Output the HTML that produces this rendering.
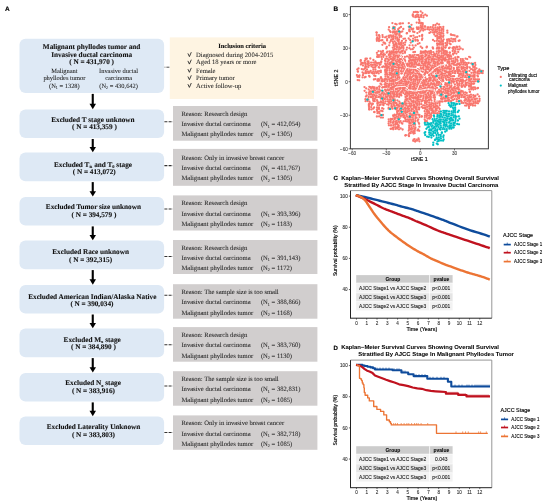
<!DOCTYPE html>
<html><head><meta charset="utf-8"><style>*{margin:0;padding:0}
html,body{width:550px;height:504px;background:#fff;overflow:hidden}
body{position:relative}
svg{position:absolute;left:0;top:0;text-rendering:geometricPrecision;will-change:transform}</style></head>
<body>
<svg style="font-family:&quot;Liberation Sans&quot;,sans-serif" width="550" height="504" viewBox="0 0 550 504">
<rect x="19.5" y="38.7" width="144.6" height="54.3" rx="6" fill="#dee9f5"/>
<text x="91.60" y="49.00" font-size="7.22" text-anchor="middle" font-weight="bold" fill="#111" stroke="#111" stroke-width="0.1" font-family="Liberation Serif">Malignant phyllodes tumor and</text>
<text x="91.60" y="56.90" font-size="7.22" text-anchor="middle" font-weight="bold" fill="#111" stroke="#111" stroke-width="0.1" font-family="Liberation Serif">Invasive ductal carcinoma</text>
<text x="91.60" y="64.30" font-size="7.22" text-anchor="middle" font-weight="bold" fill="#111" stroke="#111" stroke-width="0.1" font-family="Liberation Serif">( N = 431,970 )</text>
<text x="64.40" y="72.60" font-size="6.45" text-anchor="middle" font-weight="normal" fill="#1e1e1e" stroke="#1e1e1e" stroke-width="0.06" font-family="Liberation Serif">Malignant</text>
<text x="64.40" y="80.30" font-size="6.45" text-anchor="middle" font-weight="normal" fill="#1e1e1e" stroke="#1e1e1e" stroke-width="0.06" font-family="Liberation Serif">phyllodes tumor</text>
<text x="64.40" y="88.10" font-size="6.45" text-anchor="middle" font-weight="normal" fill="#1e1e1e" stroke="#1e1e1e" stroke-width="0.06" font-family="Liberation Serif">(N<tspan font-size="4.00" dy="1.29">1</tspan><tspan dy="-1.29"> = 1328)</tspan></text>
<text x="118.60" y="72.60" font-size="6.45" text-anchor="middle" font-weight="normal" fill="#1e1e1e" stroke="#1e1e1e" stroke-width="0.06" font-family="Liberation Serif">Invasive ductal</text>
<text x="118.60" y="80.30" font-size="6.45" text-anchor="middle" font-weight="normal" fill="#1e1e1e" stroke="#1e1e1e" stroke-width="0.06" font-family="Liberation Serif">carcinoma</text>
<text x="118.60" y="88.10" font-size="6.45" text-anchor="middle" font-weight="normal" fill="#1e1e1e" stroke="#1e1e1e" stroke-width="0.06" font-family="Liberation Serif">(N<tspan font-size="4.00" dy="1.29">2</tspan><tspan dy="-1.29"> = 430,642)</tspan></text>
<rect x="19.5" y="109.5" width="144.6" height="28.6" rx="6" fill="#dee9f5"/>
<text x="92.90" y="121.90" font-size="7.22" text-anchor="middle" font-weight="bold" fill="#111" stroke="#111" stroke-width="0.1" font-family="Liberation Serif">Excluded T stage unknown</text>
<text x="94.40" y="129.40" font-size="7.22" text-anchor="middle" font-weight="bold" fill="#111" stroke="#111" stroke-width="0.1" font-family="Liberation Serif">( N = 413,359 )</text>
<rect x="19.5" y="152.6" width="144.6" height="28.6" rx="6" fill="#dee9f5"/>
<text x="93.00" y="166.60" font-size="7.22" text-anchor="middle" font-weight="bold" fill="#111" stroke="#111" stroke-width="0.1" font-family="Liberation Serif">Excluded T<tspan font-size="4.48" dy="1.44">is</tspan><tspan dy="-1.44"> and T</tspan><tspan font-size="4.48" dy="1.44">0</tspan><tspan dy="-1.44"> stage</tspan></text>
<text x="94.20" y="174.30" font-size="7.22" text-anchor="middle" font-weight="bold" fill="#111" stroke="#111" stroke-width="0.1" font-family="Liberation Serif">( N = 413,072)</text>
<rect x="19.5" y="196.9" width="144.6" height="28.6" rx="6" fill="#dee9f5"/>
<text x="93.40" y="209.20" font-size="7.22" text-anchor="middle" font-weight="bold" fill="#111" stroke="#111" stroke-width="0.1" font-family="Liberation Serif">Excluded Tumor size unknown</text>
<text x="93.90" y="217.10" font-size="7.22" text-anchor="middle" font-weight="bold" fill="#111" stroke="#111" stroke-width="0.1" font-family="Liberation Serif">( N = 394,579 )</text>
<rect x="19.5" y="240.6" width="144.6" height="28.6" rx="6" fill="#dee9f5"/>
<text x="90.60" y="253.70" font-size="7.22" text-anchor="middle" font-weight="bold" fill="#111" stroke="#111" stroke-width="0.1" font-family="Liberation Serif">Excluded Race unknown</text>
<text x="90.60" y="261.60" font-size="7.22" text-anchor="middle" font-weight="bold" fill="#111" stroke="#111" stroke-width="0.1" font-family="Liberation Serif">( N = 392,315)</text>
<rect x="19.5" y="285.0" width="144.6" height="28.6" rx="6" fill="#dee9f5"/>
<text x="92.30" y="298.50" font-size="7.22" text-anchor="middle" font-weight="bold" fill="#111" stroke="#111" stroke-width="0.1" font-family="Liberation Serif">Excluded American Indian/Alaska Native</text>
<text x="91.90" y="305.90" font-size="7.22" text-anchor="middle" font-weight="bold" fill="#111" stroke="#111" stroke-width="0.1" font-family="Liberation Serif">( N = 390,034)</text>
<rect x="19.5" y="328.6" width="144.6" height="28.6" rx="6" fill="#dee9f5"/>
<text x="92.20" y="341.70" font-size="7.22" text-anchor="middle" font-weight="bold" fill="#111" stroke="#111" stroke-width="0.1" font-family="Liberation Serif">Excluded M<tspan font-size="4.48" dy="1.44">x</tspan><tspan dy="-1.44"> stage</tspan></text>
<text x="93.50" y="349.10" font-size="7.22" text-anchor="middle" font-weight="bold" fill="#111" stroke="#111" stroke-width="0.1" font-family="Liberation Serif">( N = 384,890 )</text>
<rect x="19.5" y="372.9" width="144.6" height="28.6" rx="6" fill="#dee9f5"/>
<text x="93.10" y="385.20" font-size="7.22" text-anchor="middle" font-weight="bold" fill="#111" stroke="#111" stroke-width="0.1" font-family="Liberation Serif">Excluded N<tspan font-size="4.48" dy="1.44">x</tspan><tspan dy="-1.44"> stage</tspan></text>
<text x="93.40" y="393.10" font-size="7.22" text-anchor="middle" font-weight="bold" fill="#111" stroke="#111" stroke-width="0.1" font-family="Liberation Serif">( N = 383,916)</text>
<rect x="19.5" y="416.5" width="144.6" height="28.6" rx="6" fill="#dee9f5"/>
<text x="93.50" y="429.20" font-size="7.22" text-anchor="middle" font-weight="bold" fill="#111" stroke="#111" stroke-width="0.1" font-family="Liberation Serif">Excluded Laterality Unknown</text>
<text x="93.40" y="437.10" font-size="7.22" text-anchor="middle" font-weight="bold" fill="#111" stroke="#111" stroke-width="0.1" font-family="Liberation Serif">( N = 383,803)</text>
<line x1="92.75" y1="93.9" x2="92.75" y2="105.5" stroke="#000" stroke-width="2.1"/>
<polygon points="89.5,103.8 96.0,103.8 92.8,109.2" fill="#000"/>
<line x1="92.75" y1="139.0" x2="92.75" y2="148.6" stroke="#000" stroke-width="2.1"/>
<polygon points="89.5,146.9 96.0,146.9 92.8,152.3" fill="#000"/>
<line x1="92.75" y1="182.1" x2="92.75" y2="192.9" stroke="#000" stroke-width="2.1"/>
<polygon points="89.5,191.2 96.0,191.2 92.8,196.6" fill="#000"/>
<line x1="92.75" y1="226.4" x2="92.75" y2="236.6" stroke="#000" stroke-width="2.1"/>
<polygon points="89.5,234.9 96.0,234.9 92.8,240.3" fill="#000"/>
<line x1="92.75" y1="270.1" x2="92.75" y2="281.0" stroke="#000" stroke-width="2.1"/>
<polygon points="89.5,279.3 96.0,279.3 92.8,284.7" fill="#000"/>
<line x1="92.75" y1="314.5" x2="92.75" y2="324.6" stroke="#000" stroke-width="2.1"/>
<polygon points="89.5,322.9 96.0,322.9 92.8,328.3" fill="#000"/>
<line x1="92.75" y1="358.1" x2="92.75" y2="368.9" stroke="#000" stroke-width="2.1"/>
<polygon points="89.5,367.2 96.0,367.2 92.8,372.6" fill="#000"/>
<line x1="92.75" y1="402.4" x2="92.75" y2="412.5" stroke="#000" stroke-width="2.1"/>
<polygon points="89.5,410.8 96.0,410.8 92.8,416.2" fill="#000"/>
<rect x="169.8" y="37.4" width="144.2" height="61.6" fill="#fef4e2"/>
<text x="242.10" y="47.60" font-size="6.5" text-anchor="middle" font-weight="bold" fill="#111" stroke="#111" stroke-width="0.1" font-family="Liberation Serif">Inclusion criteria</text>
<path d="M187.9,53.40 L189.4,56.60 L191.3,52.20" fill="none" stroke="#222" stroke-width="0.85" stroke-linejoin="miter"/>
<text x="196.10" y="56.80" font-size="6.6" text-anchor="start" font-weight="normal" fill="#262626" stroke="#262626" stroke-width="0.06" font-family="Liberation Serif">Diagnosed during 2004-2015</text>
<path d="M187.9,60.90 L189.4,64.10 L191.3,59.70" fill="none" stroke="#222" stroke-width="0.85" stroke-linejoin="miter"/>
<text x="196.10" y="64.30" font-size="6.6" text-anchor="start" font-weight="normal" fill="#262626" stroke="#262626" stroke-width="0.06" font-family="Liberation Serif">Aged 18 years or more</text>
<path d="M187.9,69.10 L189.4,72.30 L191.3,67.90" fill="none" stroke="#222" stroke-width="0.85" stroke-linejoin="miter"/>
<text x="196.10" y="72.50" font-size="6.6" text-anchor="start" font-weight="normal" fill="#262626" stroke="#262626" stroke-width="0.06" font-family="Liberation Serif">Female</text>
<path d="M187.9,76.50 L189.4,79.70 L191.3,75.30" fill="none" stroke="#222" stroke-width="0.85" stroke-linejoin="miter"/>
<text x="196.10" y="79.90" font-size="6.6" text-anchor="start" font-weight="normal" fill="#262626" stroke="#262626" stroke-width="0.06" font-family="Liberation Serif">Primary tumor</text>
<path d="M187.9,84.20 L189.4,87.40 L191.3,83.00" fill="none" stroke="#222" stroke-width="0.85" stroke-linejoin="miter"/>
<text x="196.10" y="87.60" font-size="6.6" text-anchor="start" font-weight="normal" fill="#262626" stroke="#262626" stroke-width="0.06" font-family="Liberation Serif">Active follow-up</text>
<rect x="173.0" y="106.0" width="144.4" height="34.7" fill="#d1cece"/>
<text x="181.40" y="115.85" font-size="6.6" text-anchor="start" font-weight="normal" fill="#262626" stroke="#262626" stroke-width="0.06" font-family="Liberation Serif">Reason: Research design</text>
<text x="181.40" y="126.25" font-size="6.6" text-anchor="start" font-weight="normal" fill="#262626" stroke="#262626" stroke-width="0.06" font-family="Liberation Serif">Invasive ductal carcinoma</text>
<text x="181.40" y="136.45" font-size="6.6" text-anchor="start" font-weight="normal" fill="#262626" stroke="#262626" stroke-width="0.06" font-family="Liberation Serif">Malignant phyllodes tumor</text>
<text x="260.90" y="126.25" font-size="6.6" text-anchor="start" font-weight="normal" fill="#262626" stroke="#262626" stroke-width="0.06" font-family="Liberation Serif">(N<tspan font-size="4.09" dy="1.32">1</tspan><tspan dy="-1.32"> = 412,054)</tspan></text>
<text x="260.90" y="136.45" font-size="6.6" text-anchor="start" font-weight="normal" fill="#262626" stroke="#262626" stroke-width="0.06" font-family="Liberation Serif">(N<tspan font-size="4.09" dy="1.32">2</tspan><tspan dy="-1.32"> = 1305)</tspan></text>
<rect x="173.0" y="148.9" width="144.4" height="36.9" fill="#d1cece"/>
<text x="181.40" y="159.85" font-size="6.6" text-anchor="start" font-weight="normal" fill="#262626" stroke="#262626" stroke-width="0.06" font-family="Liberation Serif">Reason: Only in invasive breast cancer</text>
<text x="181.40" y="170.25" font-size="6.6" text-anchor="start" font-weight="normal" fill="#262626" stroke="#262626" stroke-width="0.06" font-family="Liberation Serif">Invasive ductal carcinoma</text>
<text x="181.40" y="180.45" font-size="6.6" text-anchor="start" font-weight="normal" fill="#262626" stroke="#262626" stroke-width="0.06" font-family="Liberation Serif">Malignant phyllodes tumor</text>
<text x="260.90" y="170.25" font-size="6.6" text-anchor="start" font-weight="normal" fill="#262626" stroke="#262626" stroke-width="0.06" font-family="Liberation Serif">(N<tspan font-size="4.09" dy="1.32">1</tspan><tspan dy="-1.32"> = 411,767)</tspan></text>
<text x="260.90" y="180.45" font-size="6.6" text-anchor="start" font-weight="normal" fill="#262626" stroke="#262626" stroke-width="0.06" font-family="Liberation Serif">(N<tspan font-size="4.09" dy="1.32">2</tspan><tspan dy="-1.32"> = 1305)</tspan></text>
<rect x="173.0" y="195.4" width="144.4" height="35.1" fill="#d1cece"/>
<text x="181.40" y="205.45" font-size="6.6" text-anchor="start" font-weight="normal" fill="#262626" stroke="#262626" stroke-width="0.06" font-family="Liberation Serif">Reason: Research design</text>
<text x="181.40" y="215.85" font-size="6.6" text-anchor="start" font-weight="normal" fill="#262626" stroke="#262626" stroke-width="0.06" font-family="Liberation Serif">Invasive ductal carcinoma</text>
<text x="181.40" y="226.05" font-size="6.6" text-anchor="start" font-weight="normal" fill="#262626" stroke="#262626" stroke-width="0.06" font-family="Liberation Serif">Malignant phyllodes tumor</text>
<text x="260.90" y="215.85" font-size="6.6" text-anchor="start" font-weight="normal" fill="#262626" stroke="#262626" stroke-width="0.06" font-family="Liberation Serif">(N<tspan font-size="4.09" dy="1.32">1</tspan><tspan dy="-1.32"> = 393,396)</tspan></text>
<text x="260.90" y="226.05" font-size="6.6" text-anchor="start" font-weight="normal" fill="#262626" stroke="#262626" stroke-width="0.06" font-family="Liberation Serif">(N<tspan font-size="4.09" dy="1.32">2</tspan><tspan dy="-1.32"> = 1183)</tspan></text>
<rect x="173.0" y="240.0" width="144.4" height="34.0" fill="#d1cece"/>
<text x="181.40" y="249.50" font-size="6.6" text-anchor="start" font-weight="normal" fill="#262626" stroke="#262626" stroke-width="0.06" font-family="Liberation Serif">Reason: Research design</text>
<text x="181.40" y="259.90" font-size="6.6" text-anchor="start" font-weight="normal" fill="#262626" stroke="#262626" stroke-width="0.06" font-family="Liberation Serif">Invasive ductal carcinoma</text>
<text x="181.40" y="270.10" font-size="6.6" text-anchor="start" font-weight="normal" fill="#262626" stroke="#262626" stroke-width="0.06" font-family="Liberation Serif">Malignant phyllodes tumor</text>
<text x="260.90" y="259.90" font-size="6.6" text-anchor="start" font-weight="normal" fill="#262626" stroke="#262626" stroke-width="0.06" font-family="Liberation Serif">(N<tspan font-size="4.09" dy="1.32">1</tspan><tspan dy="-1.32"> = 391,143)</tspan></text>
<text x="260.90" y="270.10" font-size="6.6" text-anchor="start" font-weight="normal" fill="#262626" stroke="#262626" stroke-width="0.06" font-family="Liberation Serif">(N<tspan font-size="4.09" dy="1.32">2</tspan><tspan dy="-1.32"> = 1172)</tspan></text>
<rect x="173.0" y="284.2" width="144.4" height="34.5" fill="#d1cece"/>
<text x="181.40" y="293.95" font-size="6.6" text-anchor="start" font-weight="normal" fill="#262626" stroke="#262626" stroke-width="0.06" font-family="Liberation Serif">Reason: The sample size is too small</text>
<text x="181.40" y="304.35" font-size="6.6" text-anchor="start" font-weight="normal" fill="#262626" stroke="#262626" stroke-width="0.06" font-family="Liberation Serif">Invasive ductal carcinoma</text>
<text x="181.40" y="314.55" font-size="6.6" text-anchor="start" font-weight="normal" fill="#262626" stroke="#262626" stroke-width="0.06" font-family="Liberation Serif">Malignant phyllodes tumor</text>
<text x="260.90" y="304.35" font-size="6.6" text-anchor="start" font-weight="normal" fill="#262626" stroke="#262626" stroke-width="0.06" font-family="Liberation Serif">(N<tspan font-size="4.09" dy="1.32">1</tspan><tspan dy="-1.32"> = 388,866)</tspan></text>
<text x="260.90" y="314.55" font-size="6.6" text-anchor="start" font-weight="normal" fill="#262626" stroke="#262626" stroke-width="0.06" font-family="Liberation Serif">(N<tspan font-size="4.09" dy="1.32">2</tspan><tspan dy="-1.32"> = 1168)</tspan></text>
<rect x="173.0" y="327.1" width="144.4" height="34.6" fill="#d1cece"/>
<text x="181.40" y="336.90" font-size="6.6" text-anchor="start" font-weight="normal" fill="#262626" stroke="#262626" stroke-width="0.06" font-family="Liberation Serif">Reason: Research design</text>
<text x="181.40" y="347.30" font-size="6.6" text-anchor="start" font-weight="normal" fill="#262626" stroke="#262626" stroke-width="0.06" font-family="Liberation Serif">Invasive ductal carcinoma</text>
<text x="181.40" y="357.50" font-size="6.6" text-anchor="start" font-weight="normal" fill="#262626" stroke="#262626" stroke-width="0.06" font-family="Liberation Serif">Malignant phyllodes tumor</text>
<text x="260.90" y="347.30" font-size="6.6" text-anchor="start" font-weight="normal" fill="#262626" stroke="#262626" stroke-width="0.06" font-family="Liberation Serif">(N<tspan font-size="4.09" dy="1.32">1</tspan><tspan dy="-1.32"> = 383,760)</tspan></text>
<text x="260.90" y="357.50" font-size="6.6" text-anchor="start" font-weight="normal" fill="#262626" stroke="#262626" stroke-width="0.06" font-family="Liberation Serif">(N<tspan font-size="4.09" dy="1.32">2</tspan><tspan dy="-1.32"> = 1130)</tspan></text>
<rect x="173.0" y="371.2" width="144.4" height="34.5" fill="#d1cece"/>
<text x="181.40" y="380.95" font-size="6.6" text-anchor="start" font-weight="normal" fill="#262626" stroke="#262626" stroke-width="0.06" font-family="Liberation Serif">Reason: The sample size is too small</text>
<text x="181.40" y="391.35" font-size="6.6" text-anchor="start" font-weight="normal" fill="#262626" stroke="#262626" stroke-width="0.06" font-family="Liberation Serif">Invasive ductal carcinoma</text>
<text x="181.40" y="401.55" font-size="6.6" text-anchor="start" font-weight="normal" fill="#262626" stroke="#262626" stroke-width="0.06" font-family="Liberation Serif">Malignant phyllodes tumor</text>
<text x="260.90" y="391.35" font-size="6.6" text-anchor="start" font-weight="normal" fill="#262626" stroke="#262626" stroke-width="0.06" font-family="Liberation Serif">(N<tspan font-size="4.09" dy="1.32">1</tspan><tspan dy="-1.32"> = 382,831)</tspan></text>
<text x="260.90" y="401.55" font-size="6.6" text-anchor="start" font-weight="normal" fill="#262626" stroke="#262626" stroke-width="0.06" font-family="Liberation Serif">(N<tspan font-size="4.09" dy="1.32">2</tspan><tspan dy="-1.32"> = 1085)</tspan></text>
<rect x="173.0" y="415.4" width="144.4" height="34.4" fill="#d1cece"/>
<text x="181.40" y="425.10" font-size="6.6" text-anchor="start" font-weight="normal" fill="#262626" stroke="#262626" stroke-width="0.06" font-family="Liberation Serif">Reason: Only in invasive breast cancer</text>
<text x="181.40" y="435.50" font-size="6.6" text-anchor="start" font-weight="normal" fill="#262626" stroke="#262626" stroke-width="0.06" font-family="Liberation Serif">Invasive ductal carcinoma</text>
<text x="181.40" y="445.70" font-size="6.6" text-anchor="start" font-weight="normal" fill="#262626" stroke="#262626" stroke-width="0.06" font-family="Liberation Serif">Malignant phyllodes tumor</text>
<text x="260.90" y="435.50" font-size="6.6" text-anchor="start" font-weight="normal" fill="#262626" stroke="#262626" stroke-width="0.06" font-family="Liberation Serif">(N<tspan font-size="4.09" dy="1.32">1</tspan><tspan dy="-1.32"> = 382,718)</tspan></text>
<text x="260.90" y="445.70" font-size="6.6" text-anchor="start" font-weight="normal" fill="#262626" stroke="#262626" stroke-width="0.06" font-family="Liberation Serif">(N<tspan font-size="4.09" dy="1.32">2</tspan><tspan dy="-1.32"> = 1085)</tspan></text>
<line x1="164.4" y1="121.8" x2="173" y2="121.8" stroke="#333" stroke-width="1.05" stroke-dasharray="3 1.2"/>
<line x1="164.4" y1="165.6" x2="173" y2="165.6" stroke="#333" stroke-width="1.05" stroke-dasharray="3 1.2"/>
<line x1="164.4" y1="209.0" x2="173" y2="209.0" stroke="#333" stroke-width="1.05" stroke-dasharray="3 1.2"/>
<line x1="164.4" y1="256.4" x2="173" y2="256.4" stroke="#333" stroke-width="1.05" stroke-dasharray="3 1.2"/>
<line x1="164.4" y1="295.2" x2="173" y2="295.2" stroke="#333" stroke-width="1.05" stroke-dasharray="3 1.2"/>
<line x1="164.4" y1="344.8" x2="173" y2="344.8" stroke="#333" stroke-width="1.05" stroke-dasharray="3 1.2"/>
<line x1="164.4" y1="386.0" x2="173" y2="386.0" stroke="#333" stroke-width="1.05" stroke-dasharray="3 1.2"/>
<line x1="164.4" y1="432.5" x2="173" y2="432.5" stroke="#333" stroke-width="1.05" stroke-dasharray="3 1.2"/>
<line x1="164.6" y1="67.2" x2="169.8" y2="67.2" stroke="#3a3a3a" stroke-width="0.9" stroke-dasharray="0.8 1 3 1"/>
<text x="5.00" y="11.00" font-size="6.5" text-anchor="start" font-weight="bold" fill="#000" stroke="#000" stroke-width="0.15" text-rendering="geometricPrecision" >A</text>
<text x="333.40" y="11.10" font-size="6.4" text-anchor="start" font-weight="bold" fill="#000" stroke="#000" stroke-width="0.15" text-rendering="geometricPrecision" >B</text>
<g fill="#F8766D"><circle cx="413.8" cy="12.2" r="1.15"/><circle cx="415.4" cy="11.9" r="1.15"/><circle cx="418.0" cy="12.3" r="1.15"/><circle cx="417.0" cy="12.0" r="1.15"/><circle cx="422.4" cy="12.9" r="1.15"/><circle cx="420.7" cy="11.4" r="1.15"/><circle cx="412.7" cy="15.4" r="1.15"/><circle cx="413.3" cy="16.6" r="1.15"/><circle cx="415.6" cy="15.6" r="1.15"/><circle cx="415.3" cy="17.2" r="1.15"/><circle cx="412.9" cy="14.4" r="1.15"/><circle cx="417.1" cy="14.7" r="1.15"/><circle cx="416.8" cy="16.8" r="1.15"/><circle cx="418.6" cy="15.1" r="1.15"/><circle cx="419.0" cy="17.4" r="1.15"/><circle cx="418.1" cy="16.4" r="1.15"/><circle cx="421.1" cy="15.3" r="1.15"/><circle cx="421.1" cy="16.9" r="1.15"/><circle cx="423.6" cy="15.6" r="1.15"/><circle cx="423.4" cy="17.3" r="1.15"/><circle cx="421.4" cy="15.1" r="1.15"/><circle cx="425.3" cy="14.6" r="1.15"/><circle cx="426.9" cy="15.7" r="1.15"/><circle cx="419.1" cy="19.6" r="1.15"/><circle cx="419.5" cy="21.1" r="1.15"/><circle cx="392.4" cy="23.1" r="1.15"/><circle cx="395.3" cy="23.9" r="1.15"/><circle cx="399.5" cy="23.7" r="1.15"/><circle cx="396.6" cy="24.4" r="1.15"/><circle cx="402.9" cy="23.3" r="1.15"/><circle cx="400.7" cy="23.5" r="1.15"/><circle cx="411.5" cy="24.8" r="1.15"/><circle cx="408.8" cy="23.2" r="1.15"/><circle cx="416.7" cy="22.6" r="1.15"/><circle cx="419.0" cy="23.0" r="1.15"/><circle cx="421.2" cy="23.0" r="1.15"/><circle cx="420.8" cy="25.3" r="1.15"/><circle cx="422.7" cy="23.2" r="1.15"/><circle cx="422.7" cy="25.0" r="1.15"/><circle cx="421.1" cy="23.3" r="1.15"/><circle cx="435.5" cy="25.0" r="1.15"/><circle cx="433.4" cy="25.2" r="1.15"/><circle cx="437.1" cy="23.7" r="1.15"/><circle cx="439.1" cy="24.5" r="1.15"/><circle cx="388.7" cy="29.6" r="1.15"/><circle cx="389.1" cy="27.2" r="1.15"/><circle cx="393.4" cy="26.9" r="1.15"/><circle cx="392.9" cy="28.7" r="1.15"/><circle cx="394.7" cy="27.2" r="1.15"/><circle cx="394.8" cy="29.2" r="1.15"/><circle cx="399.5" cy="27.9" r="1.15"/><circle cx="398.2" cy="29.2" r="1.15"/><circle cx="401.0" cy="26.9" r="1.15"/><circle cx="403.3" cy="29.0" r="1.15"/><circle cx="408.8" cy="26.8" r="1.15"/><circle cx="409.3" cy="29.5" r="1.15"/><circle cx="410.8" cy="27.6" r="1.15"/><circle cx="411.5" cy="29.2" r="1.15"/><circle cx="412.5" cy="29.5" r="1.15"/><circle cx="413.2" cy="28.7" r="1.15"/><circle cx="416.9" cy="27.4" r="1.15"/><circle cx="417.2" cy="28.9" r="1.15"/><circle cx="418.8" cy="27.3" r="1.15"/><circle cx="418.7" cy="28.8" r="1.15"/><circle cx="418.2" cy="29.1" r="1.15"/><circle cx="421.2" cy="26.9" r="1.15"/><circle cx="421.5" cy="28.8" r="1.15"/><circle cx="422.6" cy="26.9" r="1.15"/><circle cx="423.0" cy="28.7" r="1.15"/><circle cx="421.0" cy="27.6" r="1.15"/><circle cx="425.2" cy="26.7" r="1.15"/><circle cx="425.0" cy="29.5" r="1.15"/><circle cx="427.6" cy="27.3" r="1.15"/><circle cx="427.3" cy="29.2" r="1.15"/><circle cx="424.8" cy="26.5" r="1.15"/><circle cx="428.6" cy="27.5" r="1.15"/><circle cx="429.3" cy="29.6" r="1.15"/><circle cx="430.6" cy="27.2" r="1.15"/><circle cx="431.1" cy="29.3" r="1.15"/><circle cx="429.4" cy="29.6" r="1.15"/><circle cx="432.7" cy="27.1" r="1.15"/><circle cx="433.3" cy="29.5" r="1.15"/><circle cx="435.3" cy="27.3" r="1.15"/><circle cx="435.4" cy="29.5" r="1.15"/><circle cx="433.5" cy="28.6" r="1.15"/><circle cx="437.5" cy="27.5" r="1.15"/><circle cx="437.0" cy="29.4" r="1.15"/><circle cx="439.5" cy="27.2" r="1.15"/><circle cx="439.2" cy="29.0" r="1.15"/><circle cx="438.3" cy="28.3" r="1.15"/><circle cx="440.7" cy="27.2" r="1.15"/><circle cx="441.6" cy="29.5" r="1.15"/><circle cx="443.3" cy="27.0" r="1.15"/><circle cx="443.3" cy="29.2" r="1.15"/><circle cx="441.8" cy="29.1" r="1.15"/><circle cx="376.7" cy="32.8" r="1.15"/><circle cx="376.5" cy="32.3" r="1.15"/><circle cx="389.9" cy="31.1" r="1.15"/><circle cx="390.6" cy="32.0" r="1.15"/><circle cx="393.2" cy="31.5" r="1.15"/><circle cx="392.9" cy="32.6" r="1.15"/><circle cx="394.9" cy="31.3" r="1.15"/><circle cx="394.8" cy="32.8" r="1.15"/><circle cx="395.3" cy="32.5" r="1.15"/><circle cx="397.0" cy="31.5" r="1.15"/><circle cx="396.9" cy="33.3" r="1.15"/><circle cx="398.8" cy="31.0" r="1.15"/><circle cx="399.4" cy="33.5" r="1.15"/><circle cx="402.3" cy="31.4" r="1.15"/><circle cx="400.8" cy="32.0" r="1.15"/><circle cx="407.1" cy="33.1" r="1.15"/><circle cx="406.7" cy="33.4" r="1.15"/><circle cx="409.3" cy="30.9" r="1.15"/><circle cx="409.8" cy="31.3" r="1.15"/><circle cx="413.1" cy="31.7" r="1.15"/><circle cx="414.4" cy="32.0" r="1.15"/><circle cx="417.4" cy="33.1" r="1.15"/><circle cx="419.5" cy="31.8" r="1.15"/><circle cx="420.6" cy="30.5" r="1.15"/><circle cx="423.2" cy="30.5" r="1.15"/><circle cx="430.7" cy="32.2" r="1.15"/><circle cx="429.4" cy="32.9" r="1.15"/><circle cx="432.6" cy="30.7" r="1.15"/><circle cx="433.1" cy="32.6" r="1.15"/><circle cx="435.4" cy="30.8" r="1.15"/><circle cx="434.7" cy="32.6" r="1.15"/><circle cx="434.4" cy="31.8" r="1.15"/><circle cx="437.2" cy="31.3" r="1.15"/><circle cx="437.4" cy="33.6" r="1.15"/><circle cx="439.3" cy="30.8" r="1.15"/><circle cx="439.1" cy="32.8" r="1.15"/><circle cx="436.4" cy="31.9" r="1.15"/><circle cx="441.3" cy="30.8" r="1.15"/><circle cx="440.9" cy="32.9" r="1.15"/><circle cx="443.3" cy="31.1" r="1.15"/><circle cx="443.2" cy="33.4" r="1.15"/><circle cx="441.7" cy="32.9" r="1.15"/><circle cx="447.3" cy="30.7" r="1.15"/><circle cx="447.4" cy="32.7" r="1.15"/><circle cx="376.7" cy="35.1" r="1.15"/><circle cx="377.2" cy="37.5" r="1.15"/><circle cx="379.0" cy="35.2" r="1.15"/><circle cx="379.5" cy="37.4" r="1.15"/><circle cx="379.4" cy="35.9" r="1.15"/><circle cx="382.5" cy="35.1" r="1.15"/><circle cx="382.7" cy="37.0" r="1.15"/><circle cx="386.5" cy="36.7" r="1.15"/><circle cx="385.1" cy="37.3" r="1.15"/><circle cx="389.6" cy="35.6" r="1.15"/><circle cx="389.1" cy="37.4" r="1.15"/><circle cx="390.9" cy="35.5" r="1.15"/><circle cx="391.5" cy="36.9" r="1.15"/><circle cx="388.7" cy="35.8" r="1.15"/><circle cx="393.2" cy="35.4" r="1.15"/><circle cx="393.1" cy="36.6" r="1.15"/><circle cx="395.4" cy="34.7" r="1.15"/><circle cx="395.4" cy="36.8" r="1.15"/><circle cx="393.5" cy="36.9" r="1.15"/><circle cx="396.7" cy="34.7" r="1.15"/><circle cx="397.1" cy="37.3" r="1.15"/><circle cx="399.4" cy="35.3" r="1.15"/><circle cx="399.5" cy="37.1" r="1.15"/><circle cx="399.4" cy="34.7" r="1.15"/><circle cx="401.1" cy="36.1" r="1.15"/><circle cx="401.3" cy="36.7" r="1.15"/><circle cx="410.4" cy="36.1" r="1.15"/><circle cx="411.1" cy="36.2" r="1.15"/><circle cx="413.4" cy="35.6" r="1.15"/><circle cx="415.1" cy="37.3" r="1.15"/><circle cx="417.1" cy="37.1" r="1.15"/><circle cx="419.5" cy="36.1" r="1.15"/><circle cx="422.2" cy="35.0" r="1.15"/><circle cx="422.1" cy="36.0" r="1.15"/><circle cx="434.3" cy="34.5" r="1.15"/><circle cx="435.5" cy="36.1" r="1.15"/><circle cx="437.0" cy="35.4" r="1.15"/><circle cx="437.2" cy="37.1" r="1.15"/><circle cx="439.3" cy="34.7" r="1.15"/><circle cx="439.1" cy="37.0" r="1.15"/><circle cx="439.5" cy="37.4" r="1.15"/><circle cx="440.9" cy="35.1" r="1.15"/><circle cx="440.7" cy="37.0" r="1.15"/><circle cx="443.4" cy="35.5" r="1.15"/><circle cx="443.1" cy="36.9" r="1.15"/><circle cx="441.0" cy="36.4" r="1.15"/><circle cx="451.4" cy="34.8" r="1.15"/><circle cx="450.9" cy="34.5" r="1.15"/><circle cx="453.0" cy="35.1" r="1.15"/><circle cx="454.6" cy="35.4" r="1.15"/><circle cx="457.5" cy="36.4" r="1.15"/><circle cx="456.7" cy="36.7" r="1.15"/><circle cx="376.7" cy="39.1" r="1.15"/><circle cx="376.9" cy="40.8" r="1.15"/><circle cx="379.1" cy="39.0" r="1.15"/><circle cx="379.0" cy="41.0" r="1.15"/><circle cx="378.1" cy="38.9" r="1.15"/><circle cx="381.1" cy="40.4" r="1.15"/><circle cx="382.4" cy="40.1" r="1.15"/><circle cx="387.1" cy="40.4" r="1.15"/><circle cx="387.1" cy="39.1" r="1.15"/><circle cx="390.8" cy="41.0" r="1.15"/><circle cx="391.3" cy="39.4" r="1.15"/><circle cx="392.9" cy="39.5" r="1.15"/><circle cx="392.8" cy="41.6" r="1.15"/><circle cx="395.5" cy="38.7" r="1.15"/><circle cx="394.8" cy="41.3" r="1.15"/><circle cx="393.2" cy="38.7" r="1.15"/><circle cx="397.4" cy="39.0" r="1.15"/><circle cx="397.4" cy="40.7" r="1.15"/><circle cx="399.0" cy="39.3" r="1.15"/><circle cx="398.6" cy="40.8" r="1.15"/><circle cx="398.6" cy="41.3" r="1.15"/><circle cx="403.5" cy="38.8" r="1.15"/><circle cx="402.0" cy="40.8" r="1.15"/><circle cx="406.0" cy="40.6" r="1.15"/><circle cx="405.0" cy="38.6" r="1.15"/><circle cx="408.7" cy="38.5" r="1.15"/><circle cx="410.2" cy="40.0" r="1.15"/><circle cx="413.2" cy="38.7" r="1.15"/><circle cx="412.8" cy="40.8" r="1.15"/><circle cx="415.4" cy="39.6" r="1.15"/><circle cx="415.5" cy="40.7" r="1.15"/><circle cx="417.9" cy="40.8" r="1.15"/><circle cx="417.4" cy="39.9" r="1.15"/><circle cx="422.0" cy="39.8" r="1.15"/><circle cx="422.3" cy="38.4" r="1.15"/><circle cx="434.6" cy="41.1" r="1.15"/><circle cx="433.0" cy="39.9" r="1.15"/><circle cx="437.3" cy="39.0" r="1.15"/><circle cx="436.8" cy="40.8" r="1.15"/><circle cx="439.1" cy="38.6" r="1.15"/><circle cx="439.5" cy="41.4" r="1.15"/><circle cx="438.7" cy="41.2" r="1.15"/><circle cx="441.2" cy="39.0" r="1.15"/><circle cx="441.2" cy="41.1" r="1.15"/><circle cx="443.6" cy="39.4" r="1.15"/><circle cx="442.9" cy="41.5" r="1.15"/><circle cx="442.8" cy="40.9" r="1.15"/><circle cx="447.0" cy="39.7" r="1.15"/><circle cx="447.3" cy="41.2" r="1.15"/><circle cx="449.3" cy="39.4" r="1.15"/><circle cx="449.4" cy="41.0" r="1.15"/><circle cx="451.3" cy="38.7" r="1.15"/><circle cx="450.9" cy="41.1" r="1.15"/><circle cx="448.4" cy="39.5" r="1.15"/><circle cx="453.2" cy="39.2" r="1.15"/><circle cx="452.8" cy="41.5" r="1.15"/><circle cx="455.3" cy="38.9" r="1.15"/><circle cx="455.3" cy="41.2" r="1.15"/><circle cx="454.1" cy="39.6" r="1.15"/><circle cx="459.6" cy="40.5" r="1.15"/><circle cx="458.6" cy="40.8" r="1.15"/><circle cx="383.5" cy="42.5" r="1.15"/><circle cx="382.4" cy="44.8" r="1.15"/><circle cx="385.2" cy="43.7" r="1.15"/><circle cx="384.6" cy="43.0" r="1.15"/><circle cx="389.6" cy="42.7" r="1.15"/><circle cx="389.2" cy="45.3" r="1.15"/><circle cx="393.2" cy="43.1" r="1.15"/><circle cx="393.6" cy="45.2" r="1.15"/><circle cx="395.6" cy="43.2" r="1.15"/><circle cx="395.4" cy="44.7" r="1.15"/><circle cx="394.3" cy="44.8" r="1.15"/><circle cx="396.6" cy="43.5" r="1.15"/><circle cx="396.8" cy="45.1" r="1.15"/><circle cx="398.8" cy="43.1" r="1.15"/><circle cx="399.2" cy="44.7" r="1.15"/><circle cx="399.4" cy="43.7" r="1.15"/><circle cx="401.1" cy="43.2" r="1.15"/><circle cx="401.0" cy="44.9" r="1.15"/><circle cx="403.3" cy="43.2" r="1.15"/><circle cx="402.9" cy="45.3" r="1.15"/><circle cx="401.3" cy="42.4" r="1.15"/><circle cx="405.2" cy="42.5" r="1.15"/><circle cx="404.9" cy="44.8" r="1.15"/><circle cx="409.6" cy="45.3" r="1.15"/><circle cx="410.8" cy="42.6" r="1.15"/><circle cx="415.6" cy="45.4" r="1.15"/><circle cx="412.6" cy="45.3" r="1.15"/><circle cx="417.8" cy="43.9" r="1.15"/><circle cx="419.5" cy="43.2" r="1.15"/><circle cx="437.1" cy="43.5" r="1.15"/><circle cx="437.3" cy="45.1" r="1.15"/><circle cx="439.6" cy="43.4" r="1.15"/><circle cx="439.2" cy="44.7" r="1.15"/><circle cx="438.4" cy="43.9" r="1.15"/><circle cx="440.8" cy="42.7" r="1.15"/><circle cx="441.1" cy="44.7" r="1.15"/><circle cx="443.0" cy="43.3" r="1.15"/><circle cx="443.1" cy="44.9" r="1.15"/><circle cx="442.3" cy="43.7" r="1.15"/><circle cx="445.4" cy="43.1" r="1.15"/><circle cx="445.6" cy="45.6" r="1.15"/><circle cx="447.3" cy="42.8" r="1.15"/><circle cx="446.7" cy="45.5" r="1.15"/><circle cx="446.9" cy="44.4" r="1.15"/><circle cx="449.5" cy="43.3" r="1.15"/><circle cx="450.6" cy="44.2" r="1.15"/><circle cx="386.3" cy="48.4" r="1.15"/><circle cx="386.8" cy="47.0" r="1.15"/><circle cx="392.8" cy="47.6" r="1.15"/><circle cx="393.5" cy="49.5" r="1.15"/><circle cx="394.6" cy="46.7" r="1.15"/><circle cx="394.9" cy="49.0" r="1.15"/><circle cx="394.4" cy="46.7" r="1.15"/><circle cx="397.1" cy="46.7" r="1.15"/><circle cx="396.7" cy="49.3" r="1.15"/><circle cx="399.2" cy="47.2" r="1.15"/><circle cx="399.0" cy="49.1" r="1.15"/><circle cx="397.1" cy="47.5" r="1.15"/><circle cx="401.3" cy="47.4" r="1.15"/><circle cx="400.7" cy="48.7" r="1.15"/><circle cx="403.4" cy="47.2" r="1.15"/><circle cx="403.4" cy="48.8" r="1.15"/><circle cx="401.8" cy="47.2" r="1.15"/><circle cx="407.0" cy="47.6" r="1.15"/><circle cx="406.5" cy="49.6" r="1.15"/><circle cx="409.4" cy="48.2" r="1.15"/><circle cx="410.8" cy="49.3" r="1.15"/><circle cx="413.8" cy="47.6" r="1.15"/><circle cx="412.7" cy="49.2" r="1.15"/><circle cx="420.7" cy="46.7" r="1.15"/><circle cx="422.2" cy="48.0" r="1.15"/><circle cx="426.6" cy="47.4" r="1.15"/><circle cx="426.9" cy="46.6" r="1.15"/><circle cx="433.1" cy="48.5" r="1.15"/><circle cx="432.7" cy="47.4" r="1.15"/><circle cx="437.3" cy="47.3" r="1.15"/><circle cx="436.9" cy="48.7" r="1.15"/><circle cx="439.0" cy="47.3" r="1.15"/><circle cx="439.0" cy="48.7" r="1.15"/><circle cx="438.7" cy="48.2" r="1.15"/><circle cx="441.5" cy="47.5" r="1.15"/><circle cx="441.5" cy="49.0" r="1.15"/><circle cx="443.4" cy="46.9" r="1.15"/><circle cx="442.9" cy="49.0" r="1.15"/><circle cx="443.4" cy="49.3" r="1.15"/><circle cx="445.2" cy="47.6" r="1.15"/><circle cx="445.6" cy="47.6" r="1.15"/><circle cx="449.7" cy="47.6" r="1.15"/><circle cx="449.0" cy="48.2" r="1.15"/><circle cx="453.4" cy="47.1" r="1.15"/><circle cx="453.4" cy="49.2" r="1.15"/><circle cx="454.8" cy="47.4" r="1.15"/><circle cx="455.5" cy="48.9" r="1.15"/><circle cx="452.5" cy="48.1" r="1.15"/><circle cx="457.1" cy="47.2" r="1.15"/><circle cx="457.6" cy="49.3" r="1.15"/><circle cx="459.4" cy="46.7" r="1.15"/><circle cx="459.1" cy="49.4" r="1.15"/><circle cx="456.7" cy="46.7" r="1.15"/><circle cx="462.8" cy="49.3" r="1.15"/><circle cx="460.7" cy="48.4" r="1.15"/><circle cx="376.9" cy="52.8" r="1.15"/><circle cx="378.5" cy="51.2" r="1.15"/><circle cx="380.8" cy="51.4" r="1.15"/><circle cx="381.1" cy="53.4" r="1.15"/><circle cx="383.0" cy="50.9" r="1.15"/><circle cx="383.6" cy="53.3" r="1.15"/><circle cx="382.0" cy="52.1" r="1.15"/><circle cx="386.7" cy="52.7" r="1.15"/><circle cx="387.3" cy="51.7" r="1.15"/><circle cx="389.4" cy="51.3" r="1.15"/><circle cx="389.5" cy="53.4" r="1.15"/><circle cx="391.4" cy="51.5" r="1.15"/><circle cx="391.6" cy="53.2" r="1.15"/><circle cx="390.1" cy="52.7" r="1.15"/><circle cx="393.4" cy="51.0" r="1.15"/><circle cx="393.0" cy="52.7" r="1.15"/><circle cx="395.3" cy="51.6" r="1.15"/><circle cx="395.0" cy="52.8" r="1.15"/><circle cx="393.1" cy="51.8" r="1.15"/><circle cx="396.9" cy="51.6" r="1.15"/><circle cx="396.7" cy="52.9" r="1.15"/><circle cx="398.7" cy="51.2" r="1.15"/><circle cx="399.4" cy="52.8" r="1.15"/><circle cx="396.6" cy="51.9" r="1.15"/><circle cx="401.2" cy="51.5" r="1.15"/><circle cx="400.6" cy="52.7" r="1.15"/><circle cx="402.8" cy="50.8" r="1.15"/><circle cx="402.8" cy="53.3" r="1.15"/><circle cx="402.3" cy="51.1" r="1.15"/><circle cx="405.0" cy="51.3" r="1.15"/><circle cx="405.0" cy="52.8" r="1.15"/><circle cx="413.4" cy="52.2" r="1.15"/><circle cx="415.0" cy="51.9" r="1.15"/><circle cx="420.9" cy="51.5" r="1.15"/><circle cx="421.5" cy="52.9" r="1.15"/><circle cx="423.1" cy="51.6" r="1.15"/><circle cx="423.1" cy="52.8" r="1.15"/><circle cx="420.6" cy="53.4" r="1.15"/><circle cx="425.4" cy="51.0" r="1.15"/><circle cx="425.1" cy="53.1" r="1.15"/><circle cx="426.9" cy="51.6" r="1.15"/><circle cx="427.3" cy="52.8" r="1.15"/><circle cx="424.4" cy="51.9" r="1.15"/><circle cx="429.0" cy="51.4" r="1.15"/><circle cx="429.3" cy="53.2" r="1.15"/><circle cx="430.8" cy="50.8" r="1.15"/><circle cx="430.9" cy="52.9" r="1.15"/><circle cx="431.2" cy="52.1" r="1.15"/><circle cx="434.4" cy="53.6" r="1.15"/><circle cx="433.3" cy="52.1" r="1.15"/><circle cx="436.8" cy="51.4" r="1.15"/><circle cx="436.6" cy="53.4" r="1.15"/><circle cx="439.4" cy="51.4" r="1.15"/><circle cx="438.7" cy="52.9" r="1.15"/><circle cx="438.7" cy="50.7" r="1.15"/><circle cx="441.1" cy="51.1" r="1.15"/><circle cx="441.6" cy="53.2" r="1.15"/><circle cx="443.5" cy="50.9" r="1.15"/><circle cx="443.4" cy="53.0" r="1.15"/><circle cx="443.3" cy="50.7" r="1.15"/><circle cx="445.4" cy="50.8" r="1.15"/><circle cx="445.1" cy="53.1" r="1.15"/><circle cx="446.8" cy="51.4" r="1.15"/><circle cx="446.9" cy="52.9" r="1.15"/><circle cx="444.6" cy="51.4" r="1.15"/><circle cx="449.9" cy="52.7" r="1.15"/><circle cx="449.6" cy="52.6" r="1.15"/><circle cx="452.7" cy="51.0" r="1.15"/><circle cx="453.1" cy="53.6" r="1.15"/><circle cx="455.4" cy="51.3" r="1.15"/><circle cx="454.6" cy="53.0" r="1.15"/><circle cx="454.7" cy="51.2" r="1.15"/><circle cx="458.2" cy="51.9" r="1.15"/><circle cx="456.4" cy="53.6" r="1.15"/><circle cx="377.4" cy="54.8" r="1.15"/><circle cx="377.2" cy="56.9" r="1.15"/><circle cx="379.0" cy="55.1" r="1.15"/><circle cx="378.9" cy="56.9" r="1.15"/><circle cx="377.7" cy="56.5" r="1.15"/><circle cx="380.9" cy="54.8" r="1.15"/><circle cx="381.3" cy="56.9" r="1.15"/><circle cx="383.5" cy="55.2" r="1.15"/><circle cx="383.3" cy="56.9" r="1.15"/><circle cx="383.0" cy="54.7" r="1.15"/><circle cx="384.9" cy="54.7" r="1.15"/><circle cx="386.6" cy="56.7" r="1.15"/><circle cx="388.8" cy="55.0" r="1.15"/><circle cx="389.4" cy="57.2" r="1.15"/><circle cx="390.7" cy="54.8" r="1.15"/><circle cx="390.8" cy="56.7" r="1.15"/><circle cx="389.7" cy="54.6" r="1.15"/><circle cx="393.5" cy="55.0" r="1.15"/><circle cx="393.1" cy="57.2" r="1.15"/><circle cx="395.4" cy="55.4" r="1.15"/><circle cx="395.0" cy="56.9" r="1.15"/><circle cx="393.7" cy="54.4" r="1.15"/><circle cx="397.0" cy="55.3" r="1.15"/><circle cx="397.6" cy="57.4" r="1.15"/><circle cx="399.3" cy="55.2" r="1.15"/><circle cx="398.6" cy="56.9" r="1.15"/><circle cx="397.5" cy="56.5" r="1.15"/><circle cx="400.7" cy="55.6" r="1.15"/><circle cx="402.0" cy="56.9" r="1.15"/><circle cx="407.0" cy="56.4" r="1.15"/><circle cx="404.9" cy="56.9" r="1.15"/><circle cx="409.5" cy="55.1" r="1.15"/><circle cx="409.0" cy="57.1" r="1.15"/><circle cx="410.7" cy="55.3" r="1.15"/><circle cx="411.6" cy="57.1" r="1.15"/><circle cx="410.7" cy="57.1" r="1.15"/><circle cx="412.8" cy="55.5" r="1.15"/><circle cx="413.2" cy="56.8" r="1.15"/><circle cx="414.7" cy="54.8" r="1.15"/><circle cx="415.2" cy="57.3" r="1.15"/><circle cx="413.5" cy="57.4" r="1.15"/><circle cx="417.0" cy="55.1" r="1.15"/><circle cx="416.7" cy="57.6" r="1.15"/><circle cx="418.7" cy="55.5" r="1.15"/><circle cx="419.1" cy="57.2" r="1.15"/><circle cx="418.2" cy="55.2" r="1.15"/><circle cx="421.5" cy="55.6" r="1.15"/><circle cx="421.4" cy="57.2" r="1.15"/><circle cx="422.7" cy="55.4" r="1.15"/><circle cx="422.9" cy="57.5" r="1.15"/><circle cx="421.2" cy="56.2" r="1.15"/><circle cx="425.4" cy="54.8" r="1.15"/><circle cx="425.1" cy="56.7" r="1.15"/><circle cx="426.6" cy="54.8" r="1.15"/><circle cx="427.6" cy="57.5" r="1.15"/><circle cx="426.5" cy="55.4" r="1.15"/><circle cx="429.3" cy="55.3" r="1.15"/><circle cx="429.0" cy="57.2" r="1.15"/><circle cx="431.4" cy="54.6" r="1.15"/><circle cx="430.8" cy="57.1" r="1.15"/><circle cx="428.9" cy="55.6" r="1.15"/><circle cx="433.2" cy="54.8" r="1.15"/><circle cx="433.1" cy="56.9" r="1.15"/><circle cx="435.2" cy="54.9" r="1.15"/><circle cx="435.2" cy="56.6" r="1.15"/><circle cx="434.5" cy="54.9" r="1.15"/><circle cx="437.6" cy="55.2" r="1.15"/><circle cx="437.1" cy="57.0" r="1.15"/><circle cx="439.2" cy="55.3" r="1.15"/><circle cx="439.4" cy="57.4" r="1.15"/><circle cx="438.0" cy="57.6" r="1.15"/><circle cx="441.4" cy="55.5" r="1.15"/><circle cx="441.0" cy="57.0" r="1.15"/><circle cx="443.2" cy="55.5" r="1.15"/><circle cx="443.1" cy="57.1" r="1.15"/><circle cx="441.8" cy="57.3" r="1.15"/><circle cx="444.9" cy="54.7" r="1.15"/><circle cx="445.3" cy="57.5" r="1.15"/><circle cx="447.3" cy="55.2" r="1.15"/><circle cx="447.4" cy="56.9" r="1.15"/><circle cx="446.3" cy="54.6" r="1.15"/><circle cx="448.7" cy="55.0" r="1.15"/><circle cx="449.1" cy="57.0" r="1.15"/><circle cx="450.7" cy="55.3" r="1.15"/><circle cx="451.1" cy="56.8" r="1.15"/><circle cx="449.4" cy="55.7" r="1.15"/><circle cx="453.2" cy="54.6" r="1.15"/><circle cx="455.3" cy="57.5" r="1.15"/><circle cx="458.5" cy="57.2" r="1.15"/><circle cx="457.7" cy="57.0" r="1.15"/><circle cx="469.1" cy="56.8" r="1.15"/><circle cx="470.2" cy="57.3" r="1.15"/><circle cx="360.7" cy="60.9" r="1.15"/><circle cx="360.8" cy="60.1" r="1.15"/><circle cx="365.6" cy="58.6" r="1.15"/><circle cx="364.8" cy="60.9" r="1.15"/><circle cx="366.9" cy="58.7" r="1.15"/><circle cx="367.5" cy="61.4" r="1.15"/><circle cx="365.7" cy="59.5" r="1.15"/><circle cx="370.3" cy="58.5" r="1.15"/><circle cx="368.5" cy="61.3" r="1.15"/><circle cx="373.4" cy="60.0" r="1.15"/><circle cx="375.4" cy="61.5" r="1.15"/><circle cx="381.9" cy="59.1" r="1.15"/><circle cx="381.3" cy="61.4" r="1.15"/><circle cx="385.5" cy="58.8" r="1.15"/><circle cx="385.4" cy="61.0" r="1.15"/><circle cx="387.1" cy="58.8" r="1.15"/><circle cx="387.5" cy="61.6" r="1.15"/><circle cx="385.0" cy="60.4" r="1.15"/><circle cx="388.8" cy="59.5" r="1.15"/><circle cx="388.7" cy="60.7" r="1.15"/><circle cx="391.3" cy="58.9" r="1.15"/><circle cx="391.5" cy="61.5" r="1.15"/><circle cx="390.7" cy="58.8" r="1.15"/><circle cx="393.3" cy="59.5" r="1.15"/><circle cx="393.0" cy="60.7" r="1.15"/><circle cx="394.8" cy="58.9" r="1.15"/><circle cx="395.3" cy="60.8" r="1.15"/><circle cx="393.0" cy="59.2" r="1.15"/><circle cx="397.3" cy="59.4" r="1.15"/><circle cx="397.0" cy="61.3" r="1.15"/><circle cx="399.5" cy="59.2" r="1.15"/><circle cx="398.8" cy="60.9" r="1.15"/><circle cx="399.4" cy="60.5" r="1.15"/><circle cx="400.9" cy="59.2" r="1.15"/><circle cx="400.7" cy="61.6" r="1.15"/><circle cx="403.0" cy="59.1" r="1.15"/><circle cx="403.1" cy="60.6" r="1.15"/><circle cx="402.3" cy="59.3" r="1.15"/><circle cx="405.2" cy="61.0" r="1.15"/><circle cx="404.7" cy="59.3" r="1.15"/><circle cx="409.4" cy="58.8" r="1.15"/><circle cx="408.9" cy="61.1" r="1.15"/><circle cx="410.8" cy="59.5" r="1.15"/><circle cx="411.6" cy="60.6" r="1.15"/><circle cx="409.9" cy="60.8" r="1.15"/><circle cx="413.0" cy="59.5" r="1.15"/><circle cx="413.1" cy="60.8" r="1.15"/><circle cx="415.2" cy="59.2" r="1.15"/><circle cx="415.0" cy="61.3" r="1.15"/><circle cx="414.9" cy="60.1" r="1.15"/><circle cx="417.1" cy="59.4" r="1.15"/><circle cx="417.3" cy="61.1" r="1.15"/><circle cx="419.6" cy="58.8" r="1.15"/><circle cx="419.4" cy="60.8" r="1.15"/><circle cx="418.3" cy="59.2" r="1.15"/><circle cx="421.0" cy="59.4" r="1.15"/><circle cx="421.4" cy="61.4" r="1.15"/><circle cx="422.8" cy="59.1" r="1.15"/><circle cx="422.8" cy="61.2" r="1.15"/><circle cx="422.0" cy="58.5" r="1.15"/><circle cx="425.2" cy="59.3" r="1.15"/><circle cx="425.2" cy="61.5" r="1.15"/><circle cx="426.8" cy="58.8" r="1.15"/><circle cx="426.6" cy="61.1" r="1.15"/><circle cx="425.8" cy="59.8" r="1.15"/><circle cx="428.9" cy="59.4" r="1.15"/><circle cx="428.7" cy="61.5" r="1.15"/><circle cx="431.2" cy="59.1" r="1.15"/><circle cx="431.4" cy="60.8" r="1.15"/><circle cx="428.9" cy="59.4" r="1.15"/><circle cx="432.6" cy="58.9" r="1.15"/><circle cx="433.2" cy="61.1" r="1.15"/><circle cx="434.9" cy="59.2" r="1.15"/><circle cx="434.7" cy="61.4" r="1.15"/><circle cx="432.9" cy="59.2" r="1.15"/><circle cx="436.8" cy="59.3" r="1.15"/><circle cx="437.4" cy="61.4" r="1.15"/><circle cx="438.7" cy="59.0" r="1.15"/><circle cx="439.0" cy="60.8" r="1.15"/><circle cx="439.5" cy="58.5" r="1.15"/><circle cx="441.1" cy="59.4" r="1.15"/><circle cx="441.6" cy="60.7" r="1.15"/><circle cx="443.1" cy="59.3" r="1.15"/><circle cx="442.6" cy="60.8" r="1.15"/><circle cx="443.2" cy="58.9" r="1.15"/><circle cx="445.0" cy="58.9" r="1.15"/><circle cx="445.0" cy="60.7" r="1.15"/><circle cx="446.6" cy="59.6" r="1.15"/><circle cx="447.4" cy="61.3" r="1.15"/><circle cx="445.1" cy="59.2" r="1.15"/><circle cx="449.2" cy="58.8" r="1.15"/><circle cx="449.1" cy="61.5" r="1.15"/><circle cx="451.0" cy="58.9" r="1.15"/><circle cx="451.6" cy="61.2" r="1.15"/><circle cx="448.5" cy="59.7" r="1.15"/><circle cx="453.2" cy="58.7" r="1.15"/><circle cx="452.9" cy="61.3" r="1.15"/><circle cx="455.5" cy="59.2" r="1.15"/><circle cx="455.5" cy="61.1" r="1.15"/><circle cx="453.7" cy="61.1" r="1.15"/><circle cx="457.6" cy="60.9" r="1.15"/><circle cx="457.1" cy="59.5" r="1.15"/><circle cx="460.8" cy="59.1" r="1.15"/><circle cx="460.8" cy="60.8" r="1.15"/><circle cx="462.8" cy="59.1" r="1.15"/><circle cx="462.9" cy="61.0" r="1.15"/><circle cx="463.6" cy="60.6" r="1.15"/><circle cx="467.2" cy="59.1" r="1.15"/><circle cx="465.6" cy="58.6" r="1.15"/><circle cx="361.3" cy="63.0" r="1.15"/><circle cx="360.9" cy="64.6" r="1.15"/><circle cx="362.8" cy="62.9" r="1.15"/><circle cx="363.0" cy="65.5" r="1.15"/><circle cx="362.7" cy="63.3" r="1.15"/><circle cx="365.0" cy="62.8" r="1.15"/><circle cx="365.5" cy="65.0" r="1.15"/><circle cx="367.4" cy="63.3" r="1.15"/><circle cx="367.5" cy="64.6" r="1.15"/><circle cx="365.4" cy="63.6" r="1.15"/><circle cx="368.7" cy="63.5" r="1.15"/><circle cx="368.9" cy="65.4" r="1.15"/><circle cx="371.1" cy="62.7" r="1.15"/><circle cx="371.0" cy="64.8" r="1.15"/><circle cx="368.5" cy="62.9" r="1.15"/><circle cx="373.2" cy="62.6" r="1.15"/><circle cx="372.9" cy="65.0" r="1.15"/><circle cx="375.1" cy="62.7" r="1.15"/><circle cx="375.3" cy="64.9" r="1.15"/><circle cx="374.7" cy="64.5" r="1.15"/><circle cx="376.7" cy="62.8" r="1.15"/><circle cx="376.9" cy="65.3" r="1.15"/><circle cx="379.0" cy="63.0" r="1.15"/><circle cx="379.5" cy="64.8" r="1.15"/><circle cx="377.3" cy="63.5" r="1.15"/><circle cx="381.1" cy="62.5" r="1.15"/><circle cx="380.5" cy="64.4" r="1.15"/><circle cx="385.2" cy="63.4" r="1.15"/><circle cx="385.6" cy="64.9" r="1.15"/><circle cx="387.3" cy="63.5" r="1.15"/><circle cx="386.8" cy="65.3" r="1.15"/><circle cx="386.5" cy="65.5" r="1.15"/><circle cx="389.5" cy="62.8" r="1.15"/><circle cx="389.2" cy="64.7" r="1.15"/><circle cx="391.0" cy="63.0" r="1.15"/><circle cx="390.7" cy="65.0" r="1.15"/><circle cx="389.5" cy="64.0" r="1.15"/><circle cx="392.9" cy="62.8" r="1.15"/><circle cx="393.0" cy="65.1" r="1.15"/><circle cx="394.8" cy="63.3" r="1.15"/><circle cx="394.8" cy="64.7" r="1.15"/><circle cx="396.8" cy="63.2" r="1.15"/><circle cx="397.3" cy="65.2" r="1.15"/><circle cx="399.3" cy="62.6" r="1.15"/><circle cx="399.0" cy="65.0" r="1.15"/><circle cx="396.6" cy="63.7" r="1.15"/><circle cx="400.7" cy="63.1" r="1.15"/><circle cx="401.2" cy="65.1" r="1.15"/><circle cx="402.9" cy="62.9" r="1.15"/><circle cx="402.6" cy="64.9" r="1.15"/><circle cx="403.3" cy="64.2" r="1.15"/><circle cx="404.9" cy="63.3" r="1.15"/><circle cx="404.8" cy="65.1" r="1.15"/><circle cx="407.2" cy="63.6" r="1.15"/><circle cx="407.0" cy="65.2" r="1.15"/><circle cx="407.4" cy="64.9" r="1.15"/><circle cx="409.2" cy="63.2" r="1.15"/><circle cx="409.0" cy="65.0" r="1.15"/><circle cx="410.9" cy="63.4" r="1.15"/><circle cx="411.5" cy="65.0" r="1.15"/><circle cx="411.3" cy="62.5" r="1.15"/><circle cx="412.7" cy="63.1" r="1.15"/><circle cx="412.9" cy="65.0" r="1.15"/><circle cx="415.6" cy="62.7" r="1.15"/><circle cx="414.8" cy="64.8" r="1.15"/><circle cx="414.6" cy="63.2" r="1.15"/><circle cx="416.6" cy="63.1" r="1.15"/><circle cx="417.0" cy="64.8" r="1.15"/><circle cx="419.1" cy="63.3" r="1.15"/><circle cx="419.1" cy="65.2" r="1.15"/><circle cx="418.2" cy="65.1" r="1.15"/><circle cx="421.6" cy="62.9" r="1.15"/><circle cx="420.9" cy="65.5" r="1.15"/><circle cx="422.9" cy="63.3" r="1.15"/><circle cx="423.3" cy="65.3" r="1.15"/><circle cx="423.5" cy="65.0" r="1.15"/><circle cx="424.8" cy="63.2" r="1.15"/><circle cx="425.1" cy="65.2" r="1.15"/><circle cx="427.0" cy="62.9" r="1.15"/><circle cx="427.3" cy="65.1" r="1.15"/><circle cx="425.2" cy="63.2" r="1.15"/><circle cx="428.9" cy="62.8" r="1.15"/><circle cx="429.1" cy="64.7" r="1.15"/><circle cx="430.7" cy="62.7" r="1.15"/><circle cx="430.7" cy="65.3" r="1.15"/><circle cx="428.8" cy="63.8" r="1.15"/><circle cx="433.4" cy="63.1" r="1.15"/><circle cx="432.8" cy="65.5" r="1.15"/><circle cx="435.5" cy="62.7" r="1.15"/><circle cx="434.9" cy="65.1" r="1.15"/><circle cx="434.9" cy="63.7" r="1.15"/><circle cx="437.3" cy="62.9" r="1.15"/><circle cx="437.3" cy="64.9" r="1.15"/><circle cx="438.9" cy="63.4" r="1.15"/><circle cx="439.4" cy="65.4" r="1.15"/><circle cx="438.2" cy="63.7" r="1.15"/><circle cx="441.3" cy="63.2" r="1.15"/><circle cx="441.4" cy="65.4" r="1.15"/><circle cx="442.7" cy="63.0" r="1.15"/><circle cx="443.3" cy="64.8" r="1.15"/><circle cx="441.0" cy="62.4" r="1.15"/><circle cx="446.3" cy="65.4" r="1.15"/><circle cx="447.5" cy="62.8" r="1.15"/><circle cx="449.3" cy="63.0" r="1.15"/><circle cx="449.2" cy="65.0" r="1.15"/><circle cx="451.5" cy="63.6" r="1.15"/><circle cx="450.6" cy="65.3" r="1.15"/><circle cx="448.8" cy="62.5" r="1.15"/><circle cx="452.9" cy="63.3" r="1.15"/><circle cx="453.6" cy="64.7" r="1.15"/><circle cx="454.9" cy="62.6" r="1.15"/><circle cx="455.1" cy="65.1" r="1.15"/><circle cx="453.6" cy="63.4" r="1.15"/><circle cx="457.4" cy="63.4" r="1.15"/><circle cx="456.9" cy="65.0" r="1.15"/><circle cx="459.2" cy="63.4" r="1.15"/><circle cx="459.6" cy="65.0" r="1.15"/><circle cx="458.6" cy="64.1" r="1.15"/><circle cx="461.4" cy="62.7" r="1.15"/><circle cx="460.8" cy="64.7" r="1.15"/><circle cx="463.5" cy="62.9" r="1.15"/><circle cx="463.1" cy="64.7" r="1.15"/><circle cx="461.4" cy="62.5" r="1.15"/><circle cx="465.2" cy="62.7" r="1.15"/><circle cx="465.2" cy="64.9" r="1.15"/><circle cx="466.8" cy="63.1" r="1.15"/><circle cx="467.0" cy="64.9" r="1.15"/><circle cx="464.6" cy="62.6" r="1.15"/><circle cx="471.3" cy="63.4" r="1.15"/><circle cx="468.7" cy="63.0" r="1.15"/><circle cx="473.1" cy="63.6" r="1.15"/><circle cx="472.8" cy="65.5" r="1.15"/><circle cx="475.1" cy="63.0" r="1.15"/><circle cx="475.4" cy="65.0" r="1.15"/><circle cx="358.5" cy="68.4" r="1.15"/><circle cx="357.3" cy="69.4" r="1.15"/><circle cx="363.2" cy="69.6" r="1.15"/><circle cx="361.8" cy="69.1" r="1.15"/><circle cx="365.3" cy="66.8" r="1.15"/><circle cx="364.6" cy="68.8" r="1.15"/><circle cx="366.7" cy="66.7" r="1.15"/><circle cx="367.0" cy="69.4" r="1.15"/><circle cx="365.4" cy="68.0" r="1.15"/><circle cx="368.4" cy="67.1" r="1.15"/><circle cx="371.5" cy="66.4" r="1.15"/><circle cx="373.1" cy="67.4" r="1.15"/><circle cx="373.4" cy="69.3" r="1.15"/><circle cx="375.0" cy="67.4" r="1.15"/><circle cx="375.4" cy="69.4" r="1.15"/><circle cx="375.6" cy="66.7" r="1.15"/><circle cx="379.4" cy="67.7" r="1.15"/><circle cx="378.7" cy="67.2" r="1.15"/><circle cx="383.3" cy="66.5" r="1.15"/><circle cx="382.2" cy="67.1" r="1.15"/><circle cx="385.0" cy="67.0" r="1.15"/><circle cx="385.3" cy="69.4" r="1.15"/><circle cx="387.0" cy="67.2" r="1.15"/><circle cx="387.0" cy="68.9" r="1.15"/><circle cx="387.3" cy="67.4" r="1.15"/><circle cx="388.7" cy="66.9" r="1.15"/><circle cx="389.3" cy="68.8" r="1.15"/><circle cx="391.3" cy="67.1" r="1.15"/><circle cx="391.3" cy="68.8" r="1.15"/><circle cx="388.7" cy="66.9" r="1.15"/><circle cx="393.0" cy="67.0" r="1.15"/><circle cx="392.6" cy="69.1" r="1.15"/><circle cx="395.0" cy="66.9" r="1.15"/><circle cx="395.1" cy="69.6" r="1.15"/><circle cx="393.1" cy="69.2" r="1.15"/><circle cx="396.9" cy="67.4" r="1.15"/><circle cx="396.7" cy="69.6" r="1.15"/><circle cx="399.0" cy="67.6" r="1.15"/><circle cx="398.8" cy="69.0" r="1.15"/><circle cx="398.7" cy="67.0" r="1.15"/><circle cx="400.9" cy="67.3" r="1.15"/><circle cx="401.5" cy="68.9" r="1.15"/><circle cx="402.8" cy="67.0" r="1.15"/><circle cx="403.6" cy="68.7" r="1.15"/><circle cx="402.4" cy="67.6" r="1.15"/><circle cx="405.2" cy="66.8" r="1.15"/><circle cx="405.2" cy="69.5" r="1.15"/><circle cx="407.5" cy="67.2" r="1.15"/><circle cx="407.1" cy="69.2" r="1.15"/><circle cx="404.8" cy="69.1" r="1.15"/><circle cx="409.3" cy="67.1" r="1.15"/><circle cx="409.3" cy="69.0" r="1.15"/><circle cx="411.0" cy="66.8" r="1.15"/><circle cx="411.2" cy="69.2" r="1.15"/><circle cx="410.0" cy="66.5" r="1.15"/><circle cx="413.2" cy="67.0" r="1.15"/><circle cx="413.2" cy="69.2" r="1.15"/><circle cx="415.5" cy="66.8" r="1.15"/><circle cx="415.1" cy="69.6" r="1.15"/><circle cx="414.8" cy="67.4" r="1.15"/><circle cx="418.8" cy="69.6" r="1.15"/><circle cx="417.7" cy="69.2" r="1.15"/><circle cx="420.7" cy="67.6" r="1.15"/><circle cx="421.1" cy="68.8" r="1.15"/><circle cx="423.4" cy="67.2" r="1.15"/><circle cx="423.5" cy="69.4" r="1.15"/><circle cx="423.0" cy="68.0" r="1.15"/><circle cx="425.6" cy="66.7" r="1.15"/><circle cx="425.5" cy="69.3" r="1.15"/><circle cx="426.9" cy="67.4" r="1.15"/><circle cx="427.1" cy="69.1" r="1.15"/><circle cx="427.2" cy="67.0" r="1.15"/><circle cx="428.9" cy="67.2" r="1.15"/><circle cx="428.7" cy="69.2" r="1.15"/><circle cx="431.4" cy="67.1" r="1.15"/><circle cx="430.8" cy="69.4" r="1.15"/><circle cx="431.1" cy="68.9" r="1.15"/><circle cx="433.1" cy="67.5" r="1.15"/><circle cx="433.4" cy="68.8" r="1.15"/><circle cx="435.0" cy="66.7" r="1.15"/><circle cx="434.6" cy="68.9" r="1.15"/><circle cx="435.2" cy="69.1" r="1.15"/><circle cx="436.7" cy="66.8" r="1.15"/><circle cx="437.0" cy="69.4" r="1.15"/><circle cx="439.2" cy="67.5" r="1.15"/><circle cx="438.7" cy="69.6" r="1.15"/><circle cx="437.1" cy="68.4" r="1.15"/><circle cx="441.5" cy="67.3" r="1.15"/><circle cx="440.8" cy="69.3" r="1.15"/><circle cx="443.0" cy="66.6" r="1.15"/><circle cx="442.9" cy="68.9" r="1.15"/><circle cx="442.4" cy="67.3" r="1.15"/><circle cx="445.2" cy="67.3" r="1.15"/><circle cx="444.8" cy="68.7" r="1.15"/><circle cx="447.3" cy="67.1" r="1.15"/><circle cx="446.7" cy="68.7" r="1.15"/><circle cx="447.4" cy="68.4" r="1.15"/><circle cx="449.0" cy="66.8" r="1.15"/><circle cx="449.6" cy="69.3" r="1.15"/><circle cx="451.3" cy="67.0" r="1.15"/><circle cx="450.9" cy="69.0" r="1.15"/><circle cx="448.9" cy="68.4" r="1.15"/><circle cx="453.8" cy="69.0" r="1.15"/><circle cx="453.7" cy="67.9" r="1.15"/><circle cx="457.1" cy="67.5" r="1.15"/><circle cx="456.9" cy="69.3" r="1.15"/><circle cx="458.8" cy="67.2" r="1.15"/><circle cx="458.9" cy="69.5" r="1.15"/><circle cx="457.3" cy="69.1" r="1.15"/><circle cx="461.3" cy="67.1" r="1.15"/><circle cx="461.5" cy="69.0" r="1.15"/><circle cx="463.3" cy="67.2" r="1.15"/><circle cx="463.0" cy="68.7" r="1.15"/><circle cx="461.7" cy="67.3" r="1.15"/><circle cx="465.0" cy="67.6" r="1.15"/><circle cx="464.9" cy="69.3" r="1.15"/><circle cx="467.3" cy="66.8" r="1.15"/><circle cx="467.0" cy="68.7" r="1.15"/><circle cx="467.3" cy="67.2" r="1.15"/><circle cx="469.7" cy="67.5" r="1.15"/><circle cx="471.0" cy="69.1" r="1.15"/><circle cx="473.2" cy="67.1" r="1.15"/><circle cx="472.7" cy="69.5" r="1.15"/><circle cx="474.7" cy="67.0" r="1.15"/><circle cx="475.0" cy="69.3" r="1.15"/><circle cx="474.5" cy="67.5" r="1.15"/><circle cx="479.3" cy="69.4" r="1.15"/><circle cx="476.5" cy="68.4" r="1.15"/><circle cx="357.9" cy="71.6" r="1.15"/><circle cx="357.9" cy="71.4" r="1.15"/><circle cx="362.5" cy="72.3" r="1.15"/><circle cx="363.5" cy="73.5" r="1.15"/><circle cx="365.6" cy="71.0" r="1.15"/><circle cx="365.4" cy="73.2" r="1.15"/><circle cx="367.3" cy="71.6" r="1.15"/><circle cx="366.7" cy="73.1" r="1.15"/><circle cx="365.7" cy="72.5" r="1.15"/><circle cx="368.8" cy="71.6" r="1.15"/><circle cx="368.8" cy="73.0" r="1.15"/><circle cx="370.7" cy="71.0" r="1.15"/><circle cx="371.3" cy="72.7" r="1.15"/><circle cx="368.9" cy="72.5" r="1.15"/><circle cx="373.2" cy="71.3" r="1.15"/><circle cx="372.9" cy="73.4" r="1.15"/><circle cx="375.3" cy="71.4" r="1.15"/><circle cx="374.7" cy="73.1" r="1.15"/><circle cx="372.5" cy="73.2" r="1.15"/><circle cx="377.5" cy="71.5" r="1.15"/><circle cx="376.6" cy="73.0" r="1.15"/><circle cx="379.1" cy="71.1" r="1.15"/><circle cx="378.7" cy="73.4" r="1.15"/><circle cx="377.4" cy="72.0" r="1.15"/><circle cx="380.8" cy="72.2" r="1.15"/><circle cx="380.8" cy="70.7" r="1.15"/><circle cx="385.1" cy="70.9" r="1.15"/><circle cx="385.4" cy="72.8" r="1.15"/><circle cx="387.0" cy="70.7" r="1.15"/><circle cx="386.8" cy="73.1" r="1.15"/><circle cx="386.2" cy="71.9" r="1.15"/><circle cx="389.5" cy="70.7" r="1.15"/><circle cx="389.5" cy="72.8" r="1.15"/><circle cx="391.6" cy="71.1" r="1.15"/><circle cx="391.0" cy="73.2" r="1.15"/><circle cx="391.2" cy="73.5" r="1.15"/><circle cx="393.0" cy="70.6" r="1.15"/><circle cx="392.8" cy="73.4" r="1.15"/><circle cx="395.3" cy="71.3" r="1.15"/><circle cx="394.8" cy="73.1" r="1.15"/><circle cx="392.5" cy="70.8" r="1.15"/><circle cx="396.9" cy="71.6" r="1.15"/><circle cx="397.2" cy="73.4" r="1.15"/><circle cx="398.6" cy="71.0" r="1.15"/><circle cx="398.7" cy="72.9" r="1.15"/><circle cx="400.9" cy="71.1" r="1.15"/><circle cx="401.3" cy="73.5" r="1.15"/><circle cx="403.5" cy="71.2" r="1.15"/><circle cx="403.1" cy="73.5" r="1.15"/><circle cx="401.7" cy="71.4" r="1.15"/><circle cx="405.3" cy="70.9" r="1.15"/><circle cx="405.0" cy="73.0" r="1.15"/><circle cx="407.1" cy="71.0" r="1.15"/><circle cx="407.0" cy="73.1" r="1.15"/><circle cx="404.6" cy="73.1" r="1.15"/><circle cx="408.7" cy="71.1" r="1.15"/><circle cx="409.1" cy="73.0" r="1.15"/><circle cx="410.8" cy="70.7" r="1.15"/><circle cx="411.0" cy="72.9" r="1.15"/><circle cx="409.9" cy="71.1" r="1.15"/><circle cx="413.3" cy="71.1" r="1.15"/><circle cx="412.6" cy="73.0" r="1.15"/><circle cx="415.6" cy="70.6" r="1.15"/><circle cx="415.2" cy="73.6" r="1.15"/><circle cx="413.6" cy="72.3" r="1.15"/><circle cx="417.0" cy="70.9" r="1.15"/><circle cx="417.2" cy="73.2" r="1.15"/><circle cx="418.9" cy="71.1" r="1.15"/><circle cx="419.1" cy="73.4" r="1.15"/><circle cx="416.6" cy="70.7" r="1.15"/><circle cx="421.2" cy="71.3" r="1.15"/><circle cx="422.9" cy="71.8" r="1.15"/><circle cx="425.5" cy="71.0" r="1.15"/><circle cx="424.9" cy="73.3" r="1.15"/><circle cx="426.7" cy="71.6" r="1.15"/><circle cx="427.4" cy="72.9" r="1.15"/><circle cx="425.4" cy="73.0" r="1.15"/><circle cx="429.4" cy="71.2" r="1.15"/><circle cx="428.7" cy="73.4" r="1.15"/><circle cx="430.6" cy="71.2" r="1.15"/><circle cx="431.2" cy="73.5" r="1.15"/><circle cx="430.4" cy="70.5" r="1.15"/><circle cx="433.5" cy="71.4" r="1.15"/><circle cx="433.2" cy="72.6" r="1.15"/><circle cx="435.3" cy="71.0" r="1.15"/><circle cx="435.3" cy="73.6" r="1.15"/><circle cx="435.3" cy="70.6" r="1.15"/><circle cx="437.4" cy="71.0" r="1.15"/><circle cx="437.4" cy="73.0" r="1.15"/><circle cx="439.0" cy="71.0" r="1.15"/><circle cx="438.7" cy="72.9" r="1.15"/><circle cx="438.8" cy="70.6" r="1.15"/><circle cx="440.7" cy="71.4" r="1.15"/><circle cx="441.3" cy="73.1" r="1.15"/><circle cx="442.7" cy="70.7" r="1.15"/><circle cx="442.9" cy="73.6" r="1.15"/><circle cx="442.2" cy="73.4" r="1.15"/><circle cx="444.8" cy="71.0" r="1.15"/><circle cx="445.1" cy="73.4" r="1.15"/><circle cx="446.7" cy="71.5" r="1.15"/><circle cx="447.1" cy="72.6" r="1.15"/><circle cx="445.8" cy="71.6" r="1.15"/><circle cx="449.3" cy="71.5" r="1.15"/><circle cx="449.1" cy="73.3" r="1.15"/><circle cx="451.0" cy="71.4" r="1.15"/><circle cx="450.7" cy="73.3" r="1.15"/><circle cx="448.9" cy="72.3" r="1.15"/><circle cx="452.8" cy="70.9" r="1.15"/><circle cx="452.8" cy="72.9" r="1.15"/><circle cx="455.2" cy="71.1" r="1.15"/><circle cx="455.0" cy="73.2" r="1.15"/><circle cx="455.1" cy="71.5" r="1.15"/><circle cx="457.2" cy="71.1" r="1.15"/><circle cx="457.6" cy="72.9" r="1.15"/><circle cx="459.3" cy="70.8" r="1.15"/><circle cx="458.9" cy="73.3" r="1.15"/><circle cx="458.2" cy="71.2" r="1.15"/><circle cx="460.7" cy="71.4" r="1.15"/><circle cx="461.0" cy="73.3" r="1.15"/><circle cx="463.0" cy="71.2" r="1.15"/><circle cx="463.2" cy="73.6" r="1.15"/><circle cx="463.3" cy="71.9" r="1.15"/><circle cx="465.1" cy="70.8" r="1.15"/><circle cx="465.4" cy="72.7" r="1.15"/><circle cx="466.9" cy="71.4" r="1.15"/><circle cx="466.6" cy="73.3" r="1.15"/><circle cx="469.5" cy="70.9" r="1.15"/><circle cx="471.4" cy="72.8" r="1.15"/><circle cx="473.4" cy="70.7" r="1.15"/><circle cx="473.4" cy="72.8" r="1.15"/><circle cx="474.8" cy="71.1" r="1.15"/><circle cx="475.2" cy="72.7" r="1.15"/><circle cx="474.8" cy="72.3" r="1.15"/><circle cx="477.5" cy="71.5" r="1.15"/><circle cx="477.3" cy="73.0" r="1.15"/><circle cx="479.6" cy="71.3" r="1.15"/><circle cx="478.9" cy="73.5" r="1.15"/><circle cx="478.7" cy="71.2" r="1.15"/><circle cx="480.8" cy="70.6" r="1.15"/><circle cx="481.1" cy="72.9" r="1.15"/><circle cx="482.9" cy="70.9" r="1.15"/><circle cx="482.7" cy="73.1" r="1.15"/><circle cx="356.9" cy="75.1" r="1.15"/><circle cx="357.5" cy="76.8" r="1.15"/><circle cx="359.5" cy="75.5" r="1.15"/><circle cx="359.2" cy="77.1" r="1.15"/><circle cx="358.7" cy="76.1" r="1.15"/><circle cx="362.5" cy="77.3" r="1.15"/><circle cx="362.9" cy="75.2" r="1.15"/><circle cx="364.6" cy="77.4" r="1.15"/><circle cx="365.6" cy="76.9" r="1.15"/><circle cx="369.1" cy="75.8" r="1.15"/><circle cx="369.6" cy="76.7" r="1.15"/><circle cx="375.4" cy="76.0" r="1.15"/><circle cx="374.2" cy="75.5" r="1.15"/><circle cx="381.1" cy="77.4" r="1.15"/><circle cx="380.8" cy="77.4" r="1.15"/><circle cx="385.3" cy="74.7" r="1.15"/><circle cx="385.5" cy="76.7" r="1.15"/><circle cx="387.2" cy="74.7" r="1.15"/><circle cx="387.6" cy="76.9" r="1.15"/><circle cx="387.2" cy="74.6" r="1.15"/><circle cx="389.3" cy="74.7" r="1.15"/><circle cx="388.6" cy="77.2" r="1.15"/><circle cx="391.6" cy="75.3" r="1.15"/><circle cx="391.5" cy="77.4" r="1.15"/><circle cx="390.1" cy="74.6" r="1.15"/><circle cx="393.1" cy="74.8" r="1.15"/><circle cx="393.1" cy="77.0" r="1.15"/><circle cx="395.1" cy="74.8" r="1.15"/><circle cx="395.3" cy="77.0" r="1.15"/><circle cx="394.0" cy="74.7" r="1.15"/><circle cx="397.1" cy="75.2" r="1.15"/><circle cx="397.6" cy="77.2" r="1.15"/><circle cx="398.7" cy="74.9" r="1.15"/><circle cx="398.9" cy="77.3" r="1.15"/><circle cx="399.4" cy="77.5" r="1.15"/><circle cx="403.4" cy="77.4" r="1.15"/><circle cx="403.1" cy="77.4" r="1.15"/><circle cx="404.6" cy="75.1" r="1.15"/><circle cx="405.2" cy="77.3" r="1.15"/><circle cx="407.2" cy="75.2" r="1.15"/><circle cx="407.5" cy="76.7" r="1.15"/><circle cx="406.1" cy="77.5" r="1.15"/><circle cx="408.6" cy="74.7" r="1.15"/><circle cx="409.5" cy="77.6" r="1.15"/><circle cx="410.6" cy="74.6" r="1.15"/><circle cx="411.4" cy="77.3" r="1.15"/><circle cx="410.1" cy="76.3" r="1.15"/><circle cx="413.4" cy="75.4" r="1.15"/><circle cx="412.6" cy="76.7" r="1.15"/><circle cx="415.4" cy="75.6" r="1.15"/><circle cx="415.4" cy="77.0" r="1.15"/><circle cx="413.5" cy="75.5" r="1.15"/><circle cx="416.6" cy="75.4" r="1.15"/><circle cx="416.9" cy="77.2" r="1.15"/><circle cx="419.1" cy="74.9" r="1.15"/><circle cx="419.3" cy="77.1" r="1.15"/><circle cx="417.2" cy="77.2" r="1.15"/><circle cx="420.8" cy="74.7" r="1.15"/><circle cx="420.9" cy="77.1" r="1.15"/><circle cx="423.4" cy="74.9" r="1.15"/><circle cx="422.8" cy="77.3" r="1.15"/><circle cx="421.2" cy="76.1" r="1.15"/><circle cx="425.2" cy="77.2" r="1.15"/><circle cx="425.0" cy="75.1" r="1.15"/><circle cx="428.9" cy="74.9" r="1.15"/><circle cx="429.3" cy="77.3" r="1.15"/><circle cx="431.4" cy="75.1" r="1.15"/><circle cx="430.7" cy="77.4" r="1.15"/><circle cx="429.2" cy="75.1" r="1.15"/><circle cx="433.0" cy="75.6" r="1.15"/><circle cx="433.0" cy="77.0" r="1.15"/><circle cx="435.5" cy="75.6" r="1.15"/><circle cx="435.0" cy="76.7" r="1.15"/><circle cx="434.9" cy="76.9" r="1.15"/><circle cx="436.9" cy="75.4" r="1.15"/><circle cx="437.0" cy="76.9" r="1.15"/><circle cx="439.2" cy="75.3" r="1.15"/><circle cx="439.1" cy="77.4" r="1.15"/><circle cx="441.0" cy="74.7" r="1.15"/><circle cx="441.5" cy="76.7" r="1.15"/><circle cx="442.8" cy="75.5" r="1.15"/><circle cx="443.6" cy="77.5" r="1.15"/><circle cx="441.5" cy="77.4" r="1.15"/><circle cx="444.7" cy="75.3" r="1.15"/><circle cx="445.5" cy="76.8" r="1.15"/><circle cx="446.7" cy="75.3" r="1.15"/><circle cx="447.5" cy="77.3" r="1.15"/><circle cx="447.4" cy="75.9" r="1.15"/><circle cx="449.0" cy="74.7" r="1.15"/><circle cx="448.9" cy="77.5" r="1.15"/><circle cx="450.7" cy="74.8" r="1.15"/><circle cx="450.9" cy="76.6" r="1.15"/><circle cx="449.4" cy="75.0" r="1.15"/><circle cx="452.8" cy="76.1" r="1.15"/><circle cx="454.1" cy="76.2" r="1.15"/><circle cx="458.8" cy="76.1" r="1.15"/><circle cx="459.4" cy="74.7" r="1.15"/><circle cx="460.8" cy="74.7" r="1.15"/><circle cx="460.9" cy="77.4" r="1.15"/><circle cx="463.5" cy="75.1" r="1.15"/><circle cx="462.8" cy="76.9" r="1.15"/><circle cx="462.2" cy="75.3" r="1.15"/><circle cx="465.4" cy="75.6" r="1.15"/><circle cx="465.1" cy="77.2" r="1.15"/><circle cx="467.4" cy="75.1" r="1.15"/><circle cx="466.8" cy="77.5" r="1.15"/><circle cx="467.5" cy="74.5" r="1.15"/><circle cx="469.4" cy="75.0" r="1.15"/><circle cx="468.7" cy="76.8" r="1.15"/><circle cx="470.8" cy="75.3" r="1.15"/><circle cx="470.8" cy="76.6" r="1.15"/><circle cx="473.1" cy="75.3" r="1.15"/><circle cx="473.1" cy="76.8" r="1.15"/><circle cx="474.6" cy="74.9" r="1.15"/><circle cx="474.6" cy="76.9" r="1.15"/><circle cx="474.4" cy="75.6" r="1.15"/><circle cx="477.9" cy="76.4" r="1.15"/><circle cx="477.4" cy="75.5" r="1.15"/><circle cx="359.2" cy="80.3" r="1.15"/><circle cx="357.7" cy="80.1" r="1.15"/><circle cx="373.9" cy="79.5" r="1.15"/><circle cx="375.3" cy="79.1" r="1.15"/><circle cx="377.5" cy="79.5" r="1.15"/><circle cx="377.5" cy="80.8" r="1.15"/><circle cx="379.1" cy="79.6" r="1.15"/><circle cx="378.9" cy="80.8" r="1.15"/><circle cx="378.7" cy="79.2" r="1.15"/><circle cx="381.2" cy="78.8" r="1.15"/><circle cx="381.5" cy="80.9" r="1.15"/><circle cx="382.7" cy="79.3" r="1.15"/><circle cx="382.9" cy="81.2" r="1.15"/><circle cx="382.0" cy="81.4" r="1.15"/><circle cx="385.1" cy="79.0" r="1.15"/><circle cx="384.6" cy="81.1" r="1.15"/><circle cx="386.9" cy="79.2" r="1.15"/><circle cx="387.2" cy="81.1" r="1.15"/><circle cx="384.7" cy="80.0" r="1.15"/><circle cx="389.1" cy="79.2" r="1.15"/><circle cx="389.6" cy="80.9" r="1.15"/><circle cx="391.0" cy="78.7" r="1.15"/><circle cx="391.4" cy="80.8" r="1.15"/><circle cx="391.1" cy="81.0" r="1.15"/><circle cx="392.9" cy="79.5" r="1.15"/><circle cx="393.1" cy="81.0" r="1.15"/><circle cx="395.2" cy="79.5" r="1.15"/><circle cx="395.1" cy="81.1" r="1.15"/><circle cx="393.3" cy="81.1" r="1.15"/><circle cx="397.1" cy="78.9" r="1.15"/><circle cx="396.8" cy="80.8" r="1.15"/><circle cx="399.4" cy="79.4" r="1.15"/><circle cx="399.6" cy="81.5" r="1.15"/><circle cx="398.6" cy="81.0" r="1.15"/><circle cx="401.3" cy="79.4" r="1.15"/><circle cx="401.4" cy="80.8" r="1.15"/><circle cx="403.4" cy="78.9" r="1.15"/><circle cx="402.8" cy="81.5" r="1.15"/><circle cx="400.5" cy="80.0" r="1.15"/><circle cx="404.9" cy="79.4" r="1.15"/><circle cx="405.2" cy="81.5" r="1.15"/><circle cx="407.5" cy="79.2" r="1.15"/><circle cx="406.7" cy="81.3" r="1.15"/><circle cx="404.8" cy="81.5" r="1.15"/><circle cx="409.5" cy="78.9" r="1.15"/><circle cx="408.8" cy="81.3" r="1.15"/><circle cx="411.4" cy="79.6" r="1.15"/><circle cx="411.2" cy="80.7" r="1.15"/><circle cx="410.7" cy="78.6" r="1.15"/><circle cx="413.5" cy="79.4" r="1.15"/><circle cx="413.4" cy="81.5" r="1.15"/><circle cx="415.2" cy="79.5" r="1.15"/><circle cx="415.2" cy="81.1" r="1.15"/><circle cx="413.6" cy="79.5" r="1.15"/><circle cx="416.6" cy="78.8" r="1.15"/><circle cx="417.4" cy="80.8" r="1.15"/><circle cx="419.3" cy="79.4" r="1.15"/><circle cx="419.3" cy="81.1" r="1.15"/><circle cx="417.4" cy="79.3" r="1.15"/><circle cx="420.8" cy="79.2" r="1.15"/><circle cx="421.3" cy="81.5" r="1.15"/><circle cx="422.9" cy="79.5" r="1.15"/><circle cx="423.5" cy="80.9" r="1.15"/><circle cx="423.4" cy="80.4" r="1.15"/><circle cx="425.6" cy="79.4" r="1.15"/><circle cx="424.9" cy="80.9" r="1.15"/><circle cx="427.1" cy="79.1" r="1.15"/><circle cx="426.6" cy="81.5" r="1.15"/><circle cx="426.1" cy="79.9" r="1.15"/><circle cx="429.3" cy="78.8" r="1.15"/><circle cx="428.8" cy="81.2" r="1.15"/><circle cx="430.8" cy="78.9" r="1.15"/><circle cx="430.7" cy="80.7" r="1.15"/><circle cx="429.5" cy="80.1" r="1.15"/><circle cx="433.5" cy="79.2" r="1.15"/><circle cx="433.0" cy="81.0" r="1.15"/><circle cx="434.8" cy="79.1" r="1.15"/><circle cx="435.6" cy="80.7" r="1.15"/><circle cx="433.8" cy="80.6" r="1.15"/><circle cx="437.4" cy="79.2" r="1.15"/><circle cx="437.2" cy="81.5" r="1.15"/><circle cx="439.5" cy="78.9" r="1.15"/><circle cx="439.1" cy="81.6" r="1.15"/><circle cx="438.1" cy="79.0" r="1.15"/><circle cx="441.4" cy="78.7" r="1.15"/><circle cx="440.8" cy="81.2" r="1.15"/><circle cx="442.9" cy="79.3" r="1.15"/><circle cx="443.3" cy="80.9" r="1.15"/><circle cx="442.9" cy="80.5" r="1.15"/><circle cx="446.7" cy="79.9" r="1.15"/><circle cx="445.8" cy="78.7" r="1.15"/><circle cx="449.1" cy="79.6" r="1.15"/><circle cx="449.5" cy="80.7" r="1.15"/><circle cx="450.7" cy="78.9" r="1.15"/><circle cx="451.3" cy="81.0" r="1.15"/><circle cx="448.8" cy="79.8" r="1.15"/><circle cx="453.2" cy="79.3" r="1.15"/><circle cx="453.0" cy="81.2" r="1.15"/><circle cx="455.3" cy="79.2" r="1.15"/><circle cx="454.6" cy="81.3" r="1.15"/><circle cx="452.8" cy="78.6" r="1.15"/><circle cx="457.1" cy="78.6" r="1.15"/><circle cx="456.7" cy="81.0" r="1.15"/><circle cx="459.1" cy="78.7" r="1.15"/><circle cx="459.6" cy="81.5" r="1.15"/><circle cx="458.0" cy="80.3" r="1.15"/><circle cx="460.9" cy="79.6" r="1.15"/><circle cx="460.7" cy="80.9" r="1.15"/><circle cx="462.8" cy="79.5" r="1.15"/><circle cx="463.1" cy="81.0" r="1.15"/><circle cx="461.7" cy="81.2" r="1.15"/><circle cx="465.2" cy="80.9" r="1.15"/><circle cx="466.7" cy="79.8" r="1.15"/><circle cx="469.0" cy="79.0" r="1.15"/><circle cx="469.1" cy="80.9" r="1.15"/><circle cx="471.2" cy="79.0" r="1.15"/><circle cx="470.9" cy="81.4" r="1.15"/><circle cx="469.9" cy="79.9" r="1.15"/><circle cx="473.5" cy="79.1" r="1.15"/><circle cx="473.0" cy="81.5" r="1.15"/><circle cx="475.6" cy="79.4" r="1.15"/><circle cx="475.0" cy="81.3" r="1.15"/><circle cx="474.8" cy="79.3" r="1.15"/><circle cx="477.3" cy="79.5" r="1.15"/><circle cx="477.3" cy="81.3" r="1.15"/><circle cx="479.0" cy="79.3" r="1.15"/><circle cx="478.8" cy="81.4" r="1.15"/><circle cx="381.5" cy="84.7" r="1.15"/><circle cx="380.5" cy="83.7" r="1.15"/><circle cx="385.4" cy="82.9" r="1.15"/><circle cx="385.2" cy="84.8" r="1.15"/><circle cx="387.0" cy="83.6" r="1.15"/><circle cx="386.8" cy="85.5" r="1.15"/><circle cx="384.6" cy="84.3" r="1.15"/><circle cx="389.4" cy="83.4" r="1.15"/><circle cx="389.0" cy="85.2" r="1.15"/><circle cx="391.3" cy="83.4" r="1.15"/><circle cx="391.3" cy="85.2" r="1.15"/><circle cx="389.2" cy="84.7" r="1.15"/><circle cx="393.2" cy="83.1" r="1.15"/><circle cx="393.6" cy="84.7" r="1.15"/><circle cx="395.4" cy="82.9" r="1.15"/><circle cx="395.3" cy="85.6" r="1.15"/><circle cx="393.3" cy="84.2" r="1.15"/><circle cx="397.1" cy="83.1" r="1.15"/><circle cx="396.8" cy="85.2" r="1.15"/><circle cx="399.5" cy="83.3" r="1.15"/><circle cx="398.9" cy="85.4" r="1.15"/><circle cx="397.7" cy="82.9" r="1.15"/><circle cx="401.2" cy="83.1" r="1.15"/><circle cx="401.1" cy="85.6" r="1.15"/><circle cx="403.2" cy="83.6" r="1.15"/><circle cx="403.0" cy="85.4" r="1.15"/><circle cx="400.6" cy="83.4" r="1.15"/><circle cx="405.3" cy="83.3" r="1.15"/><circle cx="405.4" cy="85.0" r="1.15"/><circle cx="406.9" cy="83.0" r="1.15"/><circle cx="407.1" cy="84.6" r="1.15"/><circle cx="405.6" cy="84.5" r="1.15"/><circle cx="408.7" cy="82.9" r="1.15"/><circle cx="409.5" cy="85.5" r="1.15"/><circle cx="410.8" cy="82.8" r="1.15"/><circle cx="410.7" cy="84.7" r="1.15"/><circle cx="410.9" cy="84.8" r="1.15"/><circle cx="412.9" cy="83.1" r="1.15"/><circle cx="413.3" cy="84.6" r="1.15"/><circle cx="415.4" cy="83.5" r="1.15"/><circle cx="414.8" cy="85.3" r="1.15"/><circle cx="414.6" cy="83.5" r="1.15"/><circle cx="417.5" cy="82.8" r="1.15"/><circle cx="417.1" cy="84.9" r="1.15"/><circle cx="419.0" cy="83.4" r="1.15"/><circle cx="419.2" cy="85.2" r="1.15"/><circle cx="419.6" cy="83.1" r="1.15"/><circle cx="420.8" cy="83.2" r="1.15"/><circle cx="420.8" cy="85.6" r="1.15"/><circle cx="422.9" cy="83.0" r="1.15"/><circle cx="423.0" cy="85.4" r="1.15"/><circle cx="423.3" cy="84.6" r="1.15"/><circle cx="424.8" cy="83.0" r="1.15"/><circle cx="425.3" cy="84.8" r="1.15"/><circle cx="427.5" cy="83.5" r="1.15"/><circle cx="426.8" cy="85.0" r="1.15"/><circle cx="425.1" cy="84.7" r="1.15"/><circle cx="428.6" cy="83.3" r="1.15"/><circle cx="428.7" cy="85.4" r="1.15"/><circle cx="431.1" cy="83.2" r="1.15"/><circle cx="430.7" cy="84.6" r="1.15"/><circle cx="429.5" cy="85.6" r="1.15"/><circle cx="433.2" cy="83.5" r="1.15"/><circle cx="432.7" cy="84.7" r="1.15"/><circle cx="434.6" cy="83.3" r="1.15"/><circle cx="434.8" cy="84.9" r="1.15"/><circle cx="434.5" cy="84.6" r="1.15"/><circle cx="436.9" cy="83.1" r="1.15"/><circle cx="436.9" cy="85.2" r="1.15"/><circle cx="439.0" cy="83.0" r="1.15"/><circle cx="438.8" cy="84.9" r="1.15"/><circle cx="437.2" cy="82.5" r="1.15"/><circle cx="441.4" cy="84.3" r="1.15"/><circle cx="441.3" cy="82.8" r="1.15"/><circle cx="445.4" cy="83.1" r="1.15"/><circle cx="445.1" cy="84.9" r="1.15"/><circle cx="447.5" cy="83.4" r="1.15"/><circle cx="447.2" cy="85.3" r="1.15"/><circle cx="446.6" cy="84.0" r="1.15"/><circle cx="449.0" cy="83.0" r="1.15"/><circle cx="449.1" cy="85.1" r="1.15"/><circle cx="451.1" cy="83.1" r="1.15"/><circle cx="451.4" cy="85.5" r="1.15"/><circle cx="453.4" cy="82.5" r="1.15"/><circle cx="454.9" cy="84.4" r="1.15"/><circle cx="456.9" cy="82.8" r="1.15"/><circle cx="457.5" cy="85.4" r="1.15"/><circle cx="459.3" cy="83.3" r="1.15"/><circle cx="459.3" cy="85.1" r="1.15"/><circle cx="457.7" cy="84.2" r="1.15"/><circle cx="461.5" cy="83.6" r="1.15"/><circle cx="461.5" cy="85.4" r="1.15"/><circle cx="462.7" cy="82.8" r="1.15"/><circle cx="463.6" cy="85.1" r="1.15"/><circle cx="462.0" cy="83.4" r="1.15"/><circle cx="465.5" cy="83.1" r="1.15"/><circle cx="465.6" cy="84.7" r="1.15"/><circle cx="467.6" cy="82.6" r="1.15"/><circle cx="466.7" cy="85.0" r="1.15"/><circle cx="466.4" cy="82.8" r="1.15"/><circle cx="469.2" cy="83.5" r="1.15"/><circle cx="469.0" cy="85.4" r="1.15"/><circle cx="471.2" cy="83.2" r="1.15"/><circle cx="470.8" cy="85.1" r="1.15"/><circle cx="471.3" cy="84.6" r="1.15"/><circle cx="473.1" cy="83.8" r="1.15"/><circle cx="474.1" cy="83.5" r="1.15"/><circle cx="366.2" cy="88.4" r="1.15"/><circle cx="364.5" cy="87.1" r="1.15"/><circle cx="369.3" cy="86.8" r="1.15"/><circle cx="368.7" cy="89.4" r="1.15"/><circle cx="370.9" cy="87.6" r="1.15"/><circle cx="371.2" cy="88.7" r="1.15"/><circle cx="370.4" cy="87.2" r="1.15"/><circle cx="373.4" cy="87.3" r="1.15"/><circle cx="373.4" cy="88.7" r="1.15"/><circle cx="374.6" cy="87.4" r="1.15"/><circle cx="374.7" cy="88.8" r="1.15"/><circle cx="372.5" cy="86.9" r="1.15"/><circle cx="377.1" cy="87.6" r="1.15"/><circle cx="376.9" cy="88.9" r="1.15"/><circle cx="379.4" cy="86.8" r="1.15"/><circle cx="379.2" cy="89.2" r="1.15"/><circle cx="379.4" cy="86.5" r="1.15"/><circle cx="382.2" cy="87.6" r="1.15"/><circle cx="383.0" cy="87.2" r="1.15"/><circle cx="385.3" cy="86.8" r="1.15"/><circle cx="385.1" cy="89.6" r="1.15"/><circle cx="386.8" cy="86.9" r="1.15"/><circle cx="387.5" cy="89.3" r="1.15"/><circle cx="384.6" cy="87.0" r="1.15"/><circle cx="388.8" cy="86.9" r="1.15"/><circle cx="389.4" cy="89.3" r="1.15"/><circle cx="391.6" cy="87.3" r="1.15"/><circle cx="391.2" cy="89.0" r="1.15"/><circle cx="390.7" cy="88.0" r="1.15"/><circle cx="392.7" cy="87.1" r="1.15"/><circle cx="393.0" cy="89.1" r="1.15"/><circle cx="394.6" cy="86.6" r="1.15"/><circle cx="395.6" cy="89.0" r="1.15"/><circle cx="393.5" cy="86.9" r="1.15"/><circle cx="397.2" cy="87.5" r="1.15"/><circle cx="396.8" cy="89.1" r="1.15"/><circle cx="399.1" cy="87.4" r="1.15"/><circle cx="399.2" cy="88.8" r="1.15"/><circle cx="397.0" cy="88.7" r="1.15"/><circle cx="400.7" cy="87.5" r="1.15"/><circle cx="400.6" cy="88.8" r="1.15"/><circle cx="403.1" cy="87.4" r="1.15"/><circle cx="403.2" cy="89.3" r="1.15"/><circle cx="402.8" cy="88.7" r="1.15"/><circle cx="404.7" cy="87.4" r="1.15"/><circle cx="404.7" cy="88.8" r="1.15"/><circle cx="406.6" cy="86.6" r="1.15"/><circle cx="407.5" cy="89.0" r="1.15"/><circle cx="404.7" cy="86.5" r="1.15"/><circle cx="409.4" cy="87.2" r="1.15"/><circle cx="409.5" cy="88.6" r="1.15"/><circle cx="410.7" cy="86.9" r="1.15"/><circle cx="410.8" cy="88.7" r="1.15"/><circle cx="409.0" cy="88.4" r="1.15"/><circle cx="412.8" cy="86.8" r="1.15"/><circle cx="413.1" cy="89.0" r="1.15"/><circle cx="414.7" cy="87.2" r="1.15"/><circle cx="415.1" cy="89.0" r="1.15"/><circle cx="413.9" cy="86.5" r="1.15"/><circle cx="417.2" cy="86.8" r="1.15"/><circle cx="416.9" cy="88.6" r="1.15"/><circle cx="419.5" cy="87.2" r="1.15"/><circle cx="419.0" cy="89.1" r="1.15"/><circle cx="419.4" cy="86.8" r="1.15"/><circle cx="421.0" cy="87.3" r="1.15"/><circle cx="421.0" cy="89.3" r="1.15"/><circle cx="423.5" cy="86.6" r="1.15"/><circle cx="422.9" cy="88.9" r="1.15"/><circle cx="422.8" cy="88.9" r="1.15"/><circle cx="425.3" cy="87.5" r="1.15"/><circle cx="424.8" cy="89.0" r="1.15"/><circle cx="427.5" cy="87.4" r="1.15"/><circle cx="426.7" cy="89.6" r="1.15"/><circle cx="426.8" cy="89.2" r="1.15"/><circle cx="429.0" cy="87.2" r="1.15"/><circle cx="429.6" cy="89.5" r="1.15"/><circle cx="431.2" cy="87.5" r="1.15"/><circle cx="431.6" cy="89.4" r="1.15"/><circle cx="430.5" cy="89.5" r="1.15"/><circle cx="432.7" cy="87.0" r="1.15"/><circle cx="433.2" cy="88.7" r="1.15"/><circle cx="435.4" cy="86.7" r="1.15"/><circle cx="435.2" cy="88.9" r="1.15"/><circle cx="433.4" cy="88.3" r="1.15"/><circle cx="437.0" cy="87.8" r="1.15"/><circle cx="439.1" cy="89.6" r="1.15"/><circle cx="440.9" cy="87.0" r="1.15"/><circle cx="441.3" cy="88.8" r="1.15"/><circle cx="443.4" cy="86.8" r="1.15"/><circle cx="443.2" cy="88.9" r="1.15"/><circle cx="444.6" cy="86.9" r="1.15"/><circle cx="444.9" cy="89.6" r="1.15"/><circle cx="447.2" cy="86.7" r="1.15"/><circle cx="447.3" cy="88.8" r="1.15"/><circle cx="445.9" cy="88.7" r="1.15"/><circle cx="449.5" cy="87.5" r="1.15"/><circle cx="449.0" cy="88.9" r="1.15"/><circle cx="451.0" cy="86.9" r="1.15"/><circle cx="451.3" cy="89.1" r="1.15"/><circle cx="450.6" cy="86.9" r="1.15"/><circle cx="453.4" cy="87.6" r="1.15"/><circle cx="452.8" cy="89.2" r="1.15"/><circle cx="454.8" cy="86.6" r="1.15"/><circle cx="455.0" cy="88.8" r="1.15"/><circle cx="454.7" cy="88.2" r="1.15"/><circle cx="457.3" cy="87.6" r="1.15"/><circle cx="456.7" cy="88.7" r="1.15"/><circle cx="458.6" cy="87.1" r="1.15"/><circle cx="459.4" cy="89.3" r="1.15"/><circle cx="458.2" cy="89.1" r="1.15"/><circle cx="461.6" cy="86.8" r="1.15"/><circle cx="462.5" cy="86.5" r="1.15"/><circle cx="465.1" cy="86.5" r="1.15"/><circle cx="464.9" cy="86.6" r="1.15"/><circle cx="469.1" cy="86.7" r="1.15"/><circle cx="469.2" cy="89.4" r="1.15"/><circle cx="470.9" cy="86.7" r="1.15"/><circle cx="471.3" cy="89.3" r="1.15"/><circle cx="471.2" cy="88.2" r="1.15"/><circle cx="473.2" cy="87.5" r="1.15"/><circle cx="473.3" cy="89.6" r="1.15"/><circle cx="474.9" cy="87.4" r="1.15"/><circle cx="475.2" cy="89.1" r="1.15"/><circle cx="472.4" cy="87.9" r="1.15"/><circle cx="477.2" cy="88.3" r="1.15"/><circle cx="478.0" cy="88.0" r="1.15"/><circle cx="364.6" cy="90.8" r="1.15"/><circle cx="366.3" cy="92.6" r="1.15"/><circle cx="369.6" cy="91.4" r="1.15"/><circle cx="368.9" cy="93.1" r="1.15"/><circle cx="371.1" cy="91.4" r="1.15"/><circle cx="371.0" cy="93.5" r="1.15"/><circle cx="369.9" cy="91.7" r="1.15"/><circle cx="373.1" cy="91.0" r="1.15"/><circle cx="373.6" cy="92.6" r="1.15"/><circle cx="375.0" cy="90.7" r="1.15"/><circle cx="375.3" cy="92.8" r="1.15"/><circle cx="377.2" cy="91.4" r="1.15"/><circle cx="377.0" cy="92.9" r="1.15"/><circle cx="379.0" cy="91.5" r="1.15"/><circle cx="378.8" cy="92.6" r="1.15"/><circle cx="379.2" cy="91.9" r="1.15"/><circle cx="380.7" cy="90.7" r="1.15"/><circle cx="381.5" cy="93.3" r="1.15"/><circle cx="382.7" cy="91.3" r="1.15"/><circle cx="382.8" cy="93.0" r="1.15"/><circle cx="385.5" cy="90.9" r="1.15"/><circle cx="384.7" cy="93.4" r="1.15"/><circle cx="386.7" cy="90.6" r="1.15"/><circle cx="387.3" cy="93.1" r="1.15"/><circle cx="387.3" cy="92.9" r="1.15"/><circle cx="388.8" cy="90.6" r="1.15"/><circle cx="389.2" cy="93.1" r="1.15"/><circle cx="390.9" cy="91.5" r="1.15"/><circle cx="390.8" cy="93.2" r="1.15"/><circle cx="393.5" cy="91.2" r="1.15"/><circle cx="392.9" cy="93.3" r="1.15"/><circle cx="395.5" cy="91.4" r="1.15"/><circle cx="394.6" cy="93.1" r="1.15"/><circle cx="392.8" cy="92.1" r="1.15"/><circle cx="397.6" cy="91.5" r="1.15"/><circle cx="396.8" cy="93.2" r="1.15"/><circle cx="398.9" cy="90.8" r="1.15"/><circle cx="399.3" cy="93.4" r="1.15"/><circle cx="397.5" cy="91.7" r="1.15"/><circle cx="401.3" cy="91.3" r="1.15"/><circle cx="401.1" cy="92.7" r="1.15"/><circle cx="402.7" cy="90.8" r="1.15"/><circle cx="403.4" cy="93.1" r="1.15"/><circle cx="402.5" cy="91.6" r="1.15"/><circle cx="405.0" cy="90.8" r="1.15"/><circle cx="405.6" cy="93.2" r="1.15"/><circle cx="406.7" cy="91.3" r="1.15"/><circle cx="407.2" cy="93.2" r="1.15"/><circle cx="406.9" cy="92.3" r="1.15"/><circle cx="409.5" cy="91.6" r="1.15"/><circle cx="409.0" cy="93.2" r="1.15"/><circle cx="411.0" cy="91.0" r="1.15"/><circle cx="411.0" cy="93.2" r="1.15"/><circle cx="409.5" cy="91.5" r="1.15"/><circle cx="413.4" cy="91.4" r="1.15"/><circle cx="413.3" cy="93.4" r="1.15"/><circle cx="415.0" cy="91.2" r="1.15"/><circle cx="414.9" cy="92.9" r="1.15"/><circle cx="412.7" cy="93.0" r="1.15"/><circle cx="417.5" cy="90.9" r="1.15"/><circle cx="417.0" cy="92.7" r="1.15"/><circle cx="418.7" cy="91.2" r="1.15"/><circle cx="419.5" cy="92.7" r="1.15"/><circle cx="417.2" cy="92.8" r="1.15"/><circle cx="420.8" cy="91.5" r="1.15"/><circle cx="421.0" cy="93.1" r="1.15"/><circle cx="422.8" cy="90.9" r="1.15"/><circle cx="423.0" cy="92.9" r="1.15"/><circle cx="422.7" cy="90.5" r="1.15"/><circle cx="425.2" cy="91.4" r="1.15"/><circle cx="424.9" cy="92.8" r="1.15"/><circle cx="426.7" cy="90.7" r="1.15"/><circle cx="427.4" cy="93.2" r="1.15"/><circle cx="424.4" cy="91.9" r="1.15"/><circle cx="429.2" cy="90.9" r="1.15"/><circle cx="428.6" cy="93.0" r="1.15"/><circle cx="431.0" cy="91.6" r="1.15"/><circle cx="431.0" cy="93.5" r="1.15"/><circle cx="431.2" cy="92.2" r="1.15"/><circle cx="432.7" cy="91.4" r="1.15"/><circle cx="432.7" cy="93.2" r="1.15"/><circle cx="434.7" cy="90.7" r="1.15"/><circle cx="435.0" cy="92.8" r="1.15"/><circle cx="435.6" cy="92.2" r="1.15"/><circle cx="437.5" cy="91.6" r="1.15"/><circle cx="437.4" cy="93.2" r="1.15"/><circle cx="439.1" cy="91.4" r="1.15"/><circle cx="439.3" cy="92.8" r="1.15"/><circle cx="438.1" cy="91.7" r="1.15"/><circle cx="441.1" cy="91.3" r="1.15"/><circle cx="441.3" cy="93.2" r="1.15"/><circle cx="443.4" cy="91.4" r="1.15"/><circle cx="442.7" cy="92.7" r="1.15"/><circle cx="440.6" cy="90.9" r="1.15"/><circle cx="445.6" cy="90.9" r="1.15"/><circle cx="445.0" cy="93.1" r="1.15"/><circle cx="447.2" cy="90.9" r="1.15"/><circle cx="447.4" cy="92.9" r="1.15"/><circle cx="447.1" cy="93.0" r="1.15"/><circle cx="448.6" cy="91.1" r="1.15"/><circle cx="448.7" cy="93.5" r="1.15"/><circle cx="450.7" cy="90.9" r="1.15"/><circle cx="451.4" cy="93.2" r="1.15"/><circle cx="450.5" cy="91.7" r="1.15"/><circle cx="453.1" cy="90.8" r="1.15"/><circle cx="453.1" cy="92.9" r="1.15"/><circle cx="455.3" cy="90.7" r="1.15"/><circle cx="454.7" cy="92.8" r="1.15"/><circle cx="454.1" cy="92.3" r="1.15"/><circle cx="456.6" cy="91.6" r="1.15"/><circle cx="457.4" cy="93.0" r="1.15"/><circle cx="458.8" cy="91.4" r="1.15"/><circle cx="459.6" cy="92.8" r="1.15"/><circle cx="461.5" cy="90.8" r="1.15"/><circle cx="460.7" cy="92.8" r="1.15"/><circle cx="462.8" cy="91.5" r="1.15"/><circle cx="463.5" cy="93.1" r="1.15"/><circle cx="460.8" cy="91.5" r="1.15"/><circle cx="465.2" cy="92.5" r="1.15"/><circle cx="466.7" cy="92.9" r="1.15"/><circle cx="469.8" cy="91.9" r="1.15"/><circle cx="469.9" cy="91.6" r="1.15"/><circle cx="365.9" cy="96.6" r="1.15"/><circle cx="366.7" cy="95.4" r="1.15"/><circle cx="369.2" cy="94.7" r="1.15"/><circle cx="368.6" cy="97.0" r="1.15"/><circle cx="371.0" cy="94.6" r="1.15"/><circle cx="370.7" cy="97.0" r="1.15"/><circle cx="371.4" cy="97.1" r="1.15"/><circle cx="372.6" cy="94.9" r="1.15"/><circle cx="373.0" cy="96.9" r="1.15"/><circle cx="374.7" cy="95.2" r="1.15"/><circle cx="375.4" cy="97.0" r="1.15"/><circle cx="373.0" cy="94.7" r="1.15"/><circle cx="376.6" cy="95.4" r="1.15"/><circle cx="376.8" cy="97.3" r="1.15"/><circle cx="379.4" cy="94.7" r="1.15"/><circle cx="378.8" cy="96.9" r="1.15"/><circle cx="378.9" cy="96.8" r="1.15"/><circle cx="380.9" cy="95.1" r="1.15"/><circle cx="381.0" cy="97.1" r="1.15"/><circle cx="383.4" cy="94.9" r="1.15"/><circle cx="383.4" cy="97.5" r="1.15"/><circle cx="382.3" cy="97.5" r="1.15"/><circle cx="385.5" cy="94.8" r="1.15"/><circle cx="385.6" cy="96.8" r="1.15"/><circle cx="387.4" cy="94.7" r="1.15"/><circle cx="386.9" cy="97.0" r="1.15"/><circle cx="387.1" cy="96.6" r="1.15"/><circle cx="388.8" cy="95.5" r="1.15"/><circle cx="389.5" cy="97.1" r="1.15"/><circle cx="390.7" cy="94.9" r="1.15"/><circle cx="390.9" cy="97.0" r="1.15"/><circle cx="391.4" cy="96.3" r="1.15"/><circle cx="393.4" cy="94.7" r="1.15"/><circle cx="392.8" cy="97.3" r="1.15"/><circle cx="394.9" cy="94.8" r="1.15"/><circle cx="394.7" cy="96.7" r="1.15"/><circle cx="393.7" cy="96.1" r="1.15"/><circle cx="397.0" cy="95.2" r="1.15"/><circle cx="396.9" cy="96.6" r="1.15"/><circle cx="399.3" cy="94.9" r="1.15"/><circle cx="399.1" cy="97.0" r="1.15"/><circle cx="397.3" cy="94.6" r="1.15"/><circle cx="401.3" cy="95.4" r="1.15"/><circle cx="400.8" cy="94.5" r="1.15"/><circle cx="405.1" cy="94.6" r="1.15"/><circle cx="405.5" cy="97.0" r="1.15"/><circle cx="407.0" cy="95.1" r="1.15"/><circle cx="406.6" cy="96.7" r="1.15"/><circle cx="406.9" cy="96.2" r="1.15"/><circle cx="409.1" cy="94.9" r="1.15"/><circle cx="409.4" cy="97.1" r="1.15"/><circle cx="411.4" cy="95.4" r="1.15"/><circle cx="411.5" cy="97.3" r="1.15"/><circle cx="410.6" cy="95.9" r="1.15"/><circle cx="413.1" cy="95.2" r="1.15"/><circle cx="413.1" cy="97.4" r="1.15"/><circle cx="415.5" cy="94.7" r="1.15"/><circle cx="415.4" cy="97.2" r="1.15"/><circle cx="414.3" cy="97.3" r="1.15"/><circle cx="416.6" cy="95.1" r="1.15"/><circle cx="417.0" cy="97.5" r="1.15"/><circle cx="418.8" cy="95.2" r="1.15"/><circle cx="418.7" cy="97.4" r="1.15"/><circle cx="418.0" cy="96.8" r="1.15"/><circle cx="420.9" cy="95.5" r="1.15"/><circle cx="420.6" cy="96.8" r="1.15"/><circle cx="423.3" cy="95.5" r="1.15"/><circle cx="423.4" cy="96.9" r="1.15"/><circle cx="420.7" cy="96.7" r="1.15"/><circle cx="425.3" cy="94.7" r="1.15"/><circle cx="425.5" cy="97.1" r="1.15"/><circle cx="426.6" cy="95.1" r="1.15"/><circle cx="426.9" cy="96.7" r="1.15"/><circle cx="427.2" cy="97.4" r="1.15"/><circle cx="428.7" cy="95.0" r="1.15"/><circle cx="428.9" cy="97.3" r="1.15"/><circle cx="430.7" cy="94.9" r="1.15"/><circle cx="431.0" cy="97.1" r="1.15"/><circle cx="429.8" cy="96.3" r="1.15"/><circle cx="433.5" cy="95.5" r="1.15"/><circle cx="433.5" cy="97.4" r="1.15"/><circle cx="434.8" cy="94.8" r="1.15"/><circle cx="435.1" cy="97.2" r="1.15"/><circle cx="434.3" cy="95.5" r="1.15"/><circle cx="439.6" cy="95.4" r="1.15"/><circle cx="436.5" cy="94.7" r="1.15"/><circle cx="440.8" cy="95.3" r="1.15"/><circle cx="441.4" cy="96.6" r="1.15"/><circle cx="442.8" cy="94.8" r="1.15"/><circle cx="443.4" cy="97.5" r="1.15"/><circle cx="445.6" cy="95.6" r="1.15"/><circle cx="445.3" cy="97.1" r="1.15"/><circle cx="447.3" cy="95.4" r="1.15"/><circle cx="447.1" cy="96.9" r="1.15"/><circle cx="448.9" cy="95.2" r="1.15"/><circle cx="448.7" cy="97.6" r="1.15"/><circle cx="450.8" cy="94.8" r="1.15"/><circle cx="451.6" cy="97.6" r="1.15"/><circle cx="451.4" cy="97.1" r="1.15"/><circle cx="453.4" cy="95.4" r="1.15"/><circle cx="453.2" cy="96.7" r="1.15"/><circle cx="455.3" cy="95.4" r="1.15"/><circle cx="455.4" cy="96.6" r="1.15"/><circle cx="452.6" cy="96.7" r="1.15"/><circle cx="457.1" cy="95.5" r="1.15"/><circle cx="457.6" cy="97.0" r="1.15"/><circle cx="459.3" cy="95.3" r="1.15"/><circle cx="459.3" cy="97.0" r="1.15"/><circle cx="458.4" cy="94.6" r="1.15"/><circle cx="461.5" cy="95.3" r="1.15"/><circle cx="461.4" cy="97.1" r="1.15"/><circle cx="462.8" cy="95.1" r="1.15"/><circle cx="463.3" cy="97.1" r="1.15"/><circle cx="460.7" cy="94.4" r="1.15"/><circle cx="465.0" cy="94.8" r="1.15"/><circle cx="464.8" cy="96.8" r="1.15"/><circle cx="467.0" cy="95.3" r="1.15"/><circle cx="467.5" cy="97.3" r="1.15"/><circle cx="464.5" cy="97.2" r="1.15"/><circle cx="469.2" cy="95.3" r="1.15"/><circle cx="469.2" cy="97.0" r="1.15"/><circle cx="470.9" cy="94.7" r="1.15"/><circle cx="471.3" cy="96.7" r="1.15"/><circle cx="470.6" cy="97.3" r="1.15"/><circle cx="473.3" cy="95.2" r="1.15"/><circle cx="473.4" cy="97.6" r="1.15"/><circle cx="475.4" cy="95.6" r="1.15"/><circle cx="475.1" cy="96.6" r="1.15"/><circle cx="474.4" cy="96.4" r="1.15"/><circle cx="479.2" cy="96.4" r="1.15"/><circle cx="477.6" cy="94.4" r="1.15"/><circle cx="365.4" cy="99.2" r="1.15"/><circle cx="365.6" cy="101.2" r="1.15"/><circle cx="367.5" cy="99.4" r="1.15"/><circle cx="367.6" cy="101.1" r="1.15"/><circle cx="368.4" cy="99.4" r="1.15"/><circle cx="369.5" cy="101.6" r="1.15"/><circle cx="373.0" cy="98.9" r="1.15"/><circle cx="373.3" cy="100.7" r="1.15"/><circle cx="374.9" cy="99.0" r="1.15"/><circle cx="374.7" cy="101.2" r="1.15"/><circle cx="373.8" cy="101.0" r="1.15"/><circle cx="377.5" cy="101.5" r="1.15"/><circle cx="377.0" cy="100.1" r="1.15"/><circle cx="380.8" cy="98.6" r="1.15"/><circle cx="380.9" cy="101.5" r="1.15"/><circle cx="382.9" cy="99.1" r="1.15"/><circle cx="383.1" cy="100.9" r="1.15"/><circle cx="384.9" cy="98.9" r="1.15"/><circle cx="385.4" cy="101.4" r="1.15"/><circle cx="387.3" cy="99.2" r="1.15"/><circle cx="387.5" cy="101.3" r="1.15"/><circle cx="384.6" cy="98.8" r="1.15"/><circle cx="389.3" cy="99.4" r="1.15"/><circle cx="389.6" cy="101.4" r="1.15"/><circle cx="390.8" cy="99.2" r="1.15"/><circle cx="391.2" cy="101.2" r="1.15"/><circle cx="388.8" cy="101.5" r="1.15"/><circle cx="393.1" cy="98.9" r="1.15"/><circle cx="393.6" cy="101.0" r="1.15"/><circle cx="394.7" cy="99.3" r="1.15"/><circle cx="394.9" cy="100.8" r="1.15"/><circle cx="397.4" cy="100.5" r="1.15"/><circle cx="399.3" cy="101.6" r="1.15"/><circle cx="405.5" cy="99.5" r="1.15"/><circle cx="404.9" cy="101.4" r="1.15"/><circle cx="406.7" cy="99.2" r="1.15"/><circle cx="406.7" cy="100.7" r="1.15"/><circle cx="407.4" cy="98.8" r="1.15"/><circle cx="409.3" cy="99.1" r="1.15"/><circle cx="408.6" cy="101.4" r="1.15"/><circle cx="410.7" cy="99.5" r="1.15"/><circle cx="411.4" cy="101.1" r="1.15"/><circle cx="409.8" cy="98.5" r="1.15"/><circle cx="413.3" cy="98.6" r="1.15"/><circle cx="413.1" cy="101.5" r="1.15"/><circle cx="415.3" cy="98.7" r="1.15"/><circle cx="415.3" cy="101.3" r="1.15"/><circle cx="413.5" cy="100.9" r="1.15"/><circle cx="417.2" cy="99.0" r="1.15"/><circle cx="417.1" cy="100.9" r="1.15"/><circle cx="418.9" cy="99.5" r="1.15"/><circle cx="418.9" cy="101.4" r="1.15"/><circle cx="417.6" cy="99.0" r="1.15"/><circle cx="420.6" cy="99.6" r="1.15"/><circle cx="421.4" cy="101.6" r="1.15"/><circle cx="423.2" cy="98.7" r="1.15"/><circle cx="422.8" cy="100.6" r="1.15"/><circle cx="422.4" cy="100.4" r="1.15"/><circle cx="425.6" cy="98.9" r="1.15"/><circle cx="424.8" cy="100.8" r="1.15"/><circle cx="426.7" cy="98.6" r="1.15"/><circle cx="427.1" cy="101.0" r="1.15"/><circle cx="425.6" cy="101.4" r="1.15"/><circle cx="428.9" cy="99.4" r="1.15"/><circle cx="429.1" cy="100.7" r="1.15"/><circle cx="430.6" cy="99.2" r="1.15"/><circle cx="431.5" cy="100.7" r="1.15"/><circle cx="430.6" cy="99.1" r="1.15"/><circle cx="434.6" cy="101.1" r="1.15"/><circle cx="434.7" cy="99.2" r="1.15"/><circle cx="436.9" cy="101.5" r="1.15"/><circle cx="439.3" cy="101.4" r="1.15"/><circle cx="441.1" cy="98.7" r="1.15"/><circle cx="441.0" cy="101.5" r="1.15"/><circle cx="442.7" cy="98.9" r="1.15"/><circle cx="442.6" cy="101.5" r="1.15"/><circle cx="441.5" cy="98.7" r="1.15"/><circle cx="445.0" cy="98.8" r="1.15"/><circle cx="445.0" cy="101.2" r="1.15"/><circle cx="447.3" cy="98.7" r="1.15"/><circle cx="447.1" cy="100.7" r="1.15"/><circle cx="445.8" cy="101.0" r="1.15"/><circle cx="448.9" cy="99.4" r="1.15"/><circle cx="448.8" cy="101.0" r="1.15"/><circle cx="451.4" cy="98.6" r="1.15"/><circle cx="451.2" cy="101.1" r="1.15"/><circle cx="450.7" cy="101.4" r="1.15"/><circle cx="454.6" cy="99.1" r="1.15"/><circle cx="453.0" cy="99.9" r="1.15"/><circle cx="456.9" cy="99.2" r="1.15"/><circle cx="456.7" cy="101.3" r="1.15"/><circle cx="459.0" cy="98.6" r="1.15"/><circle cx="458.7" cy="101.5" r="1.15"/><circle cx="461.6" cy="101.6" r="1.15"/><circle cx="460.9" cy="100.7" r="1.15"/><circle cx="465.5" cy="98.8" r="1.15"/><circle cx="464.6" cy="100.7" r="1.15"/><circle cx="466.7" cy="99.4" r="1.15"/><circle cx="467.2" cy="101.1" r="1.15"/><circle cx="464.8" cy="100.5" r="1.15"/><circle cx="468.7" cy="98.7" r="1.15"/><circle cx="469.2" cy="101.2" r="1.15"/><circle cx="471.4" cy="99.4" r="1.15"/><circle cx="470.7" cy="100.9" r="1.15"/><circle cx="468.9" cy="100.0" r="1.15"/><circle cx="472.6" cy="99.5" r="1.15"/><circle cx="473.3" cy="101.4" r="1.15"/><circle cx="475.1" cy="99.5" r="1.15"/><circle cx="475.4" cy="101.4" r="1.15"/><circle cx="475.0" cy="99.1" r="1.15"/><circle cx="476.9" cy="98.7" r="1.15"/><circle cx="477.4" cy="101.1" r="1.15"/><circle cx="479.6" cy="98.9" r="1.15"/><circle cx="479.0" cy="101.5" r="1.15"/><circle cx="479.5" cy="100.8" r="1.15"/><circle cx="369.5" cy="103.5" r="1.15"/><circle cx="368.9" cy="105.2" r="1.15"/><circle cx="370.7" cy="103.3" r="1.15"/><circle cx="371.6" cy="105.1" r="1.15"/><circle cx="368.9" cy="104.2" r="1.15"/><circle cx="372.6" cy="103.9" r="1.15"/><circle cx="372.7" cy="103.7" r="1.15"/><circle cx="377.4" cy="103.3" r="1.15"/><circle cx="377.5" cy="105.1" r="1.15"/><circle cx="379.0" cy="102.7" r="1.15"/><circle cx="379.4" cy="105.2" r="1.15"/><circle cx="377.7" cy="102.9" r="1.15"/><circle cx="381.1" cy="102.7" r="1.15"/><circle cx="380.7" cy="104.7" r="1.15"/><circle cx="383.0" cy="102.7" r="1.15"/><circle cx="383.4" cy="105.2" r="1.15"/><circle cx="383.2" cy="104.2" r="1.15"/><circle cx="384.9" cy="103.3" r="1.15"/><circle cx="387.1" cy="104.3" r="1.15"/><circle cx="389.2" cy="103.2" r="1.15"/><circle cx="388.6" cy="104.8" r="1.15"/><circle cx="391.0" cy="103.4" r="1.15"/><circle cx="391.5" cy="105.2" r="1.15"/><circle cx="389.2" cy="102.5" r="1.15"/><circle cx="393.2" cy="103.0" r="1.15"/><circle cx="393.5" cy="104.8" r="1.15"/><circle cx="394.8" cy="102.6" r="1.15"/><circle cx="394.6" cy="105.4" r="1.15"/><circle cx="395.2" cy="102.9" r="1.15"/><circle cx="396.6" cy="103.2" r="1.15"/><circle cx="396.8" cy="105.2" r="1.15"/><circle cx="399.5" cy="103.3" r="1.15"/><circle cx="398.9" cy="105.2" r="1.15"/><circle cx="397.3" cy="104.8" r="1.15"/><circle cx="400.9" cy="103.5" r="1.15"/><circle cx="401.3" cy="105.5" r="1.15"/><circle cx="402.9" cy="103.6" r="1.15"/><circle cx="403.2" cy="104.9" r="1.15"/><circle cx="404.7" cy="102.6" r="1.15"/><circle cx="405.2" cy="104.8" r="1.15"/><circle cx="406.7" cy="103.4" r="1.15"/><circle cx="406.7" cy="105.4" r="1.15"/><circle cx="405.3" cy="103.6" r="1.15"/><circle cx="409.5" cy="103.4" r="1.15"/><circle cx="409.4" cy="105.6" r="1.15"/><circle cx="411.2" cy="103.5" r="1.15"/><circle cx="411.2" cy="105.2" r="1.15"/><circle cx="409.4" cy="103.6" r="1.15"/><circle cx="413.2" cy="102.8" r="1.15"/><circle cx="413.2" cy="105.5" r="1.15"/><circle cx="415.3" cy="102.8" r="1.15"/><circle cx="414.6" cy="105.0" r="1.15"/><circle cx="413.8" cy="105.1" r="1.15"/><circle cx="417.1" cy="103.1" r="1.15"/><circle cx="417.2" cy="105.2" r="1.15"/><circle cx="419.3" cy="103.2" r="1.15"/><circle cx="419.2" cy="104.8" r="1.15"/><circle cx="416.8" cy="103.8" r="1.15"/><circle cx="423.2" cy="105.4" r="1.15"/><circle cx="421.3" cy="104.2" r="1.15"/><circle cx="425.1" cy="103.1" r="1.15"/><circle cx="424.8" cy="105.4" r="1.15"/><circle cx="426.7" cy="102.8" r="1.15"/><circle cx="426.9" cy="104.8" r="1.15"/><circle cx="425.0" cy="102.7" r="1.15"/><circle cx="429.1" cy="102.8" r="1.15"/><circle cx="429.2" cy="105.2" r="1.15"/><circle cx="431.2" cy="103.1" r="1.15"/><circle cx="431.2" cy="104.9" r="1.15"/><circle cx="429.9" cy="104.6" r="1.15"/><circle cx="432.8" cy="103.3" r="1.15"/><circle cx="433.2" cy="105.6" r="1.15"/><circle cx="435.2" cy="103.1" r="1.15"/><circle cx="435.4" cy="104.9" r="1.15"/><circle cx="433.6" cy="103.8" r="1.15"/><circle cx="437.3" cy="103.3" r="1.15"/><circle cx="436.8" cy="105.6" r="1.15"/><circle cx="439.6" cy="103.1" r="1.15"/><circle cx="439.6" cy="105.2" r="1.15"/><circle cx="437.6" cy="102.7" r="1.15"/><circle cx="461.5" cy="102.9" r="1.15"/><circle cx="463.2" cy="103.0" r="1.15"/><circle cx="465.3" cy="102.8" r="1.15"/><circle cx="465.1" cy="105.6" r="1.15"/><circle cx="466.7" cy="103.5" r="1.15"/><circle cx="466.6" cy="105.6" r="1.15"/><circle cx="467.3" cy="103.8" r="1.15"/><circle cx="469.2" cy="103.1" r="1.15"/><circle cx="468.8" cy="105.0" r="1.15"/><circle cx="471.0" cy="103.5" r="1.15"/><circle cx="470.7" cy="105.1" r="1.15"/><circle cx="469.9" cy="104.2" r="1.15"/><circle cx="473.4" cy="103.2" r="1.15"/><circle cx="472.9" cy="105.6" r="1.15"/><circle cx="475.2" cy="102.9" r="1.15"/><circle cx="475.1" cy="105.5" r="1.15"/><circle cx="472.5" cy="104.5" r="1.15"/><circle cx="478.0" cy="103.3" r="1.15"/><circle cx="476.9" cy="103.1" r="1.15"/><circle cx="369.0" cy="107.0" r="1.15"/><circle cx="369.2" cy="108.9" r="1.15"/><circle cx="371.2" cy="107.1" r="1.15"/><circle cx="371.4" cy="109.4" r="1.15"/><circle cx="369.2" cy="109.5" r="1.15"/><circle cx="374.1" cy="107.5" r="1.15"/><circle cx="373.2" cy="108.7" r="1.15"/><circle cx="377.0" cy="107.3" r="1.15"/><circle cx="376.9" cy="109.5" r="1.15"/><circle cx="378.9" cy="107.5" r="1.15"/><circle cx="379.0" cy="109.0" r="1.15"/><circle cx="378.2" cy="108.1" r="1.15"/><circle cx="382.2" cy="108.2" r="1.15"/><circle cx="383.4" cy="108.8" r="1.15"/><circle cx="388.7" cy="107.6" r="1.15"/><circle cx="388.6" cy="108.7" r="1.15"/><circle cx="391.4" cy="106.9" r="1.15"/><circle cx="390.6" cy="108.8" r="1.15"/><circle cx="392.6" cy="106.8" r="1.15"/><circle cx="392.6" cy="108.7" r="1.15"/><circle cx="394.9" cy="107.1" r="1.15"/><circle cx="395.6" cy="109.2" r="1.15"/><circle cx="397.5" cy="107.3" r="1.15"/><circle cx="396.8" cy="109.0" r="1.15"/><circle cx="399.1" cy="106.7" r="1.15"/><circle cx="399.5" cy="109.1" r="1.15"/><circle cx="397.0" cy="108.0" r="1.15"/><circle cx="401.4" cy="106.9" r="1.15"/><circle cx="401.2" cy="108.7" r="1.15"/><circle cx="402.8" cy="106.8" r="1.15"/><circle cx="403.1" cy="109.3" r="1.15"/><circle cx="405.2" cy="107.4" r="1.15"/><circle cx="405.6" cy="108.9" r="1.15"/><circle cx="407.6" cy="107.1" r="1.15"/><circle cx="407.1" cy="108.8" r="1.15"/><circle cx="404.7" cy="108.5" r="1.15"/><circle cx="408.7" cy="106.6" r="1.15"/><circle cx="408.7" cy="109.1" r="1.15"/><circle cx="410.8" cy="106.9" r="1.15"/><circle cx="411.4" cy="109.0" r="1.15"/><circle cx="408.9" cy="108.6" r="1.15"/><circle cx="413.6" cy="107.2" r="1.15"/><circle cx="413.0" cy="109.1" r="1.15"/><circle cx="415.3" cy="107.4" r="1.15"/><circle cx="415.4" cy="108.8" r="1.15"/><circle cx="414.9" cy="106.7" r="1.15"/><circle cx="416.7" cy="107.1" r="1.15"/><circle cx="416.8" cy="109.2" r="1.15"/><circle cx="418.9" cy="107.5" r="1.15"/><circle cx="419.0" cy="109.4" r="1.15"/><circle cx="419.4" cy="107.8" r="1.15"/><circle cx="422.9" cy="108.0" r="1.15"/><circle cx="421.7" cy="106.8" r="1.15"/><circle cx="425.3" cy="107.5" r="1.15"/><circle cx="425.3" cy="108.9" r="1.15"/><circle cx="427.1" cy="107.0" r="1.15"/><circle cx="427.0" cy="109.4" r="1.15"/><circle cx="424.4" cy="107.9" r="1.15"/><circle cx="429.1" cy="106.7" r="1.15"/><circle cx="429.3" cy="108.9" r="1.15"/><circle cx="431.0" cy="106.8" r="1.15"/><circle cx="431.2" cy="109.0" r="1.15"/><circle cx="430.6" cy="107.8" r="1.15"/><circle cx="433.4" cy="107.2" r="1.15"/><circle cx="432.7" cy="109.1" r="1.15"/><circle cx="434.9" cy="106.9" r="1.15"/><circle cx="435.5" cy="109.1" r="1.15"/><circle cx="434.8" cy="106.9" r="1.15"/><circle cx="437.2" cy="106.7" r="1.15"/><circle cx="436.8" cy="108.7" r="1.15"/><circle cx="438.6" cy="107.5" r="1.15"/><circle cx="439.6" cy="109.0" r="1.15"/><circle cx="436.4" cy="108.7" r="1.15"/><circle cx="469.0" cy="106.6" r="1.15"/><circle cx="469.0" cy="108.1" r="1.15"/><circle cx="374.3" cy="111.9" r="1.15"/><circle cx="374.4" cy="112.2" r="1.15"/><circle cx="377.2" cy="111.0" r="1.15"/><circle cx="377.4" cy="113.1" r="1.15"/><circle cx="379.5" cy="111.6" r="1.15"/><circle cx="379.4" cy="113.4" r="1.15"/><circle cx="378.6" cy="112.2" r="1.15"/><circle cx="381.2" cy="110.7" r="1.15"/><circle cx="382.5" cy="111.2" r="1.15"/><circle cx="397.2" cy="111.1" r="1.15"/><circle cx="397.2" cy="113.0" r="1.15"/><circle cx="398.8" cy="110.9" r="1.15"/><circle cx="399.3" cy="113.5" r="1.15"/><circle cx="397.4" cy="111.4" r="1.15"/><circle cx="401.0" cy="111.0" r="1.15"/><circle cx="401.2" cy="113.4" r="1.15"/><circle cx="403.4" cy="111.4" r="1.15"/><circle cx="403.3" cy="113.6" r="1.15"/><circle cx="405.3" cy="110.9" r="1.15"/><circle cx="405.4" cy="113.0" r="1.15"/><circle cx="407.2" cy="111.1" r="1.15"/><circle cx="407.0" cy="112.6" r="1.15"/><circle cx="405.3" cy="111.9" r="1.15"/><circle cx="409.6" cy="110.7" r="1.15"/><circle cx="409.5" cy="113.6" r="1.15"/><circle cx="411.4" cy="110.9" r="1.15"/><circle cx="410.6" cy="113.5" r="1.15"/><circle cx="408.6" cy="111.4" r="1.15"/><circle cx="413.5" cy="111.3" r="1.15"/><circle cx="413.4" cy="113.4" r="1.15"/><circle cx="414.8" cy="111.1" r="1.15"/><circle cx="414.7" cy="113.0" r="1.15"/><circle cx="417.3" cy="112.5" r="1.15"/><circle cx="416.9" cy="111.2" r="1.15"/><circle cx="424.7" cy="111.2" r="1.15"/><circle cx="425.2" cy="113.3" r="1.15"/><circle cx="427.0" cy="111.5" r="1.15"/><circle cx="427.3" cy="113.2" r="1.15"/><circle cx="427.2" cy="111.0" r="1.15"/><circle cx="428.9" cy="111.2" r="1.15"/><circle cx="429.2" cy="113.6" r="1.15"/><circle cx="431.3" cy="110.6" r="1.15"/><circle cx="431.5" cy="113.1" r="1.15"/><circle cx="429.1" cy="112.8" r="1.15"/><circle cx="433.2" cy="111.5" r="1.15"/><circle cx="433.2" cy="112.9" r="1.15"/><circle cx="435.1" cy="111.1" r="1.15"/><circle cx="435.0" cy="113.2" r="1.15"/><circle cx="432.9" cy="111.2" r="1.15"/><circle cx="436.7" cy="110.6" r="1.15"/><circle cx="437.1" cy="113.3" r="1.15"/><circle cx="439.0" cy="111.5" r="1.15"/><circle cx="439.2" cy="113.3" r="1.15"/><circle cx="437.3" cy="113.3" r="1.15"/><circle cx="379.1" cy="116.4" r="1.15"/><circle cx="376.9" cy="116.5" r="1.15"/><circle cx="380.8" cy="115.2" r="1.15"/><circle cx="381.0" cy="117.6" r="1.15"/><circle cx="383.0" cy="114.9" r="1.15"/><circle cx="382.9" cy="117.6" r="1.15"/><circle cx="393.1" cy="115.3" r="1.15"/><circle cx="393.5" cy="116.7" r="1.15"/><circle cx="394.9" cy="115.3" r="1.15"/><circle cx="395.1" cy="117.3" r="1.15"/><circle cx="394.6" cy="114.7" r="1.15"/><circle cx="396.7" cy="114.8" r="1.15"/><circle cx="396.9" cy="116.8" r="1.15"/><circle cx="398.9" cy="114.7" r="1.15"/><circle cx="398.6" cy="117.1" r="1.15"/><circle cx="398.8" cy="114.9" r="1.15"/><circle cx="400.7" cy="115.3" r="1.15"/><circle cx="400.7" cy="116.7" r="1.15"/><circle cx="403.1" cy="114.9" r="1.15"/><circle cx="403.4" cy="117.1" r="1.15"/><circle cx="402.1" cy="115.6" r="1.15"/><circle cx="404.6" cy="115.4" r="1.15"/><circle cx="405.0" cy="117.4" r="1.15"/><circle cx="406.7" cy="115.0" r="1.15"/><circle cx="407.1" cy="116.8" r="1.15"/><circle cx="404.6" cy="117.4" r="1.15"/><circle cx="409.5" cy="115.6" r="1.15"/><circle cx="409.1" cy="117.3" r="1.15"/><circle cx="411.2" cy="115.1" r="1.15"/><circle cx="410.8" cy="117.2" r="1.15"/><circle cx="412.6" cy="114.9" r="1.15"/><circle cx="412.7" cy="117.4" r="1.15"/><circle cx="415.1" cy="114.9" r="1.15"/><circle cx="415.4" cy="117.1" r="1.15"/><circle cx="413.3" cy="115.7" r="1.15"/><circle cx="416.6" cy="114.7" r="1.15"/><circle cx="416.6" cy="117.6" r="1.15"/><circle cx="419.5" cy="115.1" r="1.15"/><circle cx="419.5" cy="117.1" r="1.15"/><circle cx="418.6" cy="114.7" r="1.15"/><circle cx="421.8" cy="116.4" r="1.15"/><circle cx="421.7" cy="116.5" r="1.15"/><circle cx="424.9" cy="115.3" r="1.15"/><circle cx="424.8" cy="117.1" r="1.15"/><circle cx="427.0" cy="115.1" r="1.15"/><circle cx="426.7" cy="116.8" r="1.15"/><circle cx="426.7" cy="114.9" r="1.15"/><circle cx="429.1" cy="115.6" r="1.15"/><circle cx="429.2" cy="117.3" r="1.15"/><circle cx="431.4" cy="115.6" r="1.15"/><circle cx="431.0" cy="117.0" r="1.15"/><circle cx="430.8" cy="114.5" r="1.15"/><circle cx="388.7" cy="119.3" r="1.15"/><circle cx="388.8" cy="121.4" r="1.15"/><circle cx="391.2" cy="119.2" r="1.15"/><circle cx="390.7" cy="121.0" r="1.15"/><circle cx="390.7" cy="118.8" r="1.15"/><circle cx="392.6" cy="119.0" r="1.15"/><circle cx="393.5" cy="121.2" r="1.15"/><circle cx="394.8" cy="118.7" r="1.15"/><circle cx="395.4" cy="121.4" r="1.15"/><circle cx="394.6" cy="119.1" r="1.15"/><circle cx="397.4" cy="118.6" r="1.15"/><circle cx="396.8" cy="120.9" r="1.15"/><circle cx="399.6" cy="118.6" r="1.15"/><circle cx="398.8" cy="121.3" r="1.15"/><circle cx="400.6" cy="121.1" r="1.15"/><circle cx="403.5" cy="121.3" r="1.15"/><circle cx="405.2" cy="118.7" r="1.15"/><circle cx="405.3" cy="121.2" r="1.15"/><circle cx="407.4" cy="119.4" r="1.15"/><circle cx="407.1" cy="121.6" r="1.15"/><circle cx="405.9" cy="119.8" r="1.15"/><circle cx="409.2" cy="119.4" r="1.15"/><circle cx="409.2" cy="121.5" r="1.15"/><circle cx="410.9" cy="119.5" r="1.15"/><circle cx="411.5" cy="120.9" r="1.15"/><circle cx="408.5" cy="120.3" r="1.15"/><circle cx="413.2" cy="119.6" r="1.15"/><circle cx="413.2" cy="121.3" r="1.15"/><circle cx="415.4" cy="118.8" r="1.15"/><circle cx="415.3" cy="121.0" r="1.15"/><circle cx="413.1" cy="119.3" r="1.15"/><circle cx="417.6" cy="120.8" r="1.15"/><circle cx="418.2" cy="119.4" r="1.15"/><circle cx="424.7" cy="119.4" r="1.15"/><circle cx="425.4" cy="121.4" r="1.15"/><circle cx="427.4" cy="118.7" r="1.15"/><circle cx="426.9" cy="121.1" r="1.15"/><circle cx="425.4" cy="121.0" r="1.15"/><circle cx="429.1" cy="118.4" r="1.15"/><circle cx="429.8" cy="118.6" r="1.15"/><circle cx="388.6" cy="123.5" r="1.15"/><circle cx="388.9" cy="125.3" r="1.15"/><circle cx="390.7" cy="122.7" r="1.15"/><circle cx="390.7" cy="125.4" r="1.15"/><circle cx="391.4" cy="125.3" r="1.15"/><circle cx="393.1" cy="122.7" r="1.15"/><circle cx="393.4" cy="125.1" r="1.15"/><circle cx="395.4" cy="123.2" r="1.15"/><circle cx="395.2" cy="124.8" r="1.15"/><circle cx="392.9" cy="122.7" r="1.15"/><circle cx="397.0" cy="122.9" r="1.15"/><circle cx="397.6" cy="124.6" r="1.15"/><circle cx="399.4" cy="122.7" r="1.15"/><circle cx="398.7" cy="125.5" r="1.15"/><circle cx="397.1" cy="124.3" r="1.15"/><circle cx="402.3" cy="123.7" r="1.15"/><circle cx="401.5" cy="122.8" r="1.15"/><circle cx="409.3" cy="123.0" r="1.15"/><circle cx="409.2" cy="125.4" r="1.15"/><circle cx="410.7" cy="123.0" r="1.15"/><circle cx="411.0" cy="125.5" r="1.15"/><circle cx="410.4" cy="123.0" r="1.15"/><circle cx="413.1" cy="122.6" r="1.15"/><circle cx="413.1" cy="124.7" r="1.15"/><circle cx="414.7" cy="123.1" r="1.15"/><circle cx="415.1" cy="124.8" r="1.15"/><circle cx="418.6" cy="122.6" r="1.15"/><circle cx="419.1" cy="123.8" r="1.15"/><circle cx="391.3" cy="128.7" r="1.15"/><circle cx="390.6" cy="128.8" r="1.15"/><circle cx="393.3" cy="127.5" r="1.15"/><circle cx="393.2" cy="129.3" r="1.15"/><circle cx="395.1" cy="127.1" r="1.15"/><circle cx="395.5" cy="128.9" r="1.15"/><circle cx="393.0" cy="128.0" r="1.15"/><circle cx="396.9" cy="127.3" r="1.15"/><circle cx="397.2" cy="128.6" r="1.15"/><circle cx="398.8" cy="127.2" r="1.15"/><circle cx="399.0" cy="129.3" r="1.15"/><circle cx="397.9" cy="126.8" r="1.15"/><circle cx="402.6" cy="129.5" r="1.15"/><circle cx="400.7" cy="128.4" r="1.15"/><circle cx="409.2" cy="127.2" r="1.15"/><circle cx="409.1" cy="129.1" r="1.15"/><circle cx="411.6" cy="127.5" r="1.15"/><circle cx="411.0" cy="129.4" r="1.15"/><circle cx="410.5" cy="129.0" r="1.15"/><circle cx="413.6" cy="126.7" r="1.15"/><circle cx="412.8" cy="128.8" r="1.15"/><circle cx="415.4" cy="127.5" r="1.15"/><circle cx="414.8" cy="129.1" r="1.15"/><circle cx="415.2" cy="128.7" r="1.15"/><circle cx="418.3" cy="129.3" r="1.15"/><circle cx="419.4" cy="126.7" r="1.15"/><circle cx="408.8" cy="130.7" r="1.15"/><circle cx="409.2" cy="133.6" r="1.15"/><circle cx="411.2" cy="131.5" r="1.15"/><circle cx="410.7" cy="133.2" r="1.15"/><circle cx="409.6" cy="133.1" r="1.15"/><circle cx="413.2" cy="131.2" r="1.15"/><circle cx="413.5" cy="133.6" r="1.15"/><circle cx="414.7" cy="131.0" r="1.15"/><circle cx="414.7" cy="133.2" r="1.15"/><circle cx="413.1" cy="132.6" r="1.15"/><circle cx="417.5" cy="130.4" r="1.15"/><circle cx="419.2" cy="130.8" r="1.15"/><circle cx="405.9" cy="135.2" r="1.15"/><circle cx="405.3" cy="135.5" r="1.15"/><circle cx="409.0" cy="136.2" r="1.15"/><circle cx="408.5" cy="135.2" r="1.15"/><circle cx="413.6" cy="139.6" r="1.15"/><circle cx="413.2" cy="140.8" r="1.15"/><circle cx="414.6" cy="139.1" r="1.15"/><circle cx="415.1" cy="141.5" r="1.15"/><circle cx="415.6" cy="141.0" r="1.15"/><circle cx="416.8" cy="139.6" r="1.15"/><circle cx="417.2" cy="140.6" r="1.15"/><circle cx="418.8" cy="139.6" r="1.15"/><circle cx="419.4" cy="141.3" r="1.15"/><circle cx="418.5" cy="138.5" r="1.15"/></g>
<polyline points="399.8,54.0 402.7,58.8 405.0,63.5 406.5,67.3 411.2,68.3 416.0,68.3 419.8,71.1 422.7,74.5 424.6,76.4 428.4,74.0 432.2,70.2 436.0,67.3 439.8,65.4 444.0,64.5" fill="none" stroke="#fff" stroke-width="0.9" stroke-linejoin="round" stroke-linecap="round"/>
<polyline points="406.5,67.3 403.6,73.0 401.7,77.8 398.9,80.7 396.0,81.6" fill="none" stroke="#fff" stroke-width="0.9" stroke-linejoin="round" stroke-linecap="round"/>
<polyline points="424.6,76.4 420.8,81.6 418.9,85.4 417.0,90.2" fill="none" stroke="#fff" stroke-width="0.9" stroke-linejoin="round" stroke-linecap="round"/>
<polyline points="396.0,87.3 400.8,86.4 405.5,86.4 409.3,90.2 415.0,91.1 420.8,90.2 426.5,89.2 432.2,89.2" fill="none" stroke="#fff" stroke-width="0.9" stroke-linejoin="round" stroke-linecap="round"/>
<polyline points="434.1,73.0 437.9,78.8 441.7,82.6 444.0,85.4" fill="none" stroke="#fff" stroke-width="0.9" stroke-linejoin="round" stroke-linecap="round"/>
<polyline points="434.1,89.2 436.0,94.0 437.0,102.0" fill="none" stroke="#fff" stroke-width="0.9" stroke-linejoin="round" stroke-linecap="round"/>
<g fill="#00BFC4"><circle cx="393.6" cy="27.9" r="1.15"/><circle cx="409.7" cy="26.7" r="1.15"/><circle cx="399.2" cy="31.6" r="1.15"/><circle cx="412.6" cy="41.4" r="1.15"/><circle cx="393.5" cy="63.8" r="1.15"/><circle cx="472.6" cy="64.2" r="1.15"/><circle cx="396.8" cy="73.3" r="1.15"/><circle cx="466.2" cy="72.2" r="1.15"/><circle cx="481.3" cy="71.3" r="1.15"/><circle cx="436.4" cy="76.0" r="1.15"/><circle cx="469.1" cy="77.0" r="1.15"/><circle cx="478.1" cy="81.5" r="1.15"/><circle cx="449.1" cy="82.5" r="1.15"/><circle cx="440.4" cy="86.4" r="1.15"/><circle cx="372.9" cy="91.8" r="1.15"/><circle cx="382.3" cy="90.6" r="1.15"/><circle cx="388.6" cy="93.4" r="1.15"/><circle cx="458.8" cy="93.0" r="1.15"/><circle cx="441.2" cy="94.7" r="1.15"/><circle cx="446.1" cy="96.5" r="1.15"/><circle cx="367.3" cy="99.7" r="1.15"/><circle cx="382.1" cy="98.6" r="1.15"/><circle cx="393.4" cy="100.3" r="1.15"/><circle cx="459.1" cy="101.2" r="1.15"/><circle cx="402.5" cy="103.4" r="1.15"/><circle cx="448.6" cy="103.2" r="1.15"/><circle cx="449.3" cy="105.2" r="1.15"/><circle cx="451.4" cy="103.0" r="1.15"/><circle cx="451.3" cy="105.2" r="1.15"/><circle cx="453.2" cy="103.1" r="1.15"/><circle cx="453.3" cy="105.2" r="1.15"/><circle cx="454.7" cy="103.3" r="1.15"/><circle cx="455.3" cy="105.0" r="1.15"/><circle cx="459.5" cy="103.9" r="1.15"/><circle cx="456.9" cy="104.0" r="1.15"/><circle cx="390.0" cy="109.1" r="1.15"/><circle cx="395.1" cy="108.3" r="1.15"/><circle cx="401.1" cy="108.6" r="1.15"/><circle cx="450.5" cy="106.5" r="1.15"/><circle cx="450.9" cy="106.6" r="1.15"/><circle cx="452.8" cy="107.4" r="1.15"/><circle cx="453.4" cy="108.8" r="1.15"/><circle cx="455.1" cy="107.4" r="1.15"/><circle cx="455.2" cy="109.1" r="1.15"/><circle cx="401.8" cy="111.8" r="1.15"/><circle cx="414.0" cy="113.0" r="1.15"/><circle cx="440.9" cy="111.4" r="1.15"/><circle cx="440.8" cy="113.6" r="1.15"/><circle cx="443.3" cy="110.8" r="1.15"/><circle cx="443.3" cy="112.8" r="1.15"/><circle cx="445.0" cy="111.0" r="1.15"/><circle cx="444.9" cy="113.0" r="1.15"/><circle cx="446.8" cy="111.0" r="1.15"/><circle cx="446.7" cy="113.4" r="1.15"/><circle cx="449.0" cy="111.3" r="1.15"/><circle cx="449.0" cy="113.6" r="1.15"/><circle cx="451.5" cy="111.3" r="1.15"/><circle cx="451.4" cy="113.5" r="1.15"/><circle cx="453.5" cy="111.0" r="1.15"/><circle cx="453.2" cy="112.7" r="1.15"/><circle cx="455.0" cy="110.9" r="1.15"/><circle cx="455.2" cy="112.6" r="1.15"/><circle cx="458.8" cy="110.6" r="1.15"/><circle cx="457.8" cy="112.0" r="1.15"/><circle cx="381.5" cy="115.2" r="1.15"/><circle cx="409.8" cy="116.6" r="1.15"/><circle cx="433.9" cy="115.3" r="1.15"/><circle cx="434.2" cy="116.7" r="1.15"/><circle cx="437.5" cy="115.1" r="1.15"/><circle cx="437.3" cy="116.7" r="1.15"/><circle cx="439.3" cy="115.5" r="1.15"/><circle cx="439.2" cy="117.1" r="1.15"/><circle cx="441.1" cy="115.0" r="1.15"/><circle cx="440.8" cy="116.8" r="1.15"/><circle cx="443.4" cy="115.1" r="1.15"/><circle cx="442.6" cy="117.2" r="1.15"/><circle cx="445.4" cy="115.3" r="1.15"/><circle cx="444.8" cy="117.6" r="1.15"/><circle cx="446.8" cy="115.1" r="1.15"/><circle cx="447.1" cy="116.8" r="1.15"/><circle cx="448.9" cy="114.8" r="1.15"/><circle cx="448.8" cy="116.6" r="1.15"/><circle cx="451.2" cy="115.3" r="1.15"/><circle cx="450.9" cy="117.6" r="1.15"/><circle cx="453.0" cy="115.1" r="1.15"/><circle cx="453.5" cy="117.2" r="1.15"/><circle cx="455.1" cy="115.3" r="1.15"/><circle cx="455.3" cy="116.9" r="1.15"/><circle cx="456.6" cy="116.7" r="1.15"/><circle cx="458.8" cy="116.3" r="1.15"/><circle cx="398.8" cy="119.3" r="1.15"/><circle cx="432.6" cy="119.2" r="1.15"/><circle cx="433.2" cy="121.1" r="1.15"/><circle cx="434.7" cy="119.2" r="1.15"/><circle cx="435.1" cy="120.9" r="1.15"/><circle cx="436.8" cy="118.8" r="1.15"/><circle cx="437.1" cy="121.0" r="1.15"/><circle cx="439.2" cy="119.3" r="1.15"/><circle cx="438.9" cy="121.2" r="1.15"/><circle cx="440.9" cy="119.3" r="1.15"/><circle cx="440.8" cy="121.2" r="1.15"/><circle cx="443.3" cy="119.4" r="1.15"/><circle cx="443.1" cy="121.5" r="1.15"/><circle cx="445.6" cy="119.4" r="1.15"/><circle cx="445.0" cy="120.9" r="1.15"/><circle cx="447.2" cy="118.7" r="1.15"/><circle cx="446.8" cy="120.7" r="1.15"/><circle cx="449.3" cy="119.0" r="1.15"/><circle cx="449.5" cy="121.4" r="1.15"/><circle cx="451.1" cy="118.9" r="1.15"/><circle cx="450.9" cy="120.7" r="1.15"/><circle cx="452.7" cy="119.5" r="1.15"/><circle cx="452.9" cy="120.6" r="1.15"/><circle cx="455.6" cy="119.0" r="1.15"/><circle cx="455.4" cy="121.1" r="1.15"/><circle cx="459.5" cy="118.7" r="1.15"/><circle cx="457.9" cy="120.5" r="1.15"/><circle cx="414.3" cy="123.4" r="1.15"/><circle cx="424.8" cy="122.9" r="1.15"/><circle cx="425.2" cy="124.7" r="1.15"/><circle cx="427.5" cy="122.8" r="1.15"/><circle cx="427.0" cy="124.7" r="1.15"/><circle cx="429.1" cy="123.6" r="1.15"/><circle cx="428.8" cy="124.8" r="1.15"/><circle cx="431.1" cy="123.2" r="1.15"/><circle cx="430.7" cy="124.8" r="1.15"/><circle cx="433.2" cy="122.8" r="1.15"/><circle cx="432.6" cy="125.3" r="1.15"/><circle cx="435.5" cy="123.4" r="1.15"/><circle cx="435.5" cy="124.8" r="1.15"/><circle cx="436.9" cy="123.2" r="1.15"/><circle cx="437.2" cy="125.2" r="1.15"/><circle cx="439.2" cy="122.8" r="1.15"/><circle cx="438.8" cy="124.7" r="1.15"/><circle cx="440.7" cy="123.2" r="1.15"/><circle cx="440.7" cy="125.5" r="1.15"/><circle cx="443.6" cy="122.7" r="1.15"/><circle cx="443.6" cy="125.2" r="1.15"/><circle cx="444.6" cy="123.0" r="1.15"/><circle cx="445.0" cy="124.9" r="1.15"/><circle cx="446.7" cy="122.8" r="1.15"/><circle cx="446.6" cy="125.0" r="1.15"/><circle cx="449.1" cy="122.8" r="1.15"/><circle cx="449.5" cy="125.5" r="1.15"/><circle cx="451.1" cy="123.4" r="1.15"/><circle cx="451.0" cy="125.4" r="1.15"/><circle cx="453.4" cy="123.0" r="1.15"/><circle cx="453.3" cy="125.0" r="1.15"/><circle cx="454.8" cy="123.0" r="1.15"/><circle cx="454.7" cy="125.3" r="1.15"/><circle cx="457.2" cy="124.0" r="1.15"/><circle cx="459.0" cy="124.3" r="1.15"/><circle cx="427.5" cy="127.3" r="1.15"/><circle cx="426.4" cy="128.8" r="1.15"/><circle cx="428.9" cy="126.9" r="1.15"/><circle cx="429.5" cy="129.4" r="1.15"/><circle cx="431.6" cy="126.7" r="1.15"/><circle cx="431.2" cy="129.3" r="1.15"/><circle cx="433.6" cy="127.3" r="1.15"/><circle cx="432.9" cy="128.7" r="1.15"/><circle cx="434.8" cy="126.9" r="1.15"/><circle cx="435.2" cy="128.9" r="1.15"/><circle cx="436.7" cy="126.7" r="1.15"/><circle cx="437.3" cy="129.4" r="1.15"/><circle cx="438.7" cy="127.1" r="1.15"/><circle cx="439.6" cy="129.0" r="1.15"/><circle cx="441.1" cy="127.4" r="1.15"/><circle cx="440.6" cy="129.5" r="1.15"/><circle cx="443.4" cy="127.3" r="1.15"/><circle cx="442.9" cy="129.1" r="1.15"/><circle cx="445.5" cy="126.7" r="1.15"/><circle cx="444.7" cy="129.2" r="1.15"/><circle cx="447.6" cy="126.7" r="1.15"/><circle cx="446.8" cy="129.1" r="1.15"/><circle cx="449.4" cy="127.2" r="1.15"/><circle cx="449.3" cy="128.7" r="1.15"/><circle cx="450.8" cy="127.2" r="1.15"/><circle cx="451.3" cy="128.7" r="1.15"/><circle cx="452.7" cy="127.4" r="1.15"/><circle cx="453.7" cy="127.5" r="1.15"/><circle cx="425.3" cy="132.1" r="1.15"/><circle cx="424.6" cy="132.9" r="1.15"/><circle cx="429.3" cy="130.7" r="1.15"/><circle cx="429.2" cy="132.7" r="1.15"/><circle cx="431.1" cy="130.7" r="1.15"/><circle cx="430.9" cy="133.1" r="1.15"/><circle cx="433.1" cy="131.3" r="1.15"/><circle cx="433.5" cy="132.9" r="1.15"/><circle cx="435.0" cy="130.8" r="1.15"/><circle cx="435.3" cy="133.0" r="1.15"/><circle cx="437.1" cy="131.0" r="1.15"/><circle cx="437.7" cy="133.1" r="1.15"/><circle cx="441.8" cy="133.0" r="1.15"/><circle cx="441.9" cy="132.3" r="1.15"/><circle cx="445.2" cy="131.7" r="1.15"/><circle cx="446.7" cy="130.7" r="1.15"/><circle cx="425.2" cy="135.0" r="1.15"/><circle cx="427.1" cy="136.6" r="1.15"/><circle cx="429.5" cy="134.7" r="1.15"/><circle cx="428.8" cy="136.9" r="1.15"/><circle cx="431.1" cy="135.4" r="1.15"/><circle cx="431.4" cy="137.5" r="1.15"/><circle cx="432.5" cy="134.5" r="1.15"/><circle cx="433.5" cy="135.8" r="1.15"/><circle cx="436.6" cy="135.0" r="1.15"/><circle cx="436.7" cy="137.5" r="1.15"/><circle cx="438.8" cy="134.9" r="1.15"/><circle cx="438.8" cy="137.4" r="1.15"/><circle cx="440.7" cy="135.0" r="1.15"/><circle cx="440.8" cy="136.8" r="1.15"/><circle cx="443.6" cy="135.3" r="1.15"/><circle cx="443.3" cy="137.0" r="1.15"/><circle cx="435.4" cy="139.4" r="1.15"/><circle cx="434.9" cy="140.1" r="1.15"/><circle cx="437.1" cy="139.1" r="1.15"/><circle cx="437.5" cy="141.4" r="1.15"/><circle cx="439.0" cy="139.5" r="1.15"/><circle cx="438.8" cy="140.9" r="1.15"/><circle cx="440.9" cy="138.6" r="1.15"/><circle cx="441.0" cy="140.6" r="1.15"/><circle cx="443.6" cy="139.4" r="1.15"/><circle cx="443.1" cy="140.7" r="1.15"/><circle cx="433.2" cy="144.9" r="1.15"/><circle cx="433.3" cy="142.7" r="1.15"/><circle cx="437.8" cy="144.3" r="1.15"/><circle cx="436.8" cy="143.6" r="1.15"/></g>
<rect x="350.4" y="6.6" width="138.0" height="142.20000000000002" fill="none" stroke="#3a3a3a" stroke-width="1"/>
<line x1="348.59999999999997" y1="14.60" x2="350.4" y2="14.60" stroke="#333" stroke-width="0.7"/>
<text x="347.80" y="16.70" font-size="4.6" text-anchor="end" font-weight="normal" fill="#444" stroke="#444" stroke-width="0.1" text-rendering="auto" >60</text>
<line x1="348.59999999999997" y1="48.15" x2="350.4" y2="48.15" stroke="#333" stroke-width="0.7"/>
<text x="347.80" y="50.25" font-size="4.6" text-anchor="end" font-weight="normal" fill="#444" stroke="#444" stroke-width="0.1" text-rendering="auto" >30</text>
<line x1="348.59999999999997" y1="81.70" x2="350.4" y2="81.70" stroke="#333" stroke-width="0.7"/>
<text x="347.80" y="83.80" font-size="4.6" text-anchor="end" font-weight="normal" fill="#444" stroke="#444" stroke-width="0.1" text-rendering="auto" >0</text>
<line x1="348.59999999999997" y1="115.25" x2="350.4" y2="115.25" stroke="#333" stroke-width="0.7"/>
<text x="347.80" y="117.35" font-size="4.6" text-anchor="end" font-weight="normal" fill="#444" stroke="#444" stroke-width="0.1" text-rendering="auto" >&#8722;30</text>
<line x1="348.59999999999997" y1="148.80" x2="350.4" y2="148.80" stroke="#333" stroke-width="0.7"/>
<text x="347.80" y="150.90" font-size="4.6" text-anchor="end" font-weight="normal" fill="#444" stroke="#444" stroke-width="0.1" text-rendering="auto" >&#8722;60</text>
<line x1="352.20" y1="148.8" x2="352.20" y2="150.4" stroke="#333" stroke-width="0.7"/>
<text x="352.20" y="155.00" font-size="4.6" text-anchor="middle" font-weight="normal" fill="#444" stroke="#444" stroke-width="0.1" text-rendering="auto" >&#8722;60</text>
<line x1="386.30" y1="148.8" x2="386.30" y2="150.4" stroke="#333" stroke-width="0.7"/>
<text x="386.30" y="155.00" font-size="4.6" text-anchor="middle" font-weight="normal" fill="#444" stroke="#444" stroke-width="0.1" text-rendering="auto" >&#8722;30</text>
<line x1="420.40" y1="148.8" x2="420.40" y2="150.4" stroke="#333" stroke-width="0.7"/>
<text x="420.40" y="155.00" font-size="4.6" text-anchor="middle" font-weight="normal" fill="#444" stroke="#444" stroke-width="0.1" text-rendering="auto" >0</text>
<line x1="454.50" y1="148.8" x2="454.50" y2="150.4" stroke="#333" stroke-width="0.7"/>
<text x="454.50" y="155.00" font-size="4.6" text-anchor="middle" font-weight="normal" fill="#444" stroke="#444" stroke-width="0.1" text-rendering="auto" >30</text>
<text x="419.30" y="161.20" font-size="5.25" text-anchor="middle" font-weight="normal" fill="#000" stroke="#000" stroke-width="0.15" text-rendering="auto" >tSNE 1</text>
<text x="338.00" y="77.80" font-size="5.25" text-anchor="middle" font-weight="normal" fill="#000" stroke="#000" stroke-width="0.15" text-rendering="auto" transform="rotate(-90 338.0 77.8)">tSNE 2</text>
<text x="497.20" y="70.20" font-size="5.6" text-anchor="start" font-weight="normal" fill="#000" stroke="#000" stroke-width="0.15" text-rendering="auto" >Type</text>
<circle cx="500.8" cy="76.9" r="1.1" fill="#F8766D"/>
<circle cx="500.8" cy="85.6" r="1.1" fill="#00BFC4"/>
<text x="508.10" y="76.60" font-size="4.45" text-anchor="start" font-weight="normal" fill="#000" stroke="#000" stroke-width="0.12" text-rendering="auto" >Infiltrating duct</text>
<text x="508.10" y="81.40" font-size="4.45" text-anchor="start" font-weight="normal" fill="#000" stroke="#000" stroke-width="0.12" text-rendering="auto" xml:space="preserve"> carcinoma</text>
<text x="508.10" y="87.20" font-size="4.45" text-anchor="start" font-weight="normal" fill="#000" stroke="#000" stroke-width="0.12" text-rendering="auto" >Malignant</text>
<text x="508.10" y="93.00" font-size="4.45" text-anchor="start" font-weight="normal" fill="#000" stroke="#000" stroke-width="0.12" text-rendering="auto" >phyllodes tumor</text>
<text x="333.60" y="180.20" font-size="6.1" text-anchor="start" font-weight="bold" fill="#000" stroke="#000" stroke-width="0.15" text-rendering="geometricPrecision" >C</text>
<text x="341.20" y="179.80" font-size="5.93" text-anchor="start" font-weight="bold" fill="#000" stroke="#000" stroke-width="0.05" text-rendering="auto" >Kaplan&#8722;Meier Survival Curves Showing Overall Survival</text>
<text x="344.20" y="186.50" font-size="5.93" text-anchor="start" font-weight="bold" fill="#000" stroke="#000" stroke-width="0.05" text-rendering="auto" >Stratified By AJCC Stage In Invasive Ductal Carcinoma</text>
<rect x="356.2" y="275.10" width="96.40" height="7.90" fill="#cccccc"/>
<rect x="356.2" y="283.00" width="96.40" height="9.90" fill="#f2f2f2"/>
<rect x="356.2" y="292.90" width="96.40" height="8.80" fill="#e5e5e5"/>
<rect x="356.2" y="301.70" width="96.40" height="8.70" fill="#f2f2f2"/>
<line x1="356.2" y1="283.00" x2="452.6" y2="283.00" stroke="#fff" stroke-width="0.6"/>
<line x1="356.2" y1="292.90" x2="452.6" y2="292.90" stroke="#fff" stroke-width="0.6"/>
<line x1="356.2" y1="301.70" x2="452.6" y2="301.70" stroke="#fff" stroke-width="0.6"/>
<line x1="429.6" y1="275.10" x2="429.6" y2="310.40" stroke="#fff" stroke-width="0.8"/>
<text x="392.90" y="280.80" font-size="4.95" text-anchor="middle" font-weight="bold" fill="#000" stroke="#000" stroke-width="0.05" text-rendering="auto" >Group</text>
<text x="441.40" y="280.80" font-size="4.95" text-anchor="middle" font-weight="bold" fill="#000" stroke="#000" stroke-width="0.05" text-rendering="auto" >pvalue</text>
<text x="359.00" y="289.90" font-size="4.95" text-anchor="start" font-weight="normal" fill="#1a1a1a" stroke="#1a1a1a" stroke-width="0.1" text-rendering="auto" >AJCC Stage1 vs AJCC Stage2</text>
<text x="441.30" y="289.90" font-size="4.95" text-anchor="middle" font-weight="normal" fill="#1a1a1a" stroke="#1a1a1a" stroke-width="0.1" text-rendering="auto" >p&lt;0.001</text>
<text x="359.00" y="298.70" font-size="4.95" text-anchor="start" font-weight="normal" fill="#1a1a1a" stroke="#1a1a1a" stroke-width="0.1" text-rendering="auto" >AJCC Stage1 vs AJCC Stage3</text>
<text x="441.30" y="298.70" font-size="4.95" text-anchor="middle" font-weight="normal" fill="#1a1a1a" stroke="#1a1a1a" stroke-width="0.1" text-rendering="auto" >p&lt;0.001</text>
<text x="359.00" y="307.80" font-size="4.95" text-anchor="start" font-weight="normal" fill="#1a1a1a" stroke="#1a1a1a" stroke-width="0.1" text-rendering="auto" >AJCC Stage2 vs AJCC Stage3</text>
<text x="441.30" y="307.80" font-size="4.95" text-anchor="middle" font-weight="normal" fill="#1a1a1a" stroke="#1a1a1a" stroke-width="0.1" text-rendering="auto" >p&lt;0.001</text>
<polyline points="355.80,195.10 356.72,195.29 357.96,195.54 359.45,195.85 361.11,196.20 362.89,196.59 364.70,197.00 366.61,197.46 368.68,197.97 370.86,198.52 373.10,199.09 375.33,199.65 377.50,200.20 379.70,200.75 382.00,201.33 384.29,201.91 386.48,202.46 388.48,202.97 390.20,203.40 391.55,203.74 392.60,204.01 393.46,204.22 394.24,204.43 395.05,204.64 396.00,204.90 397.09,205.21 398.21,205.54 399.38,205.89 400.55,206.24 401.73,206.58 402.90,206.90 404.08,207.20 405.27,207.49 406.48,207.76 407.66,208.04 408.81,208.31 409.90,208.60 410.90,208.88 411.80,209.16 412.67,209.43 413.56,209.72 414.52,210.04 415.60,210.40 416.76,210.79 417.94,211.19 419.19,211.61 420.55,212.08 422.07,212.61 423.80,213.20 425.86,213.91 428.24,214.73 430.79,215.60 433.32,216.47 435.68,217.29 437.70,218.00 439.35,218.58 440.74,219.09 441.97,219.54 443.09,219.96 444.18,220.37 445.30,220.80 446.33,221.21 447.17,221.56 447.98,221.90 448.91,222.29 450.10,222.77 451.70,223.40 453.80,224.21 456.30,225.19 459.06,226.25 461.95,227.35 464.84,228.42 467.60,229.40 470.36,230.32 473.26,231.24 476.15,232.13 478.91,232.97 481.41,233.73 483.50,234.40 485.18,234.97 486.54,235.45 487.64,235.86 488.52,236.20 489.23,236.48 489.80,236.70" fill="none" stroke="#0f4c9c" stroke-width="2.4" stroke-linejoin="round"/>
<polyline points="355.80,195.10 356.80,195.52 358.20,196.11 359.85,196.80 361.59,197.54 363.26,198.26 364.70,198.90 365.91,199.47 367.02,200.01 368.06,200.54 369.06,201.06 370.06,201.57 371.10,202.10 372.17,202.63 373.24,203.17 374.31,203.70 375.37,204.23 376.44,204.77 377.50,205.30 378.55,205.84 379.60,206.39 380.65,206.94 381.70,207.49 382.75,208.01 383.80,208.50 384.87,208.96 385.95,209.40 387.03,209.81 388.11,210.21 389.17,210.61 390.20,211.00 391.19,211.38 392.14,211.74 393.07,212.09 394.01,212.45 394.98,212.81 396.00,213.20 397.09,213.61 398.21,214.04 399.38,214.48 400.55,214.93 401.73,215.37 402.90,215.80 404.08,216.22 405.27,216.63 406.48,217.04 407.66,217.46 408.81,217.87 409.90,218.30 410.90,218.73 411.80,219.16 412.67,219.60 413.56,220.05 414.52,220.51 415.60,221.00 416.76,221.48 417.94,221.95 419.19,222.43 420.55,222.96 422.07,223.58 423.80,224.30 425.86,225.21 428.24,226.28 430.79,227.44 433.32,228.59 435.68,229.64 437.70,230.50 439.35,231.16 440.74,231.68 441.97,232.10 443.09,232.47 444.18,232.82 445.30,233.20 446.33,233.56 447.17,233.86 447.98,234.14 448.91,234.46 450.10,234.86 451.70,235.40 453.80,236.10 456.30,236.94 459.06,237.86 461.95,238.82 464.84,239.78 467.60,240.70 470.36,241.62 473.26,242.58 476.15,243.54 478.91,244.46 481.41,245.30 483.50,246.00 485.18,246.57 486.54,247.04 487.64,247.43 488.52,247.74 489.23,248.00 489.80,248.20" fill="none" stroke="#c0121f" stroke-width="2.4" stroke-linejoin="round"/>
<polyline points="355.80,195.10 356.21,195.23 356.78,195.39 357.46,195.59 358.19,195.83 358.92,196.10 359.60,196.40 360.26,196.75 360.94,197.14 361.63,197.57 362.30,198.01 362.93,198.46 363.50,198.90 364.00,199.31 364.44,199.71 364.84,200.12 365.22,200.54 365.60,201.00 366.00,201.50 366.42,202.06 366.83,202.68 367.24,203.32 367.66,203.99 368.08,204.65 368.50,205.30 368.93,205.93 369.36,206.57 369.80,207.20 370.24,207.83 370.67,208.47 371.10,209.10 371.51,209.72 371.89,210.32 372.27,210.92 372.67,211.54 373.10,212.19 373.60,212.90 374.17,213.68 374.80,214.53 375.47,215.41 376.16,216.30 376.84,217.17 377.50,218.00 378.14,218.79 378.77,219.55 379.41,220.29 380.04,221.03 380.67,221.76 381.30,222.50 381.92,223.23 382.52,223.95 383.12,224.66 383.74,225.39 384.39,226.13 385.10,226.90 385.86,227.71 386.67,228.56 387.51,229.43 388.38,230.30 389.28,231.16 390.20,232.00 391.15,232.82 392.14,233.62 393.16,234.41 394.19,235.20 395.24,236.00 396.30,236.80 397.37,237.61 398.45,238.43 399.54,239.25 400.65,240.07 401.77,240.89 402.90,241.70 404.04,242.51 405.21,243.33 406.38,244.14 407.56,244.95 408.73,245.74 409.90,246.50 411.05,247.24 412.20,247.96 413.35,248.67 414.50,249.36 415.65,250.04 416.80,250.70 417.96,251.34 419.13,251.96 420.30,252.57 421.47,253.17 422.64,253.78 423.80,254.40 424.95,255.05 426.10,255.71 427.25,256.39 428.40,257.05 429.55,257.69 430.70,258.30 431.85,258.86 433.00,259.39 434.16,259.89 435.32,260.39 436.50,260.89 437.70,261.40 438.95,261.94 440.23,262.49 441.54,263.05 442.83,263.60 444.10,264.12 445.30,264.60 446.42,265.03 447.46,265.41 448.48,265.77 449.49,266.12 450.55,266.49 451.70,266.90 452.94,267.35 454.25,267.83 455.61,268.32 456.98,268.83 458.35,269.32 459.70,269.80 461.02,270.27 462.34,270.73 463.65,271.19 464.96,271.64 466.28,272.08 467.60,272.50 468.93,272.91 470.26,273.29 471.60,273.67 472.94,274.04 474.27,274.42 475.60,274.80 476.94,275.19 478.30,275.59 479.66,275.99 480.99,276.40 482.28,276.80 483.50,277.20 484.72,277.63 485.95,278.09 487.14,278.55 488.23,278.98 489.13,279.34 489.80,279.60" fill="none" stroke="#ec7434" stroke-width="2.4" stroke-linejoin="round"/>
<line x1="350.5" y1="190.6" x2="491.8" y2="190.6" stroke="#8a8a8a" stroke-width="0.9"/>
<line x1="491.8" y1="190.6" x2="491.8" y2="318.2" stroke="#8a8a8a" stroke-width="0.9"/>
<line x1="350.5" y1="190.6" x2="350.5" y2="318.2" stroke="#222" stroke-width="1"/>
<line x1="350.0" y1="318.2" x2="491.8" y2="318.2" stroke="#222" stroke-width="1"/>
<line x1="348.9" y1="196.10" x2="350.5" y2="196.10" stroke="#222" stroke-width="0.7"/>
<text x="347.70" y="197.70" font-size="4.6" text-anchor="end" font-weight="normal" fill="#333" stroke="#333" stroke-width="0.1" text-rendering="auto" >100</text>
<line x1="348.9" y1="227.25" x2="350.5" y2="227.25" stroke="#222" stroke-width="0.7"/>
<text x="347.70" y="228.85" font-size="4.6" text-anchor="end" font-weight="normal" fill="#333" stroke="#333" stroke-width="0.1" text-rendering="auto" >80</text>
<line x1="348.9" y1="258.40" x2="350.5" y2="258.40" stroke="#222" stroke-width="0.7"/>
<text x="347.70" y="260.00" font-size="4.6" text-anchor="end" font-weight="normal" fill="#333" stroke="#333" stroke-width="0.1" text-rendering="auto" >60</text>
<line x1="348.9" y1="289.55" x2="350.5" y2="289.55" stroke="#222" stroke-width="0.7"/>
<text x="347.70" y="291.15" font-size="4.6" text-anchor="end" font-weight="normal" fill="#333" stroke="#333" stroke-width="0.1" text-rendering="auto" >40</text>
<line x1="356.45" y1="318.2" x2="356.45" y2="319.59999999999997" stroke="#222" stroke-width="0.7"/>
<text x="356.45" y="324.70" font-size="4.6" text-anchor="middle" font-weight="normal" fill="#333" stroke="#333" stroke-width="0.1" text-rendering="auto" >0</text>
<line x1="366.73" y1="318.2" x2="366.73" y2="319.59999999999997" stroke="#222" stroke-width="0.7"/>
<text x="366.73" y="324.70" font-size="4.6" text-anchor="middle" font-weight="normal" fill="#333" stroke="#333" stroke-width="0.1" text-rendering="auto" >1</text>
<line x1="377.01" y1="318.2" x2="377.01" y2="319.59999999999997" stroke="#222" stroke-width="0.7"/>
<text x="377.01" y="324.70" font-size="4.6" text-anchor="middle" font-weight="normal" fill="#333" stroke="#333" stroke-width="0.1" text-rendering="auto" >2</text>
<line x1="387.29" y1="318.2" x2="387.29" y2="319.59999999999997" stroke="#222" stroke-width="0.7"/>
<text x="387.29" y="324.70" font-size="4.6" text-anchor="middle" font-weight="normal" fill="#333" stroke="#333" stroke-width="0.1" text-rendering="auto" >3</text>
<line x1="397.57" y1="318.2" x2="397.57" y2="319.59999999999997" stroke="#222" stroke-width="0.7"/>
<text x="397.57" y="324.70" font-size="4.6" text-anchor="middle" font-weight="normal" fill="#333" stroke="#333" stroke-width="0.1" text-rendering="auto" >4</text>
<line x1="407.85" y1="318.2" x2="407.85" y2="319.59999999999997" stroke="#222" stroke-width="0.7"/>
<text x="407.85" y="324.70" font-size="4.6" text-anchor="middle" font-weight="normal" fill="#333" stroke="#333" stroke-width="0.1" text-rendering="auto" >5</text>
<line x1="418.13" y1="318.2" x2="418.13" y2="319.59999999999997" stroke="#222" stroke-width="0.7"/>
<text x="418.13" y="324.70" font-size="4.6" text-anchor="middle" font-weight="normal" fill="#333" stroke="#333" stroke-width="0.1" text-rendering="auto" >6</text>
<line x1="428.41" y1="318.2" x2="428.41" y2="319.59999999999997" stroke="#222" stroke-width="0.7"/>
<text x="428.41" y="324.70" font-size="4.6" text-anchor="middle" font-weight="normal" fill="#333" stroke="#333" stroke-width="0.1" text-rendering="auto" >7</text>
<line x1="438.69" y1="318.2" x2="438.69" y2="319.59999999999997" stroke="#222" stroke-width="0.7"/>
<text x="438.69" y="324.70" font-size="4.6" text-anchor="middle" font-weight="normal" fill="#333" stroke="#333" stroke-width="0.1" text-rendering="auto" >8</text>
<line x1="448.97" y1="318.2" x2="448.97" y2="319.59999999999997" stroke="#222" stroke-width="0.7"/>
<text x="448.97" y="324.70" font-size="4.6" text-anchor="middle" font-weight="normal" fill="#333" stroke="#333" stroke-width="0.1" text-rendering="auto" >9</text>
<line x1="459.25" y1="318.2" x2="459.25" y2="319.59999999999997" stroke="#222" stroke-width="0.7"/>
<text x="459.25" y="324.70" font-size="4.6" text-anchor="middle" font-weight="normal" fill="#333" stroke="#333" stroke-width="0.1" text-rendering="auto" >10</text>
<line x1="469.53" y1="318.2" x2="469.53" y2="319.59999999999997" stroke="#222" stroke-width="0.7"/>
<text x="469.53" y="324.70" font-size="4.6" text-anchor="middle" font-weight="normal" fill="#333" stroke="#333" stroke-width="0.1" text-rendering="auto" >11</text>
<line x1="479.81" y1="318.2" x2="479.81" y2="319.59999999999997" stroke="#222" stroke-width="0.7"/>
<text x="479.81" y="324.70" font-size="4.6" text-anchor="middle" font-weight="normal" fill="#333" stroke="#333" stroke-width="0.1" text-rendering="auto" >12</text>
<text x="421.85" y="330.50" font-size="5.45" text-anchor="middle" font-weight="normal" fill="#000" stroke="#000" stroke-width="0.15" text-rendering="auto" >Time (Years)</text>
<text x="337.30" y="250.70" font-size="4.97" text-anchor="middle" font-weight="normal" fill="#000" stroke="#000" stroke-width="0.15" text-rendering="auto" transform="rotate(-90 337.3 250.7)">Survival probability (%)</text>
<text x="503.10" y="237.10" font-size="5.45" text-anchor="start" font-weight="normal" fill="#000" stroke="#000" stroke-width="0.15" text-rendering="auto" >AJCC Stage</text>
<line x1="503.70000000000005" y1="244.60" x2="510.8" y2="244.60" stroke="#0f4c9c" stroke-width="1.7"/>
<line x1="507.25" y1="242.60" x2="507.25" y2="244.60" stroke="#0f4c9c" stroke-width="0.7"/>
<text x="514.00" y="246.20" font-size="4.47" text-anchor="start" font-weight="normal" fill="#000" stroke="#000" stroke-width="0.1" text-rendering="auto" >AJCC Stage 1</text>
<line x1="503.70000000000005" y1="252.70" x2="510.8" y2="252.70" stroke="#c0121f" stroke-width="1.7"/>
<line x1="507.25" y1="250.70" x2="507.25" y2="252.70" stroke="#c0121f" stroke-width="0.7"/>
<text x="514.00" y="254.30" font-size="4.47" text-anchor="start" font-weight="normal" fill="#000" stroke="#000" stroke-width="0.1" text-rendering="auto" >AJCC Stage 2</text>
<line x1="503.70000000000005" y1="261.60" x2="510.8" y2="261.60" stroke="#ec7434" stroke-width="1.7"/>
<line x1="507.25" y1="259.60" x2="507.25" y2="261.60" stroke="#ec7434" stroke-width="0.7"/>
<text x="514.00" y="263.20" font-size="4.47" text-anchor="start" font-weight="normal" fill="#000" stroke="#000" stroke-width="0.1" text-rendering="auto" >AJCC Stage 3</text>
<text x="333.60" y="349.70" font-size="6.1" text-anchor="start" font-weight="bold" fill="#000" stroke="#000" stroke-width="0.15" text-rendering="geometricPrecision" >D</text>
<text x="341.20" y="349.30" font-size="5.93" text-anchor="start" font-weight="bold" fill="#000" stroke="#000" stroke-width="0.05" text-rendering="auto" >Kaplan&#8722;Meier Survival Curves Showing Overall Survival</text>
<text x="358.20" y="356.00" font-size="5.93" text-anchor="start" font-weight="bold" fill="#000" stroke="#000" stroke-width="0.05" text-rendering="auto" >Stratified By AJCC Stage In Malignant Phyllodes Tumor</text>
<rect x="356.2" y="446.20" width="96.40" height="7.90" fill="#cccccc"/>
<rect x="356.2" y="454.10" width="96.40" height="9.90" fill="#f2f2f2"/>
<rect x="356.2" y="464.00" width="96.40" height="8.80" fill="#e5e5e5"/>
<rect x="356.2" y="472.80" width="96.40" height="8.70" fill="#f2f2f2"/>
<line x1="356.2" y1="454.10" x2="452.6" y2="454.10" stroke="#fff" stroke-width="0.6"/>
<line x1="356.2" y1="464.00" x2="452.6" y2="464.00" stroke="#fff" stroke-width="0.6"/>
<line x1="356.2" y1="472.80" x2="452.6" y2="472.80" stroke="#fff" stroke-width="0.6"/>
<line x1="429.6" y1="446.20" x2="429.6" y2="481.50" stroke="#fff" stroke-width="0.8"/>
<text x="392.90" y="451.90" font-size="4.95" text-anchor="middle" font-weight="bold" fill="#000" stroke="#000" stroke-width="0.05" text-rendering="auto" >Group</text>
<text x="441.40" y="451.90" font-size="4.95" text-anchor="middle" font-weight="bold" fill="#000" stroke="#000" stroke-width="0.05" text-rendering="auto" >pvalue</text>
<text x="359.00" y="461.00" font-size="4.95" text-anchor="start" font-weight="normal" fill="#1a1a1a" stroke="#1a1a1a" stroke-width="0.1" text-rendering="auto" >AJCC Stage1 vs AJCC Stage2</text>
<text x="441.30" y="461.00" font-size="4.95" text-anchor="middle" font-weight="normal" fill="#1a1a1a" stroke="#1a1a1a" stroke-width="0.1" text-rendering="auto" >0.043</text>
<text x="359.00" y="469.80" font-size="4.95" text-anchor="start" font-weight="normal" fill="#1a1a1a" stroke="#1a1a1a" stroke-width="0.1" text-rendering="auto" >AJCC Stage1 vs AJCC Stage3</text>
<text x="441.30" y="469.80" font-size="4.95" text-anchor="middle" font-weight="normal" fill="#1a1a1a" stroke="#1a1a1a" stroke-width="0.1" text-rendering="auto" >p&lt;0.001</text>
<text x="359.00" y="478.90" font-size="4.95" text-anchor="start" font-weight="normal" fill="#1a1a1a" stroke="#1a1a1a" stroke-width="0.1" text-rendering="auto" >AJCC Stage2 vs AJCC Stage3</text>
<text x="441.30" y="478.90" font-size="4.95" text-anchor="middle" font-weight="normal" fill="#1a1a1a" stroke="#1a1a1a" stroke-width="0.1" text-rendering="auto" >p&lt;0.001</text>
<polyline points="356.40,364.90 362.50,364.90 362.50,365.60 364.70,365.60 364.70,366.00 367.50,366.00 367.50,366.80 370.50,366.80 370.50,367.40 373.00,367.40 373.00,368.30 375.00,368.30 375.00,369.50 392.50,369.50 392.50,370.20 401.40,370.20 401.40,372.50 408.20,372.50 408.20,374.30 413.60,374.30 413.60,376.10 427.30,376.10 427.30,378.70 447.90,378.70 447.90,381.70 451.30,381.70 451.30,386.50 490.00,386.50" fill="none" stroke="#0f4c9c" stroke-width="2.1" stroke-linejoin="round"/>
<line x1="455.00" y1="384.60" x2="455.00" y2="386.50" stroke="#0f4c9c" stroke-width="0.7"/>
<line x1="459.00" y1="384.60" x2="459.00" y2="386.50" stroke="#0f4c9c" stroke-width="0.7"/>
<line x1="462.00" y1="384.60" x2="462.00" y2="386.50" stroke="#0f4c9c" stroke-width="0.7"/>
<line x1="467.00" y1="384.60" x2="467.00" y2="386.50" stroke="#0f4c9c" stroke-width="0.7"/>
<line x1="469.00" y1="384.60" x2="469.00" y2="386.50" stroke="#0f4c9c" stroke-width="0.7"/>
<line x1="472.00" y1="384.60" x2="472.00" y2="386.50" stroke="#0f4c9c" stroke-width="0.7"/>
<line x1="475.00" y1="384.60" x2="475.00" y2="386.50" stroke="#0f4c9c" stroke-width="0.7"/>
<line x1="477.00" y1="384.60" x2="477.00" y2="386.50" stroke="#0f4c9c" stroke-width="0.7"/>
<line x1="479.00" y1="384.60" x2="479.00" y2="386.50" stroke="#0f4c9c" stroke-width="0.7"/>
<line x1="481.00" y1="384.60" x2="481.00" y2="386.50" stroke="#0f4c9c" stroke-width="0.7"/>
<line x1="483.00" y1="384.60" x2="483.00" y2="386.50" stroke="#0f4c9c" stroke-width="0.7"/>
<line x1="485.00" y1="384.60" x2="485.00" y2="386.50" stroke="#0f4c9c" stroke-width="0.7"/>
<line x1="487.00" y1="384.60" x2="487.00" y2="386.50" stroke="#0f4c9c" stroke-width="0.7"/>
<line x1="489.00" y1="384.60" x2="489.00" y2="386.50" stroke="#0f4c9c" stroke-width="0.7"/>
<line x1="430.00" y1="376.80" x2="430.00" y2="378.70" stroke="#0f4c9c" stroke-width="0.7"/>
<line x1="433.00" y1="376.80" x2="433.00" y2="378.70" stroke="#0f4c9c" stroke-width="0.7"/>
<line x1="437.00" y1="376.80" x2="437.00" y2="378.70" stroke="#0f4c9c" stroke-width="0.7"/>
<line x1="441.00" y1="376.80" x2="441.00" y2="378.70" stroke="#0f4c9c" stroke-width="0.7"/>
<line x1="444.00" y1="376.80" x2="444.00" y2="378.70" stroke="#0f4c9c" stroke-width="0.7"/>
<line x1="416.00" y1="374.20" x2="416.00" y2="376.10" stroke="#0f4c9c" stroke-width="0.7"/>
<line x1="419.00" y1="374.20" x2="419.00" y2="376.10" stroke="#0f4c9c" stroke-width="0.7"/>
<line x1="422.00" y1="374.20" x2="422.00" y2="376.10" stroke="#0f4c9c" stroke-width="0.7"/>
<line x1="425.00" y1="374.20" x2="425.00" y2="376.10" stroke="#0f4c9c" stroke-width="0.7"/>
<line x1="403.00" y1="370.60" x2="403.00" y2="372.50" stroke="#0f4c9c" stroke-width="0.7"/>
<line x1="405.00" y1="370.60" x2="405.00" y2="372.50" stroke="#0f4c9c" stroke-width="0.7"/>
<line x1="394.00" y1="368.30" x2="394.00" y2="370.20" stroke="#0f4c9c" stroke-width="0.7"/>
<line x1="397.00" y1="368.30" x2="397.00" y2="370.20" stroke="#0f4c9c" stroke-width="0.7"/>
<line x1="399.00" y1="368.30" x2="399.00" y2="370.20" stroke="#0f4c9c" stroke-width="0.7"/>
<line x1="377.00" y1="367.60" x2="377.00" y2="369.50" stroke="#0f4c9c" stroke-width="0.7"/>
<line x1="380.00" y1="367.60" x2="380.00" y2="369.50" stroke="#0f4c9c" stroke-width="0.7"/>
<line x1="383.00" y1="367.60" x2="383.00" y2="369.50" stroke="#0f4c9c" stroke-width="0.7"/>
<line x1="386.00" y1="367.60" x2="386.00" y2="369.50" stroke="#0f4c9c" stroke-width="0.7"/>
<line x1="389.00" y1="367.60" x2="389.00" y2="369.50" stroke="#0f4c9c" stroke-width="0.7"/>
<polyline points="356.00,364.90 359.90,365.60 362.30,367.10 364.70,369.10 367.10,370.70 369.50,371.50 372.60,373.10 375.00,375.50 378.20,376.70 382.20,378.30 386.10,379.80 390.00,381.10 394.50,382.50 399.10,384.30 403.60,385.20 408.20,386.10 412.70,387.50 417.30,388.40 421.80,388.80 426.40,390.20 430.90,390.90 435.50,391.30 440.00,391.60 445.90,392.00 445.90,393.70 458.20,393.70 458.20,395.00 466.50,395.00 466.50,396.40 490.00,396.40" fill="none" stroke="#c0121f" stroke-width="2.2" stroke-linejoin="round"/>
<line x1="468.00" y1="394.50" x2="468.00" y2="396.40" stroke="#c0121f" stroke-width="0.7"/>
<line x1="470.00" y1="394.50" x2="470.00" y2="396.40" stroke="#c0121f" stroke-width="0.7"/>
<line x1="472.00" y1="394.50" x2="472.00" y2="396.40" stroke="#c0121f" stroke-width="0.7"/>
<line x1="474.00" y1="394.50" x2="474.00" y2="396.40" stroke="#c0121f" stroke-width="0.7"/>
<line x1="476.00" y1="394.50" x2="476.00" y2="396.40" stroke="#c0121f" stroke-width="0.7"/>
<line x1="478.00" y1="394.50" x2="478.00" y2="396.40" stroke="#c0121f" stroke-width="0.7"/>
<line x1="480.00" y1="394.50" x2="480.00" y2="396.40" stroke="#c0121f" stroke-width="0.7"/>
<line x1="482.00" y1="394.50" x2="482.00" y2="396.40" stroke="#c0121f" stroke-width="0.7"/>
<line x1="484.00" y1="394.50" x2="484.00" y2="396.40" stroke="#c0121f" stroke-width="0.7"/>
<line x1="486.00" y1="394.50" x2="486.00" y2="396.40" stroke="#c0121f" stroke-width="0.7"/>
<line x1="488.00" y1="394.50" x2="488.00" y2="396.40" stroke="#c0121f" stroke-width="0.7"/>
<line x1="459.00" y1="393.10" x2="459.00" y2="395.00" stroke="#c0121f" stroke-width="0.7"/>
<line x1="461.00" y1="393.10" x2="461.00" y2="395.00" stroke="#c0121f" stroke-width="0.7"/>
<line x1="463.00" y1="393.10" x2="463.00" y2="395.00" stroke="#c0121f" stroke-width="0.7"/>
<line x1="465.00" y1="393.10" x2="465.00" y2="395.00" stroke="#c0121f" stroke-width="0.7"/>
<line x1="447.00" y1="391.80" x2="447.00" y2="393.70" stroke="#c0121f" stroke-width="0.7"/>
<line x1="449.00" y1="391.80" x2="449.00" y2="393.70" stroke="#c0121f" stroke-width="0.7"/>
<line x1="451.00" y1="391.80" x2="451.00" y2="393.70" stroke="#c0121f" stroke-width="0.7"/>
<line x1="453.00" y1="391.80" x2="453.00" y2="393.70" stroke="#c0121f" stroke-width="0.7"/>
<line x1="455.00" y1="391.80" x2="455.00" y2="393.70" stroke="#c0121f" stroke-width="0.7"/>
<line x1="457.00" y1="391.80" x2="457.00" y2="393.70" stroke="#c0121f" stroke-width="0.7"/>
<polyline points="356.40,364.90 357.60,364.90 357.60,365.60 359.50,365.60 359.50,378.30 360.70,378.30 360.70,379.00 361.50,379.00 361.50,380.60 362.30,380.60 362.30,383.00 363.10,383.00 363.10,384.60 363.90,384.60 363.90,387.80 364.30,387.80 364.30,392.50 365.10,392.50 365.10,395.20 367.70,395.20 367.70,397.90 369.30,397.90 369.30,400.90 373.70,400.90 373.70,406.50 376.90,406.50 376.90,409.40 380.60,409.40 380.60,411.40 383.80,411.40 383.80,414.90 386.60,414.90 386.60,420.00 389.30,420.00 389.30,421.70 390.50,421.70 390.50,423.30 391.30,423.30 391.30,424.90 436.50,424.90 436.50,433.30 487.80,433.30" fill="none" stroke="#ec7434" stroke-width="1.35" stroke-linejoin="round"/>
<line x1="393.70" y1="423.00" x2="393.70" y2="424.90" stroke="#ec7434" stroke-width="0.7"/>
<line x1="395.60" y1="423.00" x2="395.60" y2="424.90" stroke="#ec7434" stroke-width="0.7"/>
<line x1="397.50" y1="423.00" x2="397.50" y2="424.90" stroke="#ec7434" stroke-width="0.7"/>
<line x1="401.20" y1="423.00" x2="401.20" y2="424.90" stroke="#ec7434" stroke-width="0.7"/>
<line x1="404.10" y1="423.00" x2="404.10" y2="424.90" stroke="#ec7434" stroke-width="0.7"/>
<line x1="406.90" y1="423.00" x2="406.90" y2="424.90" stroke="#ec7434" stroke-width="0.7"/>
<line x1="408.80" y1="423.00" x2="408.80" y2="424.90" stroke="#ec7434" stroke-width="0.7"/>
<line x1="411.60" y1="423.00" x2="411.60" y2="424.90" stroke="#ec7434" stroke-width="0.7"/>
<line x1="414.50" y1="423.00" x2="414.50" y2="424.90" stroke="#ec7434" stroke-width="0.7"/>
<line x1="416.40" y1="423.00" x2="416.40" y2="424.90" stroke="#ec7434" stroke-width="0.7"/>
<line x1="418.20" y1="423.00" x2="418.20" y2="424.90" stroke="#ec7434" stroke-width="0.7"/>
<line x1="421.10" y1="423.00" x2="421.10" y2="424.90" stroke="#ec7434" stroke-width="0.7"/>
<line x1="427.70" y1="423.00" x2="427.70" y2="424.90" stroke="#ec7434" stroke-width="0.7"/>
<line x1="456.00" y1="431.40" x2="456.00" y2="433.30" stroke="#ec7434" stroke-width="0.7"/>
<line x1="462.70" y1="431.40" x2="462.70" y2="433.30" stroke="#ec7434" stroke-width="0.7"/>
<line x1="465.50" y1="431.40" x2="465.50" y2="433.30" stroke="#ec7434" stroke-width="0.7"/>
<line x1="468.30" y1="431.40" x2="468.30" y2="433.30" stroke="#ec7434" stroke-width="0.7"/>
<line x1="478.70" y1="431.40" x2="478.70" y2="433.30" stroke="#ec7434" stroke-width="0.7"/>
<line x1="480.60" y1="431.40" x2="480.60" y2="433.30" stroke="#ec7434" stroke-width="0.7"/>
<line x1="486.30" y1="431.40" x2="486.30" y2="433.30" stroke="#ec7434" stroke-width="0.7"/>
<line x1="350.5" y1="360.1" x2="491.8" y2="360.1" stroke="#8a8a8a" stroke-width="0.9"/>
<line x1="491.8" y1="360.1" x2="491.8" y2="487.7" stroke="#8a8a8a" stroke-width="0.9"/>
<line x1="350.5" y1="360.1" x2="350.5" y2="487.7" stroke="#222" stroke-width="1"/>
<line x1="350.0" y1="487.7" x2="491.8" y2="487.7" stroke="#222" stroke-width="1"/>
<line x1="348.9" y1="365.60" x2="350.5" y2="365.60" stroke="#222" stroke-width="0.7"/>
<text x="347.70" y="367.20" font-size="4.6" text-anchor="end" font-weight="normal" fill="#333" stroke="#333" stroke-width="0.1" text-rendering="auto" >100</text>
<line x1="348.9" y1="396.75" x2="350.5" y2="396.75" stroke="#222" stroke-width="0.7"/>
<text x="347.70" y="398.35" font-size="4.6" text-anchor="end" font-weight="normal" fill="#333" stroke="#333" stroke-width="0.1" text-rendering="auto" >80</text>
<line x1="348.9" y1="427.90" x2="350.5" y2="427.90" stroke="#222" stroke-width="0.7"/>
<text x="347.70" y="429.50" font-size="4.6" text-anchor="end" font-weight="normal" fill="#333" stroke="#333" stroke-width="0.1" text-rendering="auto" >60</text>
<line x1="348.9" y1="459.05" x2="350.5" y2="459.05" stroke="#222" stroke-width="0.7"/>
<text x="347.70" y="460.65" font-size="4.6" text-anchor="end" font-weight="normal" fill="#333" stroke="#333" stroke-width="0.1" text-rendering="auto" >40</text>
<line x1="356.45" y1="487.7" x2="356.45" y2="489.09999999999997" stroke="#222" stroke-width="0.7"/>
<text x="356.45" y="494.20" font-size="4.6" text-anchor="middle" font-weight="normal" fill="#333" stroke="#333" stroke-width="0.1" text-rendering="auto" >0</text>
<line x1="366.73" y1="487.7" x2="366.73" y2="489.09999999999997" stroke="#222" stroke-width="0.7"/>
<text x="366.73" y="494.20" font-size="4.6" text-anchor="middle" font-weight="normal" fill="#333" stroke="#333" stroke-width="0.1" text-rendering="auto" >1</text>
<line x1="377.01" y1="487.7" x2="377.01" y2="489.09999999999997" stroke="#222" stroke-width="0.7"/>
<text x="377.01" y="494.20" font-size="4.6" text-anchor="middle" font-weight="normal" fill="#333" stroke="#333" stroke-width="0.1" text-rendering="auto" >2</text>
<line x1="387.29" y1="487.7" x2="387.29" y2="489.09999999999997" stroke="#222" stroke-width="0.7"/>
<text x="387.29" y="494.20" font-size="4.6" text-anchor="middle" font-weight="normal" fill="#333" stroke="#333" stroke-width="0.1" text-rendering="auto" >3</text>
<line x1="397.57" y1="487.7" x2="397.57" y2="489.09999999999997" stroke="#222" stroke-width="0.7"/>
<text x="397.57" y="494.20" font-size="4.6" text-anchor="middle" font-weight="normal" fill="#333" stroke="#333" stroke-width="0.1" text-rendering="auto" >4</text>
<line x1="407.85" y1="487.7" x2="407.85" y2="489.09999999999997" stroke="#222" stroke-width="0.7"/>
<text x="407.85" y="494.20" font-size="4.6" text-anchor="middle" font-weight="normal" fill="#333" stroke="#333" stroke-width="0.1" text-rendering="auto" >5</text>
<line x1="418.13" y1="487.7" x2="418.13" y2="489.09999999999997" stroke="#222" stroke-width="0.7"/>
<text x="418.13" y="494.20" font-size="4.6" text-anchor="middle" font-weight="normal" fill="#333" stroke="#333" stroke-width="0.1" text-rendering="auto" >6</text>
<line x1="428.41" y1="487.7" x2="428.41" y2="489.09999999999997" stroke="#222" stroke-width="0.7"/>
<text x="428.41" y="494.20" font-size="4.6" text-anchor="middle" font-weight="normal" fill="#333" stroke="#333" stroke-width="0.1" text-rendering="auto" >7</text>
<line x1="438.69" y1="487.7" x2="438.69" y2="489.09999999999997" stroke="#222" stroke-width="0.7"/>
<text x="438.69" y="494.20" font-size="4.6" text-anchor="middle" font-weight="normal" fill="#333" stroke="#333" stroke-width="0.1" text-rendering="auto" >8</text>
<line x1="448.97" y1="487.7" x2="448.97" y2="489.09999999999997" stroke="#222" stroke-width="0.7"/>
<text x="448.97" y="494.20" font-size="4.6" text-anchor="middle" font-weight="normal" fill="#333" stroke="#333" stroke-width="0.1" text-rendering="auto" >9</text>
<line x1="459.25" y1="487.7" x2="459.25" y2="489.09999999999997" stroke="#222" stroke-width="0.7"/>
<text x="459.25" y="494.20" font-size="4.6" text-anchor="middle" font-weight="normal" fill="#333" stroke="#333" stroke-width="0.1" text-rendering="auto" >10</text>
<line x1="469.53" y1="487.7" x2="469.53" y2="489.09999999999997" stroke="#222" stroke-width="0.7"/>
<text x="469.53" y="494.20" font-size="4.6" text-anchor="middle" font-weight="normal" fill="#333" stroke="#333" stroke-width="0.1" text-rendering="auto" >11</text>
<line x1="479.81" y1="487.7" x2="479.81" y2="489.09999999999997" stroke="#222" stroke-width="0.7"/>
<text x="479.81" y="494.20" font-size="4.6" text-anchor="middle" font-weight="normal" fill="#333" stroke="#333" stroke-width="0.1" text-rendering="auto" >12</text>
<text x="421.85" y="500.00" font-size="5.45" text-anchor="middle" font-weight="normal" fill="#000" stroke="#000" stroke-width="0.15" text-rendering="auto" >Time (Years)</text>
<text x="337.30" y="420.20" font-size="4.97" text-anchor="middle" font-weight="normal" fill="#000" stroke="#000" stroke-width="0.15" text-rendering="auto" transform="rotate(-90 337.3 420.2)">Survival probability (%)</text>
<text x="500.40" y="411.90" font-size="5.45" text-anchor="start" font-weight="normal" fill="#000" stroke="#000" stroke-width="0.15" text-rendering="auto" >AJCC Stage</text>
<line x1="501.00000000000006" y1="419.40" x2="508.1" y2="419.40" stroke="#0f4c9c" stroke-width="1.7"/>
<line x1="504.55" y1="417.40" x2="504.55" y2="419.40" stroke="#0f4c9c" stroke-width="0.7"/>
<text x="511.30" y="421.00" font-size="4.47" text-anchor="start" font-weight="normal" fill="#000" stroke="#000" stroke-width="0.1" text-rendering="auto" >AJCC Stage 1</text>
<line x1="501.00000000000006" y1="427.50" x2="508.1" y2="427.50" stroke="#c0121f" stroke-width="1.7"/>
<line x1="504.55" y1="425.50" x2="504.55" y2="427.50" stroke="#c0121f" stroke-width="0.7"/>
<text x="511.30" y="429.10" font-size="4.47" text-anchor="start" font-weight="normal" fill="#000" stroke="#000" stroke-width="0.1" text-rendering="auto" >AJCC Stage 2</text>
<line x1="501.00000000000006" y1="436.40" x2="508.1" y2="436.40" stroke="#ec7434" stroke-width="1.7"/>
<line x1="504.55" y1="434.40" x2="504.55" y2="436.40" stroke="#ec7434" stroke-width="0.7"/>
<text x="511.30" y="438.00" font-size="4.47" text-anchor="start" font-weight="normal" fill="#000" stroke="#000" stroke-width="0.1" text-rendering="auto" >AJCC Stage 3</text>
</svg>
</body></html>
